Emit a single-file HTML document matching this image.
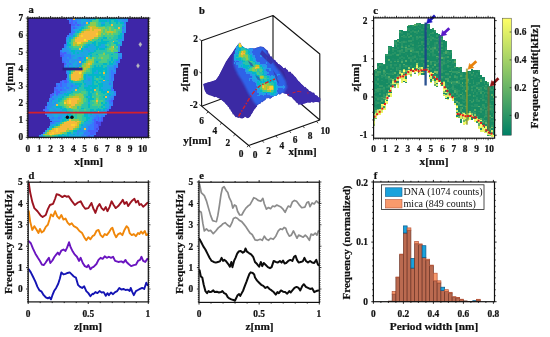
<!DOCTYPE html>
<html lang="en"><head><meta charset="utf-8"><title>Figure</title>
<style>html,body{margin:0;padding:0;background:#fff}body{width:550px;height:337px;overflow:hidden}svg{display:block}.b{font-weight:bold;stroke:#111;stroke-width:.22px}</style>
</head><body>
<svg width="550" height="337" viewBox="0 0 550 337" font-family="'Liberation Serif', 'DejaVu Serif', serif">
<defs><linearGradient id="summer" x1="0" y1="1" x2="0" y2="0"><stop offset="0" stop-color="#008066"/><stop offset="1" stop-color="#ffff66"/></linearGradient><filter id="bl0" x="-5%" y="-5%" width="110%" height="110%"><feGaussianBlur stdDeviation="0.45"/></filter><filter id="bl1" x="-10%" y="-10%" width="120%" height="120%"><feGaussianBlur stdDeviation="1.2"/></filter><filter id="bl2" x="-10%" y="-10%" width="120%" height="120%"><feGaussianBlur stdDeviation="0.5"/></filter><filter id="bl3" x="-5%" y="-5%" width="110%" height="110%"><feGaussianBlur stdDeviation="0.4"/></filter></defs>
<rect width="550" height="337" fill="#fff"/>
<rect x="27.9" y="18.1" width="120.4" height="119.2" fill="#3e26a8"/>
<g filter="url(#bl0)" shape-rendering="crispEdges">
<path fill="#347afd" d="M67.41 18.1h3.81v1.91h-3.81zM123.84 18.1h1.93v1.91h-1.93zM69.29 19.96h1.93v1.91h-1.93zM73.05 19.96h3.81v1.91h-3.81zM73.05 21.83h1.93v1.91h-1.93zM123.84 21.83h1.93v1.91h-1.93zM74.93 23.69h1.93v1.91h-1.93zM78.69 23.69h1.93v1.91h-1.93zM71.17 25.55h3.81v1.91h-3.81zM71.17 27.41h1.93v1.91h-1.93zM74.93 27.41h1.93v1.91h-1.93zM121.96 27.41h1.93v1.91h-1.93zM71.17 29.28h1.93v1.91h-1.93zM71.17 31.14h3.81v1.91h-3.81zM121.96 31.14h1.93v1.91h-1.93zM69.29 33h3.81v1.91h-3.81zM67.41 34.86h1.93v1.91h-1.93zM65.53 36.73h1.93v1.91h-1.93zM65.53 38.59h1.93v1.91h-1.93zM65.53 42.31h1.93v1.91h-1.93zM63.64 44.18h3.81v1.91h-3.81zM63.64 46.04h1.93v1.91h-1.93zM59.88 49.76h1.93v1.91h-1.93zM61.76 51.63h1.93v1.91h-1.93zM65.53 51.63h1.93v1.91h-1.93zM116.32 51.63h1.93v1.91h-1.93zM63.64 53.49h7.58v1.91h-7.58zM63.64 55.35h7.58v1.91h-7.58zM61.76 57.21h5.69v1.91h-5.69zM69.29 57.21h1.93v1.91h-1.93zM78.69 57.21h1.93v1.91h-1.93zM118.2 57.21h3.81v1.91h-3.81zM61.76 59.08h7.58v1.91h-7.58zM118.2 59.08h1.93v1.91h-1.93zM63.64 60.94h1.93v1.91h-1.93zM67.41 60.94h1.93v1.91h-1.93zM116.32 60.94h3.81v1.91h-3.81zM65.53 62.8h1.93v1.91h-1.93zM69.29 62.8h1.93v1.91h-1.93zM63.64 64.66h1.93v1.91h-1.93zM67.41 64.66h1.93v1.91h-1.93zM114.44 64.66h1.93v1.91h-1.93zM114.44 66.53h3.81v1.91h-3.81zM63.64 68.39h1.93v1.91h-1.93zM114.44 68.39h1.93v1.91h-1.93zM65.53 70.25h1.93v1.91h-1.93zM110.68 70.25h1.93v1.91h-1.93zM65.53 72.11h1.93v1.91h-1.93zM110.68 72.11h5.69v1.91h-5.69zM110.68 73.98h3.81v1.91h-3.81zM110.68 75.84h3.81v1.91h-3.81zM110.68 77.7h1.93v1.91h-1.93zM110.68 79.56h3.81v1.91h-3.81zM61.76 81.43h1.93v1.91h-1.93zM67.41 81.43h1.93v1.91h-1.93zM56.12 83.29h3.81v1.91h-3.81zM61.76 83.29h5.69v1.91h-5.69zM108.79 83.29h1.93v1.91h-1.93zM58 85.15h1.93v1.91h-1.93zM61.76 85.15h5.69v1.91h-5.69zM71.17 85.15h1.93v1.91h-1.93zM56.12 87.01h7.58v1.91h-7.58zM65.53 87.01h3.81v1.91h-3.81zM110.68 87.01h1.93v1.91h-1.93zM58 88.88h1.93v1.91h-1.93zM61.76 88.88h3.81v1.91h-3.81zM110.68 88.88h3.81v1.91h-3.81zM54.24 90.74h1.93v1.91h-1.93zM114.44 90.74h1.93v1.91h-1.93zM54.24 92.6h1.93v1.91h-1.93zM58 92.6h3.81v1.91h-3.81zM56.12 94.46h1.93v1.91h-1.93zM114.44 94.46h1.93v1.91h-1.93zM112.56 96.33h1.93v1.91h-1.93zM48.59 98.19h1.93v1.91h-1.93zM52.36 98.19h1.93v1.91h-1.93zM110.68 98.19h3.81v1.91h-3.81zM50.48 100.05h1.93v1.91h-1.93zM108.79 100.05h1.93v1.91h-1.93zM48.59 101.91h1.93v1.91h-1.93zM108.79 101.91h3.81v1.91h-3.81zM46.71 103.78h1.93v1.91h-1.93zM110.68 103.78h1.93v1.91h-1.93zM108.79 105.64h1.93v1.91h-1.93zM108.79 107.5h1.93v1.91h-1.93zM44.83 109.36h3.81v1.91h-3.81zM106.91 109.36h1.93v1.91h-1.93zM44.83 111.23h3.81v1.91h-3.81zM44.83 113.09h1.93v1.91h-1.93zM105.03 113.09h1.93v1.91h-1.93zM95.62 114.95h3.81v1.91h-3.81zM101.27 114.95h3.81v1.91h-3.81zM52.36 116.81h1.93v1.91h-1.93zM58 116.81h1.93v1.91h-1.93zM93.74 116.81h3.81v1.91h-3.81zM99.39 116.81h1.93v1.91h-1.93zM50.48 118.68h1.93v1.91h-1.93zM91.86 118.68h1.93v1.91h-1.93zM95.62 118.68h1.93v1.91h-1.93zM99.39 118.68h1.93v1.91h-1.93zM52.36 120.54h7.58v1.91h-7.58zM50.48 122.4h3.81v1.91h-3.81zM91.86 122.4h1.93v1.91h-1.93zM89.98 124.26h3.81v1.91h-3.81zM88.1 126.13h5.69v1.91h-5.69zM88.1 127.99h5.69v1.91h-5.69zM86.22 129.85h1.93v1.91h-1.93zM42.95 131.71h1.93v1.91h-1.93zM84.34 131.71h5.69v1.91h-5.69zM84.34 133.58h5.69v1.91h-5.69zM93.74 133.58h1.93v1.91h-1.93zM82.46 135.44h1.93v1.91h-1.93zM86.22 135.44h1.93v1.91h-1.93zM89.98 135.44h3.81v1.91h-3.81z"/>
<path fill="#465ffb" d="M71.17 18.1h1.93v1.91h-1.93zM71.17 19.96h1.93v1.91h-1.93zM69.29 21.83h3.81v1.91h-3.81zM74.93 21.83h1.93v1.91h-1.93zM71.17 23.69h3.81v1.91h-3.81zM76.81 23.69h1.93v1.91h-1.93zM73.05 27.41h1.93v1.91h-1.93zM59.88 51.63h1.93v1.91h-1.93zM63.64 51.63h1.93v1.91h-1.93zM59.88 53.49h3.81v1.91h-3.81zM61.76 55.35h1.93v1.91h-1.93zM61.76 60.94h1.93v1.91h-1.93zM63.64 62.8h1.93v1.91h-1.93zM65.53 77.7h1.93v1.91h-1.93zM61.76 79.56h5.69v1.91h-5.69zM59.88 81.43h1.93v1.91h-1.93zM63.64 81.43h3.81v1.91h-3.81zM59.88 83.29h1.93v1.91h-1.93zM56.12 85.15h1.93v1.91h-1.93zM59.88 85.15h1.93v1.91h-1.93zM54.24 87.01h1.93v1.91h-1.93zM54.24 88.88h3.81v1.91h-3.81zM59.88 88.88h1.93v1.91h-1.93zM56.12 90.74h3.81v1.91h-3.81zM52.36 92.6h1.93v1.91h-1.93zM56.12 92.6h1.93v1.91h-1.93zM50.48 94.46h3.81v1.91h-3.81zM50.48 96.33h1.93v1.91h-1.93zM110.68 100.05h1.93v1.91h-1.93zM44.83 105.64h1.93v1.91h-1.93zM44.83 107.5h1.93v1.91h-1.93zM42.95 109.36h1.93v1.91h-1.93zM97.51 116.81h1.93v1.91h-1.93zM101.27 116.81h1.93v1.91h-1.93zM93.74 118.68h1.93v1.91h-1.93zM97.51 118.68h1.93v1.91h-1.93zM101.27 118.68h1.93v1.91h-1.93zM93.74 120.54h1.93v1.91h-1.93zM97.51 120.54h3.81v1.91h-3.81zM93.74 122.4h1.93v1.91h-1.93zM93.74 124.26h3.81v1.91h-3.81zM93.74 126.13h3.81v1.91h-3.81zM93.74 127.99h1.93v1.91h-1.93zM97.51 127.99h1.93v1.91h-1.93zM88.1 129.85h9.46v1.91h-9.46zM89.98 131.71h5.69v1.91h-5.69zM89.98 133.58h3.81v1.91h-3.81zM88.1 135.44h1.93v1.91h-1.93z"/>
<path fill="#f6ba3b" d="M73.05 18.1h1.93v1.91h-1.93zM86.22 21.83h1.93v1.91h-1.93zM110.68 23.69h1.93v1.91h-1.93zM89.98 27.41h1.93v1.91h-1.93zM118.2 27.41h1.93v1.91h-1.93zM89.98 29.28h1.93v1.91h-1.93zM93.74 29.28h7.58v1.91h-7.58zM84.34 31.14h13.22v1.91h-13.22zM80.58 33h15.1v1.91h-15.1zM78.69 34.86h1.93v1.91h-1.93zM82.46 34.86h15.1v1.91h-15.1zM76.81 36.73h16.98v1.91h-16.98zM74.93 38.59h9.46v1.91h-9.46zM86.22 38.59h3.81v1.91h-3.81zM74.93 40.45h13.22v1.91h-13.22zM112.56 40.45h1.93v1.91h-1.93zM80.58 46.04h1.93v1.91h-1.93zM112.56 46.04h1.93v1.91h-1.93zM78.69 47.9h1.93v1.91h-1.93zM86.22 57.21h1.93v1.91h-1.93zM78.69 60.94h1.93v1.91h-1.93zM88.1 62.8h1.93v1.91h-1.93zM78.69 66.53h1.93v1.91h-1.93zM78.69 68.39h1.93v1.91h-1.93zM74.93 70.25h7.58v1.91h-7.58zM73.05 72.11h5.69v1.91h-5.69zM80.58 72.11h1.93v1.91h-1.93zM103.15 72.11h1.93v1.91h-1.93zM71.17 73.98h9.46v1.91h-9.46zM71.17 75.84h9.46v1.91h-9.46zM71.17 77.7h7.58v1.91h-7.58zM74.93 79.56h1.93v1.91h-1.93zM103.15 79.56h1.93v1.91h-1.93zM74.93 88.88h1.93v1.91h-1.93zM93.74 88.88h1.93v1.91h-1.93zM106.91 90.74h1.93v1.91h-1.93zM105.03 96.33h1.93v1.91h-1.93zM69.29 98.19h9.46v1.91h-9.46zM67.41 100.05h1.93v1.91h-1.93zM71.17 100.05h5.69v1.91h-5.69zM95.62 100.05h1.93v1.91h-1.93zM67.41 101.91h1.93v1.91h-1.93zM71.17 101.91h5.69v1.91h-5.69zM56.12 103.78h1.93v1.91h-1.93zM71.17 103.78h3.81v1.91h-3.81zM69.29 105.64h1.93v1.91h-1.93zM97.51 111.23h1.93v1.91h-1.93zM69.29 118.68h1.93v1.91h-1.93zM67.41 120.54h7.58v1.91h-7.58zM76.81 120.54h1.93v1.91h-1.93zM63.64 122.4h13.22v1.91h-13.22zM61.76 124.26h9.46v1.91h-9.46zM74.93 124.26h1.93v1.91h-1.93zM59.88 126.13h15.1v1.91h-15.1zM54.24 127.99h1.93v1.91h-1.93zM58 127.99h9.46v1.91h-9.46zM69.29 127.99h3.81v1.91h-3.81zM84.34 127.99h1.93v1.91h-1.93zM50.48 129.85h5.69v1.91h-5.69zM58 129.85h7.58v1.91h-7.58zM48.59 131.71h3.81v1.91h-3.81zM54.24 131.71h5.69v1.91h-5.69zM48.59 133.58h1.93v1.91h-1.93zM52.36 133.58h1.93v1.91h-1.93z"/>
<path fill="#2a93ee" d="M74.93 18.1h5.69v1.91h-5.69zM86.22 18.1h3.81v1.91h-3.81zM118.2 18.1h5.69v1.91h-5.69zM125.72 18.1h1.93v1.91h-1.93zM76.81 19.96h3.81v1.91h-3.81zM88.1 19.96h1.93v1.91h-1.93zM121.96 19.96h5.69v1.91h-5.69zM76.81 21.83h3.81v1.91h-3.81zM82.46 21.83h3.81v1.91h-3.81zM80.58 23.69h3.81v1.91h-3.81zM123.84 23.69h1.93v1.91h-1.93zM74.93 25.55h5.69v1.91h-5.69zM123.84 25.55h1.93v1.91h-1.93zM76.81 27.41h1.93v1.91h-1.93zM123.84 27.41h1.93v1.91h-1.93zM73.05 29.28h1.93v1.91h-1.93zM121.96 29.28h3.81v1.91h-3.81zM123.84 31.14h1.93v1.91h-1.93zM69.29 34.86h3.81v1.91h-3.81zM121.96 34.86h1.93v1.91h-1.93zM67.41 36.73h1.93v1.91h-1.93zM121.96 36.73h1.93v1.91h-1.93zM120.08 38.59h3.81v1.91h-3.81zM65.53 40.45h1.93v1.91h-1.93zM120.08 40.45h1.93v1.91h-1.93zM118.2 44.18h3.81v1.91h-3.81zM118.2 46.04h1.93v1.91h-1.93zM61.76 47.9h5.69v1.91h-5.69zM86.22 47.9h1.93v1.91h-1.93zM118.2 47.9h1.93v1.91h-1.93zM61.76 49.76h7.58v1.91h-7.58zM88.1 49.76h1.93v1.91h-1.93zM118.2 49.76h1.93v1.91h-1.93zM67.41 51.63h3.81v1.91h-3.81zM82.46 51.63h1.93v1.91h-1.93zM114.44 51.63h1.93v1.91h-1.93zM76.81 53.49h1.93v1.91h-1.93zM80.58 53.49h1.93v1.91h-1.93zM118.2 53.49h3.81v1.91h-3.81zM71.17 55.35h3.81v1.91h-3.81zM82.46 55.35h1.93v1.91h-1.93zM118.2 55.35h3.81v1.91h-3.81zM67.41 57.21h1.93v1.91h-1.93zM71.17 57.21h1.93v1.91h-1.93zM76.81 57.21h1.93v1.91h-1.93zM80.58 57.21h3.81v1.91h-3.81zM69.29 59.08h13.22v1.91h-13.22zM65.53 60.94h1.93v1.91h-1.93zM71.17 60.94h3.81v1.91h-3.81zM76.81 60.94h1.93v1.91h-1.93zM80.58 60.94h1.93v1.91h-1.93zM67.41 62.8h1.93v1.91h-1.93zM71.17 62.8h1.93v1.91h-1.93zM76.81 62.8h5.69v1.91h-5.69zM116.32 62.8h1.93v1.91h-1.93zM71.17 64.66h1.93v1.91h-1.93zM74.93 64.66h3.81v1.91h-3.81zM112.56 64.66h1.93v1.91h-1.93zM116.32 64.66h1.93v1.91h-1.93zM63.64 66.53h1.93v1.91h-1.93zM67.41 66.53h1.93v1.91h-1.93zM108.79 66.53h5.69v1.91h-5.69zM65.53 68.39h1.93v1.91h-1.93zM108.79 68.39h5.69v1.91h-5.69zM108.79 70.25h1.93v1.91h-1.93zM112.56 70.25h3.81v1.91h-3.81zM67.41 72.11h1.93v1.91h-1.93zM108.79 72.11h1.93v1.91h-1.93zM67.41 73.98h1.93v1.91h-1.93zM108.79 73.98h1.93v1.91h-1.93zM67.41 75.84h1.93v1.91h-1.93zM108.79 75.84h1.93v1.91h-1.93zM67.41 77.7h1.93v1.91h-1.93zM88.1 77.7h1.93v1.91h-1.93zM108.79 77.7h1.93v1.91h-1.93zM112.56 77.7h1.93v1.91h-1.93zM67.41 79.56h1.93v1.91h-1.93zM88.1 79.56h1.93v1.91h-1.93zM108.79 79.56h1.93v1.91h-1.93zM108.79 81.43h3.81v1.91h-3.81zM67.41 83.29h5.69v1.91h-5.69zM110.68 83.29h1.93v1.91h-1.93zM67.41 85.15h3.81v1.91h-3.81zM73.05 85.15h3.81v1.91h-3.81zM110.68 85.15h1.93v1.91h-1.93zM63.64 87.01h1.93v1.91h-1.93zM69.29 87.01h3.81v1.91h-3.81zM74.93 87.01h1.93v1.91h-1.93zM65.53 88.88h5.69v1.91h-5.69zM59.88 90.74h7.58v1.91h-7.58zM61.76 92.6h1.93v1.91h-1.93zM112.56 92.6h3.81v1.91h-3.81zM54.24 94.46h1.93v1.91h-1.93zM58 94.46h1.93v1.91h-1.93zM110.68 94.46h3.81v1.91h-3.81zM52.36 96.33h5.69v1.91h-5.69zM108.79 96.33h3.81v1.91h-3.81zM50.48 98.19h1.93v1.91h-1.93zM54.24 98.19h1.93v1.91h-1.93zM108.79 98.19h1.93v1.91h-1.93zM48.59 100.05h1.93v1.91h-1.93zM106.91 100.05h1.93v1.91h-1.93zM46.71 101.91h1.93v1.91h-1.93zM50.48 101.91h1.93v1.91h-1.93zM54.24 101.91h1.93v1.91h-1.93zM48.59 103.78h5.69v1.91h-5.69zM108.79 103.78h1.93v1.91h-1.93zM46.71 105.64h5.69v1.91h-5.69zM46.71 107.5h3.81v1.91h-3.81zM52.36 107.5h1.93v1.91h-1.93zM106.91 107.5h1.93v1.91h-1.93zM54.24 109.36h1.93v1.91h-1.93zM105.03 109.36h1.93v1.91h-1.93zM48.59 111.23h1.93v1.91h-1.93zM59.88 111.23h1.93v1.91h-1.93zM99.39 111.23h1.93v1.91h-1.93zM103.15 111.23h3.81v1.91h-3.81zM46.71 113.09h5.69v1.91h-5.69zM93.74 113.09h9.46v1.91h-9.46zM46.71 114.95h7.58v1.91h-7.58zM58 114.95h3.81v1.91h-3.81zM65.53 114.95h1.93v1.91h-1.93zM89.98 114.95h5.69v1.91h-5.69zM99.39 114.95h1.93v1.91h-1.93zM48.59 116.81h3.81v1.91h-3.81zM54.24 116.81h3.81v1.91h-3.81zM59.88 116.81h1.93v1.91h-1.93zM91.86 116.81h1.93v1.91h-1.93zM52.36 118.68h7.58v1.91h-7.58zM88.1 120.54h5.69v1.91h-5.69zM54.24 122.4h1.93v1.91h-1.93zM89.98 122.4h1.93v1.91h-1.93zM50.48 124.26h1.93v1.91h-1.93zM86.22 124.26h3.81v1.91h-3.81zM48.59 126.13h1.93v1.91h-1.93zM82.46 126.13h1.93v1.91h-1.93zM86.22 126.13h1.93v1.91h-1.93zM46.71 127.99h1.93v1.91h-1.93zM80.58 127.99h1.93v1.91h-1.93zM86.22 127.99h1.93v1.91h-1.93zM44.83 129.85h1.93v1.91h-1.93zM76.81 129.85h9.46v1.91h-9.46zM76.81 131.71h1.93v1.91h-1.93zM82.46 131.71h1.93v1.91h-1.93zM41.07 133.58h1.93v1.91h-1.93zM76.81 133.58h1.93v1.91h-1.93zM80.58 133.58h3.81v1.91h-3.81zM39.19 135.44h3.81v1.91h-3.81zM80.58 135.44h1.93v1.91h-1.93zM84.34 135.44h1.93v1.91h-1.93z"/>
<path fill="#1da8e0" d="M80.58 18.1h5.69v1.91h-5.69zM89.98 18.1h3.81v1.91h-3.81zM101.27 18.1h7.58v1.91h-7.58zM116.32 18.1h1.93v1.91h-1.93zM80.58 19.96h7.58v1.91h-7.58zM106.91 19.96h1.93v1.91h-1.93zM118.2 19.96h3.81v1.91h-3.81zM80.58 21.83h1.93v1.91h-1.93zM101.27 21.83h3.81v1.91h-3.81zM84.34 23.69h1.93v1.91h-1.93zM121.96 23.69h1.93v1.91h-1.93zM80.58 25.55h3.81v1.91h-3.81zM78.69 27.41h1.93v1.91h-1.93zM74.93 29.28h3.81v1.91h-3.81zM74.93 31.14h1.93v1.91h-1.93zM73.05 33h1.93v1.91h-1.93zM121.96 33h1.93v1.91h-1.93zM71.17 36.73h1.93v1.91h-1.93zM67.41 38.59h1.93v1.91h-1.93zM118.2 38.59h1.93v1.91h-1.93zM67.41 40.45h1.93v1.91h-1.93zM118.2 40.45h1.93v1.91h-1.93zM120.08 42.31h1.93v1.91h-1.93zM86.22 44.18h1.93v1.91h-1.93zM89.98 44.18h3.81v1.91h-3.81zM101.27 44.18h3.81v1.91h-3.81zM65.53 46.04h3.81v1.91h-3.81zM88.1 46.04h7.58v1.91h-7.58zM99.39 46.04h5.69v1.91h-5.69zM67.41 47.9h3.81v1.91h-3.81zM82.46 47.9h3.81v1.91h-3.81zM88.1 47.9h7.58v1.91h-7.58zM69.29 49.76h1.93v1.91h-1.93zM74.93 49.76h5.69v1.91h-5.69zM82.46 49.76h5.69v1.91h-5.69zM89.98 49.76h3.81v1.91h-3.81zM71.17 51.63h1.93v1.91h-1.93zM74.93 51.63h1.93v1.91h-1.93zM78.69 51.63h3.81v1.91h-3.81zM84.34 51.63h5.69v1.91h-5.69zM71.17 53.49h5.69v1.91h-5.69zM78.69 53.49h1.93v1.91h-1.93zM82.46 53.49h5.69v1.91h-5.69zM89.98 53.49h1.93v1.91h-1.93zM74.93 55.35h7.58v1.91h-7.58zM84.34 55.35h3.81v1.91h-3.81zM73.05 57.21h3.81v1.91h-3.81zM82.46 59.08h1.93v1.91h-1.93zM114.44 59.08h1.93v1.91h-1.93zM69.29 60.94h1.93v1.91h-1.93zM74.93 60.94h1.93v1.91h-1.93zM114.44 60.94h1.93v1.91h-1.93zM73.05 62.8h3.81v1.91h-3.81zM112.56 62.8h3.81v1.91h-3.81zM65.53 64.66h1.93v1.91h-1.93zM69.29 64.66h1.93v1.91h-1.93zM73.05 64.66h1.93v1.91h-1.93zM106.91 64.66h5.69v1.91h-5.69zM65.53 66.53h1.93v1.91h-1.93zM69.29 66.53h3.81v1.91h-3.81zM106.91 66.53h1.93v1.91h-1.93zM67.41 68.39h5.69v1.91h-5.69zM106.91 68.39h1.93v1.91h-1.93zM67.41 70.25h1.93v1.91h-1.93zM95.62 70.25h1.93v1.91h-1.93zM106.91 70.25h1.93v1.91h-1.93zM93.74 72.11h3.81v1.91h-3.81zM106.91 72.11h1.93v1.91h-1.93zM86.22 73.98h1.93v1.91h-1.93zM105.03 73.98h3.81v1.91h-3.81zM86.22 75.84h5.69v1.91h-5.69zM105.03 75.84h3.81v1.91h-3.81zM86.22 77.7h1.93v1.91h-1.93zM89.98 77.7h1.93v1.91h-1.93zM105.03 77.7h3.81v1.91h-3.81zM84.34 79.56h3.81v1.91h-3.81zM89.98 79.56h1.93v1.91h-1.93zM105.03 79.56h1.93v1.91h-1.93zM69.29 81.43h1.93v1.91h-1.93zM84.34 81.43h7.58v1.91h-7.58zM101.27 81.43h7.58v1.91h-7.58zM73.05 83.29h1.93v1.91h-1.93zM86.22 83.29h5.69v1.91h-5.69zM103.15 83.29h5.69v1.91h-5.69zM76.81 85.15h1.93v1.91h-1.93zM84.34 85.15h3.81v1.91h-3.81zM103.15 85.15h7.58v1.91h-7.58zM73.05 87.01h1.93v1.91h-1.93zM89.98 87.01h1.93v1.91h-1.93zM101.27 87.01h9.46v1.91h-9.46zM71.17 88.88h3.81v1.91h-3.81zM103.15 88.88h3.81v1.91h-3.81zM67.41 90.74h3.81v1.91h-3.81zM108.79 90.74h5.69v1.91h-5.69zM65.53 92.6h1.93v1.91h-1.93zM108.79 92.6h3.81v1.91h-3.81zM59.88 94.46h5.69v1.91h-5.69zM106.91 94.46h1.93v1.91h-1.93zM58 96.33h3.81v1.91h-3.81zM88.1 96.33h1.93v1.91h-1.93zM106.91 96.33h1.93v1.91h-1.93zM56.12 98.19h1.93v1.91h-1.93zM106.91 98.19h1.93v1.91h-1.93zM52.36 100.05h5.69v1.91h-5.69zM105.03 100.05h1.93v1.91h-1.93zM52.36 101.91h1.93v1.91h-1.93zM56.12 101.91h1.93v1.91h-1.93zM88.1 101.91h1.93v1.91h-1.93zM106.91 101.91h1.93v1.91h-1.93zM54.24 103.78h1.93v1.91h-1.93zM105.03 103.78h3.81v1.91h-3.81zM52.36 105.64h3.81v1.91h-3.81zM105.03 105.64h3.81v1.91h-3.81zM50.48 107.5h1.93v1.91h-1.93zM54.24 107.5h5.69v1.91h-5.69zM61.76 107.5h1.93v1.91h-1.93zM48.59 109.36h5.69v1.91h-5.69zM56.12 109.36h5.69v1.91h-5.69zM101.27 109.36h1.93v1.91h-1.93zM50.48 111.23h9.46v1.91h-9.46zM61.76 111.23h3.81v1.91h-3.81zM67.41 111.23h1.93v1.91h-1.93zM91.86 111.23h1.93v1.91h-1.93zM95.62 111.23h1.93v1.91h-1.93zM101.27 111.23h1.93v1.91h-1.93zM52.36 113.09h15.1v1.91h-15.1zM88.1 113.09h1.93v1.91h-1.93zM91.86 113.09h1.93v1.91h-1.93zM103.15 113.09h1.93v1.91h-1.93zM54.24 114.95h3.81v1.91h-3.81zM61.76 114.95h3.81v1.91h-3.81zM67.41 114.95h1.93v1.91h-1.93zM88.1 114.95h1.93v1.91h-1.93zM61.76 116.81h1.93v1.91h-1.93zM65.53 116.81h1.93v1.91h-1.93zM89.98 116.81h1.93v1.91h-1.93zM59.88 118.68h1.93v1.91h-1.93zM88.1 118.68h3.81v1.91h-3.81zM59.88 120.54h1.93v1.91h-1.93zM86.22 120.54h1.93v1.91h-1.93zM56.12 122.4h3.81v1.91h-3.81zM84.34 122.4h5.69v1.91h-5.69zM52.36 124.26h3.81v1.91h-3.81zM82.46 124.26h3.81v1.91h-3.81zM50.48 126.13h1.93v1.91h-1.93zM80.58 126.13h1.93v1.91h-1.93zM84.34 126.13h1.93v1.91h-1.93zM82.46 127.99h1.93v1.91h-1.93zM73.05 131.71h3.81v1.91h-3.81zM78.69 131.71h3.81v1.91h-3.81zM69.29 133.58h3.81v1.91h-3.81zM74.93 133.58h1.93v1.91h-1.93zM78.69 133.58h1.93v1.91h-1.93zM61.76 135.44h1.93v1.91h-1.93zM65.53 135.44h1.93v1.91h-1.93zM69.29 135.44h11.34v1.91h-11.34z"/>
<path fill="#01b8c8" d="M93.74 18.1h1.93v1.91h-1.93zM99.39 18.1h1.93v1.91h-1.93zM108.79 18.1h7.58v1.91h-7.58zM89.98 19.96h1.93v1.91h-1.93zM99.39 19.96h7.58v1.91h-7.58zM108.79 19.96h1.93v1.91h-1.93zM114.44 19.96h3.81v1.91h-3.81zM88.1 21.83h1.93v1.91h-1.93zM108.79 21.83h1.93v1.91h-1.93zM116.32 21.83h1.93v1.91h-1.93zM120.08 21.83h3.81v1.91h-3.81zM101.27 23.69h3.81v1.91h-3.81zM121.96 25.55h1.93v1.91h-1.93zM80.58 27.41h3.81v1.91h-3.81zM78.69 29.28h3.81v1.91h-3.81zM76.81 31.14h1.93v1.91h-1.93zM120.08 33h1.93v1.91h-1.93zM73.05 34.86h1.93v1.91h-1.93zM118.2 34.86h3.81v1.91h-3.81zM69.29 36.73h1.93v1.91h-1.93zM103.15 36.73h3.81v1.91h-3.81zM118.2 36.73h3.81v1.91h-3.81zM69.29 38.59h1.93v1.91h-1.93zM97.51 38.59h1.93v1.91h-1.93zM101.27 38.59h1.93v1.91h-1.93zM116.32 38.59h1.93v1.91h-1.93zM69.29 40.45h1.93v1.91h-1.93zM93.74 40.45h1.93v1.91h-1.93zM101.27 40.45h7.58v1.91h-7.58zM67.41 42.31h1.93v1.91h-1.93zM91.86 42.31h3.81v1.91h-3.81zM97.51 42.31h9.46v1.91h-9.46zM114.44 42.31h3.81v1.91h-3.81zM67.41 44.18h3.81v1.91h-3.81zM88.1 44.18h1.93v1.91h-1.93zM93.74 44.18h1.93v1.91h-1.93zM97.51 44.18h3.81v1.91h-3.81zM116.32 44.18h1.93v1.91h-1.93zM84.34 46.04h3.81v1.91h-3.81zM95.62 46.04h3.81v1.91h-3.81zM105.03 46.04h1.93v1.91h-1.93zM80.58 47.9h1.93v1.91h-1.93zM95.62 47.9h1.93v1.91h-1.93zM99.39 47.9h5.69v1.91h-5.69zM71.17 49.76h3.81v1.91h-3.81zM80.58 49.76h1.93v1.91h-1.93zM93.74 49.76h1.93v1.91h-1.93zM73.05 51.63h1.93v1.91h-1.93zM76.81 51.63h1.93v1.91h-1.93zM89.98 51.63h3.81v1.91h-3.81zM88.1 53.49h1.93v1.91h-1.93zM95.62 53.49h1.93v1.91h-1.93zM110.68 53.49h1.93v1.91h-1.93zM89.98 55.35h1.93v1.91h-1.93zM84.34 57.21h1.93v1.91h-1.93zM110.68 57.21h1.93v1.91h-1.93zM84.34 59.08h1.93v1.91h-1.93zM110.68 59.08h1.93v1.91h-1.93zM116.32 59.08h1.93v1.91h-1.93zM82.46 60.94h1.93v1.91h-1.93zM95.62 60.94h1.93v1.91h-1.93zM108.79 60.94h1.93v1.91h-1.93zM112.56 60.94h1.93v1.91h-1.93zM103.15 62.8h3.81v1.91h-3.81zM108.79 62.8h3.81v1.91h-3.81zM78.69 64.66h1.93v1.91h-1.93zM93.74 64.66h1.93v1.91h-1.93zM97.51 64.66h1.93v1.91h-1.93zM101.27 64.66h1.93v1.91h-1.93zM73.05 66.53h1.93v1.91h-1.93zM76.81 66.53h1.93v1.91h-1.93zM93.74 66.53h9.46v1.91h-9.46zM105.03 66.53h1.93v1.91h-1.93zM91.86 68.39h15.1v1.91h-15.1zM69.29 70.25h1.93v1.91h-1.93zM91.86 70.25h3.81v1.91h-3.81zM97.51 70.25h5.69v1.91h-5.69zM105.03 70.25h1.93v1.91h-1.93zM69.29 72.11h1.93v1.91h-1.93zM91.86 72.11h1.93v1.91h-1.93zM97.51 72.11h1.93v1.91h-1.93zM101.27 72.11h1.93v1.91h-1.93zM105.03 72.11h1.93v1.91h-1.93zM84.34 73.98h1.93v1.91h-1.93zM88.1 73.98h15.1v1.91h-15.1zM84.34 75.84h1.93v1.91h-1.93zM91.86 75.84h1.93v1.91h-1.93zM95.62 75.84h3.81v1.91h-3.81zM101.27 75.84h3.81v1.91h-3.81zM84.34 77.7h1.93v1.91h-1.93zM91.86 77.7h1.93v1.91h-1.93zM103.15 77.7h1.93v1.91h-1.93zM69.29 79.56h1.93v1.91h-1.93zM82.46 79.56h1.93v1.91h-1.93zM91.86 79.56h3.81v1.91h-3.81zM99.39 79.56h3.81v1.91h-3.81zM106.91 79.56h1.93v1.91h-1.93zM71.17 81.43h1.93v1.91h-1.93zM82.46 81.43h1.93v1.91h-1.93zM91.86 81.43h1.93v1.91h-1.93zM95.62 81.43h1.93v1.91h-1.93zM74.93 83.29h7.58v1.91h-7.58zM84.34 83.29h1.93v1.91h-1.93zM91.86 83.29h1.93v1.91h-1.93zM97.51 83.29h5.69v1.91h-5.69zM78.69 85.15h1.93v1.91h-1.93zM88.1 85.15h9.46v1.91h-9.46zM99.39 85.15h3.81v1.91h-3.81zM76.81 87.01h1.93v1.91h-1.93zM84.34 87.01h5.69v1.91h-5.69zM91.86 87.01h3.81v1.91h-3.81zM99.39 87.01h1.93v1.91h-1.93zM86.22 88.88h7.58v1.91h-7.58zM99.39 88.88h3.81v1.91h-3.81zM106.91 88.88h3.81v1.91h-3.81zM71.17 90.74h1.93v1.91h-1.93zM88.1 90.74h1.93v1.91h-1.93zM91.86 90.74h1.93v1.91h-1.93zM101.27 90.74h5.69v1.91h-5.69zM63.64 92.6h1.93v1.91h-1.93zM67.41 92.6h3.81v1.91h-3.81zM88.1 92.6h3.81v1.91h-3.81zM103.15 92.6h1.93v1.91h-1.93zM106.91 92.6h1.93v1.91h-1.93zM65.53 94.46h3.81v1.91h-3.81zM88.1 94.46h3.81v1.91h-3.81zM105.03 94.46h1.93v1.91h-1.93zM108.79 94.46h1.93v1.91h-1.93zM61.76 96.33h1.93v1.91h-1.93zM86.22 96.33h1.93v1.91h-1.93zM89.98 96.33h1.93v1.91h-1.93zM103.15 96.33h1.93v1.91h-1.93zM58 98.19h3.81v1.91h-3.81zM88.1 98.19h5.69v1.91h-5.69zM105.03 98.19h1.93v1.91h-1.93zM58 100.05h1.93v1.91h-1.93zM88.1 100.05h1.93v1.91h-1.93zM101.27 101.91h1.93v1.91h-1.93zM105.03 101.91h1.93v1.91h-1.93zM88.1 103.78h1.93v1.91h-1.93zM103.15 103.78h1.93v1.91h-1.93zM56.12 105.64h5.69v1.91h-5.69zM88.1 105.64h1.93v1.91h-1.93zM101.27 105.64h1.93v1.91h-1.93zM59.88 107.5h1.93v1.91h-1.93zM63.64 107.5h1.93v1.91h-1.93zM80.58 107.5h3.81v1.91h-3.81zM97.51 107.5h1.93v1.91h-1.93zM103.15 107.5h3.81v1.91h-3.81zM61.76 109.36h5.69v1.91h-5.69zM89.98 109.36h3.81v1.91h-3.81zM95.62 109.36h5.69v1.91h-5.69zM103.15 109.36h1.93v1.91h-1.93zM65.53 111.23h1.93v1.91h-1.93zM89.98 111.23h1.93v1.91h-1.93zM93.74 111.23h1.93v1.91h-1.93zM67.41 113.09h3.81v1.91h-3.81zM84.34 113.09h3.81v1.91h-3.81zM89.98 113.09h1.93v1.91h-1.93zM69.29 114.95h3.81v1.91h-3.81zM84.34 114.95h3.81v1.91h-3.81zM63.64 116.81h1.93v1.91h-1.93zM67.41 116.81h3.81v1.91h-3.81zM86.22 116.81h3.81v1.91h-3.81zM61.76 118.68h3.81v1.91h-3.81zM86.22 118.68h1.93v1.91h-1.93zM61.76 120.54h1.93v1.91h-1.93zM84.34 120.54h1.93v1.91h-1.93zM56.12 124.26h1.93v1.91h-1.93zM80.58 124.26h1.93v1.91h-1.93zM52.36 126.13h1.93v1.91h-1.93zM48.59 127.99h1.93v1.91h-1.93zM78.69 127.99h1.93v1.91h-1.93zM73.05 129.85h3.81v1.91h-3.81zM67.41 131.71h3.81v1.91h-3.81zM61.76 133.58h1.93v1.91h-1.93zM67.41 133.58h1.93v1.91h-1.93zM73.05 133.58h1.93v1.91h-1.93zM58 135.44h3.81v1.91h-3.81zM63.64 135.44h1.93v1.91h-1.93zM67.41 135.44h1.93v1.91h-1.93z"/>
<path fill="#4dcc82" d="M95.62 18.1h1.93v1.91h-1.93zM91.86 19.96h5.69v1.91h-5.69zM95.62 21.83h1.93v1.91h-1.93zM88.1 23.69h1.93v1.91h-1.93zM95.62 23.69h1.93v1.91h-1.93zM86.22 25.55h1.93v1.91h-1.93zM95.62 25.55h3.81v1.91h-3.81zM103.15 25.55h1.93v1.91h-1.93zM106.91 25.55h5.69v1.91h-5.69zM86.22 27.41h1.93v1.91h-1.93zM105.03 27.41h3.81v1.91h-3.81zM110.68 27.41h3.81v1.91h-3.81zM82.46 29.28h1.93v1.91h-1.93zM103.15 29.28h1.93v1.91h-1.93zM106.91 29.28h1.93v1.91h-1.93zM110.68 29.28h3.81v1.91h-3.81zM116.32 29.28h3.81v1.91h-3.81zM103.15 31.14h1.93v1.91h-1.93zM116.32 31.14h1.93v1.91h-1.93zM76.81 33h1.93v1.91h-1.93zM101.27 33h1.93v1.91h-1.93zM105.03 33h1.93v1.91h-1.93zM108.79 33h1.93v1.91h-1.93zM112.56 33h5.69v1.91h-5.69zM101.27 34.86h1.93v1.91h-1.93zM105.03 34.86h9.46v1.91h-9.46zM73.05 36.73h1.93v1.91h-1.93zM97.51 36.73h1.93v1.91h-1.93zM106.91 36.73h1.93v1.91h-1.93zM110.68 36.73h1.93v1.91h-1.93zM71.17 38.59h1.93v1.91h-1.93zM91.86 38.59h5.69v1.91h-5.69zM108.79 38.59h1.93v1.91h-1.93zM71.17 40.45h1.93v1.91h-1.93zM88.1 40.45h1.93v1.91h-1.93zM91.86 40.45h1.93v1.91h-1.93zM71.17 42.31h1.93v1.91h-1.93zM86.22 42.31h1.93v1.91h-1.93zM110.68 42.31h1.93v1.91h-1.93zM71.17 44.18h1.93v1.91h-1.93zM82.46 44.18h1.93v1.91h-1.93zM106.91 44.18h1.93v1.91h-1.93zM110.68 44.18h5.69v1.91h-5.69zM73.05 46.04h7.58v1.91h-7.58zM108.79 46.04h1.93v1.91h-1.93zM116.32 46.04h1.93v1.91h-1.93zM106.91 47.9h1.93v1.91h-1.93zM114.44 47.9h1.93v1.91h-1.93zM106.91 49.76h3.81v1.91h-3.81zM112.56 49.76h5.69v1.91h-5.69zM103.15 51.63h1.93v1.91h-1.93zM112.56 51.63h1.93v1.91h-1.93zM97.51 53.49h5.69v1.91h-5.69zM106.91 53.49h1.93v1.91h-1.93zM99.39 55.35h9.46v1.91h-9.46zM88.1 57.21h1.93v1.91h-1.93zM93.74 57.21h1.93v1.91h-1.93zM97.51 57.21h3.81v1.91h-3.81zM103.15 57.21h5.69v1.91h-5.69zM86.22 59.08h1.93v1.91h-1.93zM101.27 59.08h5.69v1.91h-5.69zM99.39 60.94h7.58v1.91h-7.58zM82.46 62.8h1.93v1.91h-1.93zM91.86 62.8h1.93v1.91h-1.93zM89.98 64.66h1.93v1.91h-1.93zM80.58 66.53h1.93v1.91h-1.93zM89.98 66.53h1.93v1.91h-1.93zM74.93 68.39h1.93v1.91h-1.93zM88.1 68.39h1.93v1.91h-1.93zM71.17 70.25h1.93v1.91h-1.93zM86.22 70.25h3.81v1.91h-3.81zM84.34 72.11h1.93v1.91h-1.93zM69.29 73.98h1.93v1.91h-1.93zM82.46 73.98h1.93v1.91h-1.93zM69.29 75.84h1.93v1.91h-1.93zM82.46 77.7h1.93v1.91h-1.93zM95.62 77.7h1.93v1.91h-1.93zM71.17 79.56h1.93v1.91h-1.93zM80.58 90.74h5.69v1.91h-5.69zM95.62 90.74h1.93v1.91h-1.93zM73.05 92.6h5.69v1.91h-5.69zM80.58 92.6h5.69v1.91h-5.69zM69.29 94.46h5.69v1.91h-5.69zM82.46 94.46h1.93v1.91h-1.93zM95.62 94.46h5.69v1.91h-5.69zM67.41 96.33h1.93v1.91h-1.93zM91.86 96.33h1.93v1.91h-1.93zM95.62 96.33h3.81v1.91h-3.81zM63.64 98.19h1.93v1.91h-1.93zM82.46 98.19h3.81v1.91h-3.81zM97.51 98.19h1.93v1.91h-1.93zM61.76 100.05h1.93v1.91h-1.93zM82.46 100.05h3.81v1.91h-3.81zM91.86 100.05h3.81v1.91h-3.81zM97.51 100.05h5.69v1.91h-5.69zM59.88 101.91h3.81v1.91h-3.81zM82.46 101.91h1.93v1.91h-1.93zM93.74 101.91h1.93v1.91h-1.93zM99.39 101.91h1.93v1.91h-1.93zM59.88 103.78h3.81v1.91h-3.81zM80.58 103.78h1.93v1.91h-1.93zM91.86 103.78h9.46v1.91h-9.46zM63.64 105.64h1.93v1.91h-1.93zM78.69 105.64h1.93v1.91h-1.93zM97.51 105.64h1.93v1.91h-1.93zM67.41 107.5h1.93v1.91h-1.93zM78.69 107.5h1.93v1.91h-1.93zM73.05 109.36h5.69v1.91h-5.69zM84.34 109.36h1.93v1.91h-1.93zM73.05 111.23h1.93v1.91h-1.93zM76.81 111.23h1.93v1.91h-1.93zM73.05 113.09h1.93v1.91h-1.93zM76.81 113.09h7.58v1.91h-7.58zM76.81 114.95h5.69v1.91h-5.69zM73.05 116.81h1.93v1.91h-1.93zM76.81 116.81h5.69v1.91h-5.69zM78.69 118.68h3.81v1.91h-3.81zM63.64 120.54h1.93v1.91h-1.93zM80.58 120.54h3.81v1.91h-3.81zM54.24 126.13h1.93v1.91h-1.93zM74.93 127.99h1.93v1.91h-1.93zM46.71 129.85h1.93v1.91h-1.93zM69.29 129.85h3.81v1.91h-3.81zM44.83 131.71h1.93v1.91h-1.93zM63.64 131.71h3.81v1.91h-3.81zM58 133.58h3.81v1.91h-3.81zM44.83 135.44h5.69v1.91h-5.69zM52.36 135.44h1.93v1.91h-1.93z"/>
<path fill="#2ac3a9" d="M97.51 18.1h1.93v1.91h-1.93zM97.51 19.96h1.93v1.91h-1.93zM110.68 19.96h3.81v1.91h-3.81zM97.51 21.83h3.81v1.91h-3.81zM105.03 21.83h3.81v1.91h-3.81zM110.68 21.83h5.69v1.91h-5.69zM118.2 21.83h1.93v1.91h-1.93zM86.22 23.69h1.93v1.91h-1.93zM97.51 23.69h3.81v1.91h-3.81zM105.03 23.69h5.69v1.91h-5.69zM112.56 23.69h9.46v1.91h-9.46zM84.34 25.55h1.93v1.91h-1.93zM99.39 25.55h3.81v1.91h-3.81zM105.03 25.55h1.93v1.91h-1.93zM112.56 25.55h9.46v1.91h-9.46zM84.34 27.41h1.93v1.91h-1.93zM114.44 27.41h3.81v1.91h-3.81zM120.08 27.41h1.93v1.91h-1.93zM120.08 29.28h1.93v1.91h-1.93zM78.69 31.14h1.93v1.91h-1.93zM118.2 31.14h3.81v1.91h-3.81zM74.93 33h1.93v1.91h-1.93zM118.2 33h1.93v1.91h-1.93zM74.93 34.86h1.93v1.91h-1.93zM103.15 34.86h1.93v1.91h-1.93zM114.44 34.86h3.81v1.91h-3.81zM99.39 36.73h3.81v1.91h-3.81zM108.79 36.73h1.93v1.91h-1.93zM112.56 36.73h5.69v1.91h-5.69zM99.39 38.59h1.93v1.91h-1.93zM103.15 38.59h5.69v1.91h-5.69zM110.68 38.59h5.69v1.91h-5.69zM89.98 40.45h1.93v1.91h-1.93zM95.62 40.45h5.69v1.91h-5.69zM108.79 40.45h3.81v1.91h-3.81zM114.44 40.45h3.81v1.91h-3.81zM69.29 42.31h1.93v1.91h-1.93zM88.1 42.31h3.81v1.91h-3.81zM95.62 42.31h1.93v1.91h-1.93zM106.91 42.31h3.81v1.91h-3.81zM112.56 42.31h1.93v1.91h-1.93zM118.2 42.31h1.93v1.91h-1.93zM84.34 44.18h1.93v1.91h-1.93zM95.62 44.18h1.93v1.91h-1.93zM105.03 44.18h1.93v1.91h-1.93zM108.79 44.18h1.93v1.91h-1.93zM69.29 46.04h3.81v1.91h-3.81zM82.46 46.04h1.93v1.91h-1.93zM106.91 46.04h1.93v1.91h-1.93zM114.44 46.04h1.93v1.91h-1.93zM71.17 47.9h7.58v1.91h-7.58zM97.51 47.9h1.93v1.91h-1.93zM105.03 47.9h1.93v1.91h-1.93zM116.32 47.9h1.93v1.91h-1.93zM95.62 49.76h11.34v1.91h-11.34zM93.74 51.63h9.46v1.91h-9.46zM105.03 51.63h7.58v1.91h-7.58zM91.86 53.49h3.81v1.91h-3.81zM105.03 53.49h1.93v1.91h-1.93zM108.79 53.49h1.93v1.91h-1.93zM112.56 53.49h5.69v1.91h-5.69zM88.1 55.35h1.93v1.91h-1.93zM91.86 55.35h7.58v1.91h-7.58zM108.79 55.35h9.46v1.91h-9.46zM89.98 57.21h1.93v1.91h-1.93zM95.62 57.21h1.93v1.91h-1.93zM108.79 57.21h1.93v1.91h-1.93zM112.56 57.21h5.69v1.91h-5.69zM93.74 59.08h7.58v1.91h-7.58zM106.91 59.08h3.81v1.91h-3.81zM112.56 59.08h1.93v1.91h-1.93zM84.34 60.94h1.93v1.91h-1.93zM93.74 60.94h1.93v1.91h-1.93zM97.51 60.94h1.93v1.91h-1.93zM106.91 60.94h1.93v1.91h-1.93zM110.68 60.94h1.93v1.91h-1.93zM93.74 62.8h9.46v1.91h-9.46zM106.91 62.8h1.93v1.91h-1.93zM80.58 64.66h1.93v1.91h-1.93zM91.86 64.66h1.93v1.91h-1.93zM95.62 64.66h1.93v1.91h-1.93zM99.39 64.66h1.93v1.91h-1.93zM103.15 64.66h3.81v1.91h-3.81zM74.93 66.53h1.93v1.91h-1.93zM91.86 66.53h1.93v1.91h-1.93zM103.15 66.53h1.93v1.91h-1.93zM73.05 68.39h1.93v1.91h-1.93zM89.98 68.39h1.93v1.91h-1.93zM89.98 70.25h1.93v1.91h-1.93zM103.15 70.25h1.93v1.91h-1.93zM86.22 72.11h5.69v1.91h-5.69zM99.39 72.11h1.93v1.91h-1.93zM103.15 73.98h1.93v1.91h-1.93zM82.46 75.84h1.93v1.91h-1.93zM93.74 75.84h1.93v1.91h-1.93zM99.39 75.84h1.93v1.91h-1.93zM69.29 77.7h1.93v1.91h-1.93zM93.74 77.7h1.93v1.91h-1.93zM97.51 77.7h5.69v1.91h-5.69zM80.58 79.56h1.93v1.91h-1.93zM95.62 79.56h3.81v1.91h-3.81zM73.05 81.43h9.46v1.91h-9.46zM93.74 81.43h1.93v1.91h-1.93zM97.51 81.43h3.81v1.91h-3.81zM82.46 83.29h1.93v1.91h-1.93zM93.74 83.29h3.81v1.91h-3.81zM80.58 85.15h3.81v1.91h-3.81zM97.51 85.15h1.93v1.91h-1.93zM78.69 87.01h5.69v1.91h-5.69zM95.62 87.01h3.81v1.91h-3.81zM76.81 88.88h9.46v1.91h-9.46zM95.62 88.88h3.81v1.91h-3.81zM73.05 90.74h7.58v1.91h-7.58zM86.22 90.74h1.93v1.91h-1.93zM89.98 90.74h1.93v1.91h-1.93zM93.74 90.74h1.93v1.91h-1.93zM97.51 90.74h3.81v1.91h-3.81zM71.17 92.6h1.93v1.91h-1.93zM86.22 92.6h1.93v1.91h-1.93zM91.86 92.6h3.81v1.91h-3.81zM97.51 92.6h5.69v1.91h-5.69zM105.03 92.6h1.93v1.91h-1.93zM84.34 94.46h3.81v1.91h-3.81zM91.86 94.46h3.81v1.91h-3.81zM101.27 94.46h3.81v1.91h-3.81zM63.64 96.33h3.81v1.91h-3.81zM84.34 96.33h1.93v1.91h-1.93zM93.74 96.33h1.93v1.91h-1.93zM99.39 96.33h3.81v1.91h-3.81zM61.76 98.19h1.93v1.91h-1.93zM86.22 98.19h1.93v1.91h-1.93zM93.74 98.19h1.93v1.91h-1.93zM99.39 98.19h5.69v1.91h-5.69zM59.88 100.05h1.93v1.91h-1.93zM86.22 100.05h1.93v1.91h-1.93zM89.98 100.05h1.93v1.91h-1.93zM103.15 100.05h1.93v1.91h-1.93zM58 101.91h1.93v1.91h-1.93zM84.34 101.91h3.81v1.91h-3.81zM89.98 101.91h3.81v1.91h-3.81zM97.51 101.91h1.93v1.91h-1.93zM103.15 101.91h1.93v1.91h-1.93zM58 103.78h1.93v1.91h-1.93zM82.46 103.78h5.69v1.91h-5.69zM89.98 103.78h1.93v1.91h-1.93zM101.27 103.78h1.93v1.91h-1.93zM61.76 105.64h1.93v1.91h-1.93zM76.81 105.64h1.93v1.91h-1.93zM80.58 105.64h7.58v1.91h-7.58zM89.98 105.64h7.58v1.91h-7.58zM99.39 105.64h1.93v1.91h-1.93zM103.15 105.64h1.93v1.91h-1.93zM65.53 107.5h1.93v1.91h-1.93zM69.29 107.5h1.93v1.91h-1.93zM76.81 107.5h1.93v1.91h-1.93zM84.34 107.5h13.22v1.91h-13.22zM99.39 107.5h3.81v1.91h-3.81zM67.41 109.36h5.69v1.91h-5.69zM78.69 109.36h5.69v1.91h-5.69zM86.22 109.36h3.81v1.91h-3.81zM93.74 109.36h1.93v1.91h-1.93zM69.29 111.23h3.81v1.91h-3.81zM74.93 111.23h1.93v1.91h-1.93zM78.69 111.23h11.34v1.91h-11.34zM71.17 113.09h1.93v1.91h-1.93zM74.93 113.09h1.93v1.91h-1.93zM73.05 114.95h3.81v1.91h-3.81zM82.46 114.95h1.93v1.91h-1.93zM71.17 116.81h1.93v1.91h-1.93zM74.93 116.81h1.93v1.91h-1.93zM82.46 116.81h3.81v1.91h-3.81zM65.53 118.68h3.81v1.91h-3.81zM82.46 118.68h3.81v1.91h-3.81zM59.88 122.4h1.93v1.91h-1.93zM80.58 122.4h3.81v1.91h-3.81zM58 124.26h1.93v1.91h-1.93zM78.69 124.26h1.93v1.91h-1.93zM78.69 126.13h1.93v1.91h-1.93zM50.48 127.99h1.93v1.91h-1.93zM76.81 127.99h1.93v1.91h-1.93zM71.17 131.71h1.93v1.91h-1.93zM63.64 133.58h3.81v1.91h-3.81zM42.95 135.44h1.93v1.91h-1.93zM54.24 135.44h3.81v1.91h-3.81z"/>
<path fill="#8ccb50" d="M89.98 21.83h5.69v1.91h-5.69zM89.98 23.69h5.69v1.91h-5.69zM88.1 27.41h1.93v1.91h-1.93zM97.51 27.41h7.58v1.91h-7.58zM108.79 27.41h1.93v1.91h-1.93zM84.34 29.28h1.93v1.91h-1.93zM101.27 29.28h1.93v1.91h-1.93zM105.03 29.28h1.93v1.91h-1.93zM108.79 29.28h1.93v1.91h-1.93zM114.44 29.28h1.93v1.91h-1.93zM80.58 31.14h1.93v1.91h-1.93zM101.27 31.14h1.93v1.91h-1.93zM105.03 31.14h1.93v1.91h-1.93zM112.56 31.14h3.81v1.91h-3.81zM103.15 33h1.93v1.91h-1.93zM106.91 33h1.93v1.91h-1.93zM110.68 33h1.93v1.91h-1.93zM76.81 34.86h1.93v1.91h-1.93zM97.51 34.86h3.81v1.91h-3.81zM93.74 36.73h3.81v1.91h-3.81zM73.05 38.59h1.93v1.91h-1.93zM73.05 40.45h1.93v1.91h-1.93zM82.46 42.31h3.81v1.91h-3.81zM74.93 44.18h1.93v1.91h-1.93zM78.69 44.18h3.81v1.91h-3.81zM110.68 46.04h1.93v1.91h-1.93zM108.79 47.9h5.69v1.91h-5.69zM110.68 49.76h1.93v1.91h-1.93zM103.15 53.49h1.93v1.91h-1.93zM91.86 57.21h1.93v1.91h-1.93zM101.27 57.21h1.93v1.91h-1.93zM88.1 59.08h5.69v1.91h-5.69zM86.22 60.94h1.93v1.91h-1.93zM91.86 60.94h1.93v1.91h-1.93zM84.34 62.8h1.93v1.91h-1.93zM82.46 64.66h3.81v1.91h-3.81zM82.46 66.53h1.93v1.91h-1.93zM76.81 68.39h1.93v1.91h-1.93zM80.58 68.39h3.81v1.91h-3.81zM86.22 68.39h1.93v1.91h-1.93zM73.05 70.25h1.93v1.91h-1.93zM84.34 70.25h1.93v1.91h-1.93zM71.17 72.11h1.93v1.91h-1.93zM82.46 72.11h1.93v1.91h-1.93zM80.58 77.7h1.93v1.91h-1.93zM78.69 79.56h1.93v1.91h-1.93zM78.69 92.6h1.93v1.91h-1.93zM95.62 92.6h1.93v1.91h-1.93zM74.93 94.46h7.58v1.91h-7.58zM69.29 96.33h3.81v1.91h-3.81zM78.69 96.33h5.69v1.91h-5.69zM65.53 98.19h1.93v1.91h-1.93zM80.58 98.19h1.93v1.91h-1.93zM95.62 98.19h1.93v1.91h-1.93zM80.58 100.05h1.93v1.91h-1.93zM78.69 101.91h3.81v1.91h-3.81zM95.62 101.91h1.93v1.91h-1.93zM63.64 103.78h3.81v1.91h-3.81zM74.93 103.78h5.69v1.91h-5.69zM65.53 105.64h3.81v1.91h-3.81zM73.05 105.64h3.81v1.91h-3.81zM71.17 107.5h5.69v1.91h-5.69zM71.17 118.68h7.58v1.91h-7.58zM65.53 120.54h1.93v1.91h-1.93zM61.76 122.4h1.93v1.91h-1.93zM78.69 122.4h1.93v1.91h-1.93zM56.12 126.13h1.93v1.91h-1.93zM76.81 126.13h1.93v1.91h-1.93zM73.05 127.99h1.93v1.91h-1.93zM65.53 129.85h3.81v1.91h-3.81zM61.76 131.71h1.93v1.91h-1.93zM42.95 133.58h1.93v1.91h-1.93zM56.12 133.58h1.93v1.91h-1.93zM50.48 135.44h1.93v1.91h-1.93z"/>
<path fill="#c8c129" d="M88.1 25.55h7.58v1.91h-7.58zM91.86 27.41h5.69v1.91h-5.69zM86.22 29.28h3.81v1.91h-3.81zM91.86 29.28h1.93v1.91h-1.93zM82.46 31.14h1.93v1.91h-1.93zM97.51 31.14h3.81v1.91h-3.81zM106.91 31.14h5.69v1.91h-5.69zM78.69 33h1.93v1.91h-1.93zM97.51 33h3.81v1.91h-3.81zM74.93 36.73h1.93v1.91h-1.93zM89.98 38.59h1.93v1.91h-1.93zM73.05 42.31h3.81v1.91h-3.81zM80.58 42.31h1.93v1.91h-1.93zM73.05 44.18h1.93v1.91h-1.93zM76.81 44.18h1.93v1.91h-1.93zM88.1 60.94h3.81v1.91h-3.81zM86.22 62.8h1.93v1.91h-1.93zM89.98 62.8h1.93v1.91h-1.93zM86.22 64.66h3.81v1.91h-3.81zM84.34 66.53h5.69v1.91h-5.69zM84.34 68.39h1.93v1.91h-1.93zM82.46 70.25h1.93v1.91h-1.93zM80.58 73.98h1.93v1.91h-1.93zM80.58 75.84h1.93v1.91h-1.93zM78.69 77.7h1.93v1.91h-1.93zM73.05 79.56h1.93v1.91h-1.93zM76.81 79.56h1.93v1.91h-1.93zM73.05 96.33h5.69v1.91h-5.69zM67.41 98.19h1.93v1.91h-1.93zM78.69 98.19h1.93v1.91h-1.93zM63.64 100.05h3.81v1.91h-3.81zM76.81 100.05h3.81v1.91h-3.81zM65.53 101.91h1.93v1.91h-1.93zM76.81 101.91h1.93v1.91h-1.93zM67.41 103.78h3.81v1.91h-3.81zM71.17 105.64h1.93v1.91h-1.93zM74.93 120.54h1.93v1.91h-1.93zM78.69 120.54h1.93v1.91h-1.93zM76.81 122.4h1.93v1.91h-1.93zM59.88 124.26h1.93v1.91h-1.93zM76.81 124.26h1.93v1.91h-1.93zM58 126.13h1.93v1.91h-1.93zM74.93 126.13h1.93v1.91h-1.93zM52.36 127.99h1.93v1.91h-1.93zM67.41 127.99h1.93v1.91h-1.93zM48.59 129.85h1.93v1.91h-1.93zM46.71 131.71h1.93v1.91h-1.93zM59.88 131.71h1.93v1.91h-1.93zM44.83 133.58h3.81v1.91h-3.81zM54.24 133.58h1.93v1.91h-1.93z"/>
<path fill="#fcd12f" d="M95.62 33h1.93v1.91h-1.93zM80.58 34.86h1.93v1.91h-1.93zM76.81 42.31h3.81v1.91h-3.81zM69.29 100.05h1.93v1.91h-1.93zM63.64 101.91h1.93v1.91h-1.93zM69.29 101.91h1.93v1.91h-1.93zM71.17 124.26h3.81v1.91h-3.81zM56.12 127.99h1.93v1.91h-1.93zM56.12 129.85h1.93v1.91h-1.93zM52.36 131.71h1.93v1.91h-1.93zM50.48 133.58h1.93v1.91h-1.93z"/>
<path fill="#f5ed21" d="M84.34 38.59h1.93v1.91h-1.93zM78.69 72.11h1.93v1.91h-1.93z"/>
<path fill="#4746ea" d="M59.88 55.35h1.93v1.91h-1.93zM95.62 120.54h1.93v1.91h-1.93zM101.27 120.54h1.93v1.91h-1.93zM95.62 122.4h5.69v1.91h-5.69zM97.51 124.26h3.81v1.91h-3.81zM97.51 126.13h1.93v1.91h-1.93zM95.62 127.99h1.93v1.91h-1.93z"/>
</g>
<rect x="62.5" y="67.6" width="20" height="2.8" fill="#2a1f86"/>
<line x1="27.9" y1="112.6" x2="148.3" y2="112.6" stroke="#d3202c" stroke-width="1.7"/>
<circle cx="67.4" cy="117.3" r="1.7" fill="#0a0a14"/><circle cx="72" cy="117.3" r="1.7" fill="#0a0a14"/>
<path d="M140.3 41.9l1.7 2.5l-1.7 2.5l-1.7 -2.5z" fill="#b9b9c6" stroke="#8d8da0" stroke-width="0.3"/>
<path d="M138 63.3l1.7 2.5l-1.7 2.5l-1.7 -2.5z" fill="#b9b9c6" stroke="#8d8da0" stroke-width="0.3"/>
<rect x="27.9" y="18.1" width="120.4" height="119.2" fill="none" stroke="#111" stroke-width="1.2"/>
<path d="M27.9 137.3v2.1 M27.9 18.1v-2.1 M39.25 137.3v2.1 M39.25 18.1v-2.1 M50.6 137.3v2.1 M50.6 18.1v-2.1 M61.95 137.3v2.1 M61.95 18.1v-2.1 M73.3 137.3v2.1 M73.3 18.1v-2.1 M84.65 137.3v2.1 M84.65 18.1v-2.1 M96 137.3v2.1 M96 18.1v-2.1 M107.35 137.3v2.1 M107.35 18.1v-2.1 M118.7 137.3v2.1 M118.7 18.1v-2.1 M130.05 137.3v2.1 M130.05 18.1v-2.1 M141.4 137.3v2.1 M141.4 18.1v-2.1 M30.17 137.3v1.2 M30.17 18.1v-1.2 M32.44 137.3v1.2 M32.44 18.1v-1.2 M34.71 137.3v1.2 M34.71 18.1v-1.2 M36.98 137.3v1.2 M36.98 18.1v-1.2 M41.52 137.3v1.2 M41.52 18.1v-1.2 M43.79 137.3v1.2 M43.79 18.1v-1.2 M46.06 137.3v1.2 M46.06 18.1v-1.2 M48.33 137.3v1.2 M48.33 18.1v-1.2 M52.87 137.3v1.2 M52.87 18.1v-1.2 M55.14 137.3v1.2 M55.14 18.1v-1.2 M57.41 137.3v1.2 M57.41 18.1v-1.2 M59.68 137.3v1.2 M59.68 18.1v-1.2 M64.22 137.3v1.2 M64.22 18.1v-1.2 M66.49 137.3v1.2 M66.49 18.1v-1.2 M68.76 137.3v1.2 M68.76 18.1v-1.2 M71.03 137.3v1.2 M71.03 18.1v-1.2 M75.57 137.3v1.2 M75.57 18.1v-1.2 M77.84 137.3v1.2 M77.84 18.1v-1.2 M80.11 137.3v1.2 M80.11 18.1v-1.2 M82.38 137.3v1.2 M82.38 18.1v-1.2 M86.92 137.3v1.2 M86.92 18.1v-1.2 M89.19 137.3v1.2 M89.19 18.1v-1.2 M91.46 137.3v1.2 M91.46 18.1v-1.2 M93.73 137.3v1.2 M93.73 18.1v-1.2 M98.27 137.3v1.2 M98.27 18.1v-1.2 M100.54 137.3v1.2 M100.54 18.1v-1.2 M102.81 137.3v1.2 M102.81 18.1v-1.2 M105.08 137.3v1.2 M105.08 18.1v-1.2 M109.62 137.3v1.2 M109.62 18.1v-1.2 M111.89 137.3v1.2 M111.89 18.1v-1.2 M114.16 137.3v1.2 M114.16 18.1v-1.2 M116.43 137.3v1.2 M116.43 18.1v-1.2 M120.97 137.3v1.2 M120.97 18.1v-1.2 M123.24 137.3v1.2 M123.24 18.1v-1.2 M125.51 137.3v1.2 M125.51 18.1v-1.2 M127.78 137.3v1.2 M127.78 18.1v-1.2 M132.32 137.3v1.2 M132.32 18.1v-1.2 M134.59 137.3v1.2 M134.59 18.1v-1.2 M136.86 137.3v1.2 M136.86 18.1v-1.2 M139.13 137.3v1.2 M139.13 18.1v-1.2 M143.67 137.3v1.2 M143.67 18.1v-1.2 M145.94 137.3v1.2 M145.94 18.1v-1.2 M148.21 137.3v1.2 M148.21 18.1v-1.2 M27.9 137.3h-2.1 M148.3 137.3h2.1 M27.9 120.27h-2.1 M148.3 120.27h2.1 M27.9 103.24h-2.1 M148.3 103.24h2.1 M27.9 86.21h-2.1 M148.3 86.21h2.1 M27.9 69.19h-2.1 M148.3 69.19h2.1 M27.9 52.16h-2.1 M148.3 52.16h2.1 M27.9 35.13h-2.1 M148.3 35.13h2.1 M27.9 18.1h-2.1 M148.3 18.1h2.1 M27.9 135.6h-1.2 M148.3 135.6h1.2 M27.9 133.89h-1.2 M148.3 133.89h1.2 M27.9 132.19h-1.2 M148.3 132.19h1.2 M27.9 130.49h-1.2 M148.3 130.49h1.2 M27.9 128.79h-1.2 M148.3 128.79h1.2 M27.9 127.08h-1.2 M148.3 127.08h1.2 M27.9 125.38h-1.2 M148.3 125.38h1.2 M27.9 123.68h-1.2 M148.3 123.68h1.2 M27.9 121.97h-1.2 M148.3 121.97h1.2 M27.9 118.57h-1.2 M148.3 118.57h1.2 M27.9 116.87h-1.2 M148.3 116.87h1.2 M27.9 115.16h-1.2 M148.3 115.16h1.2 M27.9 113.46h-1.2 M148.3 113.46h1.2 M27.9 111.76h-1.2 M148.3 111.76h1.2 M27.9 110.05h-1.2 M148.3 110.05h1.2 M27.9 108.35h-1.2 M148.3 108.35h1.2 M27.9 106.65h-1.2 M148.3 106.65h1.2 M27.9 104.95h-1.2 M148.3 104.95h1.2 M27.9 101.54h-1.2 M148.3 101.54h1.2 M27.9 99.84h-1.2 M148.3 99.84h1.2 M27.9 98.13h-1.2 M148.3 98.13h1.2 M27.9 96.43h-1.2 M148.3 96.43h1.2 M27.9 94.73h-1.2 M148.3 94.73h1.2 M27.9 93.03h-1.2 M148.3 93.03h1.2 M27.9 91.32h-1.2 M148.3 91.32h1.2 M27.9 89.62h-1.2 M148.3 89.62h1.2 M27.9 87.92h-1.2 M148.3 87.92h1.2 M27.9 84.51h-1.2 M148.3 84.51h1.2 M27.9 82.81h-1.2 M148.3 82.81h1.2 M27.9 81.11h-1.2 M148.3 81.11h1.2 M27.9 79.4h-1.2 M148.3 79.4h1.2 M27.9 77.7h-1.2 M148.3 77.7h1.2 M27.9 76h-1.2 M148.3 76h1.2 M27.9 74.29h-1.2 M148.3 74.29h1.2 M27.9 72.59h-1.2 M148.3 72.59h1.2 M27.9 70.89h-1.2 M148.3 70.89h1.2 M27.9 67.48h-1.2 M148.3 67.48h1.2 M27.9 65.78h-1.2 M148.3 65.78h1.2 M27.9 64.08h-1.2 M148.3 64.08h1.2 M27.9 62.37h-1.2 M148.3 62.37h1.2 M27.9 60.67h-1.2 M148.3 60.67h1.2 M27.9 58.97h-1.2 M148.3 58.97h1.2 M27.9 57.27h-1.2 M148.3 57.27h1.2 M27.9 55.56h-1.2 M148.3 55.56h1.2 M27.9 53.86h-1.2 M148.3 53.86h1.2 M27.9 50.45h-1.2 M148.3 50.45h1.2 M27.9 48.75h-1.2 M148.3 48.75h1.2 M27.9 47.05h-1.2 M148.3 47.05h1.2 M27.9 45.35h-1.2 M148.3 45.35h1.2 M27.9 43.64h-1.2 M148.3 43.64h1.2 M27.9 41.94h-1.2 M148.3 41.94h1.2 M27.9 40.24h-1.2 M148.3 40.24h1.2 M27.9 38.53h-1.2 M148.3 38.53h1.2 M27.9 36.83h-1.2 M148.3 36.83h1.2 M27.9 33.43h-1.2 M148.3 33.43h1.2 M27.9 31.72h-1.2 M148.3 31.72h1.2 M27.9 30.02h-1.2 M148.3 30.02h1.2 M27.9 28.32h-1.2 M148.3 28.32h1.2 M27.9 26.61h-1.2 M148.3 26.61h1.2 M27.9 24.91h-1.2 M148.3 24.91h1.2 M27.9 23.21h-1.2 M148.3 23.21h1.2 M27.9 21.51h-1.2 M148.3 21.51h1.2 M27.9 19.8h-1.2 M148.3 19.8h1.2" stroke="#111" stroke-width="0.9" fill="none"/>
<text x="27.9" y="152.2" font-size="9.4" text-anchor="middle" class="b" fill="#111">0</text>
<text x="39.25" y="152.2" font-size="9.4" text-anchor="middle" class="b" fill="#111">1</text>
<text x="50.6" y="152.2" font-size="9.4" text-anchor="middle" class="b" fill="#111">2</text>
<text x="61.95" y="152.2" font-size="9.4" text-anchor="middle" class="b" fill="#111">3</text>
<text x="73.3" y="152.2" font-size="9.4" text-anchor="middle" class="b" fill="#111">4</text>
<text x="84.65" y="152.2" font-size="9.4" text-anchor="middle" class="b" fill="#111">5</text>
<text x="96" y="152.2" font-size="9.4" text-anchor="middle" class="b" fill="#111">6</text>
<text x="107.35" y="152.2" font-size="9.4" text-anchor="middle" class="b" fill="#111">7</text>
<text x="118.7" y="152.2" font-size="9.4" text-anchor="middle" class="b" fill="#111">8</text>
<text x="130.05" y="152.2" font-size="9.4" text-anchor="middle" class="b" fill="#111">9</text>
<text x="142.6" y="152.2" font-size="9.4" text-anchor="middle" class="b" fill="#111">10</text>
<text x="23.3" y="140.4" font-size="9.4" text-anchor="end" class="b" fill="#111">0</text>
<text x="23.3" y="123.37" font-size="9.4" text-anchor="end" class="b" fill="#111">1</text>
<text x="23.3" y="106.34" font-size="9.4" text-anchor="end" class="b" fill="#111">2</text>
<text x="23.3" y="89.31" font-size="9.4" text-anchor="end" class="b" fill="#111">3</text>
<text x="23.3" y="72.29" font-size="9.4" text-anchor="end" class="b" fill="#111">4</text>
<text x="23.3" y="55.26" font-size="9.4" text-anchor="end" class="b" fill="#111">5</text>
<text x="23.3" y="38.23" font-size="9.4" text-anchor="end" class="b" fill="#111">6</text>
<text x="23.3" y="21.2" font-size="9.4" text-anchor="end" class="b" fill="#111">7</text>
<text x="88.7" y="164.8" font-size="11.3" text-anchor="middle" class="b" fill="#111">x[nm]</text>
<text x="13.2" y="77" font-size="11.3" text-anchor="middle" class="b" transform="rotate(-90 13.2 77)" fill="#111">y[nm]</text>
<text x="31" y="12.8" font-size="10.5" text-anchor="middle" class="b" fill="#111">a</text>
<path d="M201.6 106.2V40.8L273 15.5L319.8 54V120L248.7 145.5L201.6 106.2M273 15.5V80M319.8 120L273 80L201.6 106.2" fill="none" stroke="#111" stroke-width="1.1" stroke-linejoin="round"/>
<polygon points="203.3,84.1 207.5,82.4 211.6,81.6 215.8,79.9 218.9,75.8 221,71.6 223.5,66.5 226,61.5 229.2,57 232.3,52.7 234.3,49.5 236.4,46.4 238.5,43.7 240,42.6 241.6,45.4 244.7,47.9 247.9,49.1 251,47.9 254.1,48.5 257.2,47.5 260.3,46.4 263.4,47 266.5,50 267.02,49.81 268.08,51.44 268.6,53.7 269.12,53.21 270.18,55.92 270.7,56.8 271.32,55.95 272.57,58.38 273.2,59.5 273.88,59.75 275.22,60.06 275.9,61.6 276.42,62.12 277.48,62.8 278,64.1 278.77,64.11 280.33,64.9 281.1,65.7 281.62,65.99 282.68,67.25 283.2,68.2 283.98,68.3 285.52,67.45 286.3,69.3 286.82,69.28 287.88,70.31 288.4,72 289.17,71.77 290.73,71.85 291.5,73.4 292.2,73.61 293.6,75.12 294.3,76 294.81,76.5 295.84,77.24 296.86,78.93 297.89,80.32 298.4,81.2 299.17,81.56 300.73,83.31 301.5,84.3 302.3,84.71 303.9,86.15 304.7,87.4 305.38,86.64 306.75,88.61 308.12,89.19 308.8,90.5 309.57,90.93 311.12,91.52 311.9,92.6 312.67,92.55 314.23,92.67 315,94.7 315.8,95.15 317.4,95.73 318.2,97.4 319.2,97.34 320.2,98.2 320.2,100.9 319.18,102.41 317.12,101.99 316.1,101.9 315.05,101.92 312.95,102.63 311.9,101.5 310.88,102.41 308.82,102.39 307.8,102.3 306.75,102.83 304.65,103.39 303.6,103.6 302.58,104.93 300.52,104.35 299.5,104.4 298.8,105.3 297.4,102.89 296,102.5 295.3,100.9 294.62,100.45 293.25,99.17 291.88,97.5 291.2,96.7 290.5,96.64 289.1,96.53 287.7,95.51 287,94 285.98,93.78 283.92,93.43 282.9,92.6 281.85,93.05 279.75,94.85 278.7,93.6 277.93,94.43 276.38,95.65 274.82,95.8 273.27,96.55 272.5,96.7 271.71,97.64 270.14,98.71 268.56,97.91 266.99,98.13 266.2,98.2 265.42,100.02 263.85,100.68 262.28,102.35 261.5,101.7 260.8,103.33 259.4,104.04 258,104.56 257.3,104.9 256.78,106.81 255.75,107.6 254.72,109.4 254.2,109 253.68,110.18 252.65,112.2 251.62,114.19 251.1,114.2 250.57,116.05 249.53,117.24 249,117.3 247.97,118.24 245.93,117.27 244.9,116.3 244.03,117.86 242.3,118.42 240.57,118.31 239.7,117.6 238.9,117.92 237.3,117.5 236.5,116.9 235.72,117.35 234.18,115.23 233.4,114.2 232.88,114.57 231.85,111.93 230.82,110.92 230.3,109 229.78,109.38 228.75,107.05 227.72,106.41 227.2,104.9 226.42,104.66 224.88,102.82 224.1,101.7 223.4,101.44 222,100.26 220.6,99.32 219.9,98.6 218.88,98.23 216.83,97.28 215.8,96.5 214.93,97.37 213.2,96.59 211.47,95.76 210.6,95.5 209.55,95.17 207.45,94.36 206.4,93.4 205.88,92.6 204.83,90.64 204.3,89.3" fill="#3a279c"/>
<clipPath id="cb"><polygon points="203.3,84.1 207.5,82.4 211.6,81.6 215.8,79.9 218.9,75.8 221,71.6 223.5,66.5 226,61.5 229.2,57 232.3,52.7 234.3,49.5 236.4,46.4 238.5,43.7 240,42.6 241.6,45.4 244.7,47.9 247.9,49.1 251,47.9 254.1,48.5 257.2,47.5 260.3,46.4 263.4,47 266.5,50 267.02,49.81 268.08,51.44 268.6,53.7 269.12,53.21 270.18,55.92 270.7,56.8 271.32,55.95 272.57,58.38 273.2,59.5 273.88,59.75 275.22,60.06 275.9,61.6 276.42,62.12 277.48,62.8 278,64.1 278.77,64.11 280.33,64.9 281.1,65.7 281.62,65.99 282.68,67.25 283.2,68.2 283.98,68.3 285.52,67.45 286.3,69.3 286.82,69.28 287.88,70.31 288.4,72 289.17,71.77 290.73,71.85 291.5,73.4 292.2,73.61 293.6,75.12 294.3,76 294.81,76.5 295.84,77.24 296.86,78.93 297.89,80.32 298.4,81.2 299.17,81.56 300.73,83.31 301.5,84.3 302.3,84.71 303.9,86.15 304.7,87.4 305.38,86.64 306.75,88.61 308.12,89.19 308.8,90.5 309.57,90.93 311.12,91.52 311.9,92.6 312.67,92.55 314.23,92.67 315,94.7 315.8,95.15 317.4,95.73 318.2,97.4 319.2,97.34 320.2,98.2 320.2,100.9 319.18,102.41 317.12,101.99 316.1,101.9 315.05,101.92 312.95,102.63 311.9,101.5 310.88,102.41 308.82,102.39 307.8,102.3 306.75,102.83 304.65,103.39 303.6,103.6 302.58,104.93 300.52,104.35 299.5,104.4 298.8,105.3 297.4,102.89 296,102.5 295.3,100.9 294.62,100.45 293.25,99.17 291.88,97.5 291.2,96.7 290.5,96.64 289.1,96.53 287.7,95.51 287,94 285.98,93.78 283.92,93.43 282.9,92.6 281.85,93.05 279.75,94.85 278.7,93.6 277.93,94.43 276.38,95.65 274.82,95.8 273.27,96.55 272.5,96.7 271.71,97.64 270.14,98.71 268.56,97.91 266.99,98.13 266.2,98.2 265.42,100.02 263.85,100.68 262.28,102.35 261.5,101.7 260.8,103.33 259.4,104.04 258,104.56 257.3,104.9 256.78,106.81 255.75,107.6 254.72,109.4 254.2,109 253.68,110.18 252.65,112.2 251.62,114.19 251.1,114.2 250.57,116.05 249.53,117.24 249,117.3 247.97,118.24 245.93,117.27 244.9,116.3 244.03,117.86 242.3,118.42 240.57,118.31 239.7,117.6 238.9,117.92 237.3,117.5 236.5,116.9 235.72,117.35 234.18,115.23 233.4,114.2 232.88,114.57 231.85,111.93 230.82,110.92 230.3,109 229.78,109.38 228.75,107.05 227.72,106.41 227.2,104.9 226.42,104.66 224.88,102.82 224.1,101.7 223.4,101.44 222,100.26 220.6,99.32 219.9,98.6 218.88,98.23 216.83,97.28 215.8,96.5 214.93,97.37 213.2,96.59 211.47,95.76 210.6,95.5 209.55,95.17 207.45,94.36 206.4,93.4 205.88,92.6 204.83,90.64 204.3,89.3"/></clipPath><g clip-path="url(#cb)">
<polygon points="203,84 216,80 221,71.6 229,57 240,43 244,60 250,75 256,92 258,105 249,118 236,117 227,105 215,96.5 206,93.4" fill="#3b2aa4"/>
<polygon points="268,54 281,65.7 294,76 308,90.5 321,98 321,101 300,104.5 291,96.7 283,92.6 288,84 284,72" fill="#3d2cae"/>
<g filter="url(#bl1)">
<polygon points="233.5,64 234,55 235.6,49.5 237,46.4 238.5,43.7 240,42 241.6,45.4 244.7,47.5 247.9,48.6 251,47.4 254.1,48 257.2,47 260.3,46 263.4,46.6 266.5,50 268.3,57.3 272,60.5 275.6,66.6 280.8,72.8 286,81.2 287,87.4 283.5,93.5 278.7,95 272.5,98 266.2,99.5 261.5,103 257.3,106 254.2,102.8 251.1,97.6 248,92.4 244.9,86.2 241.5,79.9 238,74.7 235.5,69.5" fill="#2d64e8"/>
</g>
<g filter="url(#bl2)" shape-rendering="crispEdges">
<path fill="#fcd12f" d="M239.2 42.8h1.45v1.45h-1.45zM239.2 44.2h1.45v1.45h-1.45zM240.6 44.2h1.45v1.45h-1.45zM239.2 45.6h1.45v1.45h-1.45zM240.6 52.6h1.45v1.45h-1.45zM256 66.6h1.45v1.45h-1.45zM263 86.2h1.45v1.45h-1.45zM270 86.2h1.45v1.45h-1.45zM271.4 86.2h1.45v1.45h-1.45zM268.6 87.6h1.45v1.45h-1.45zM270 87.6h1.45v1.45h-1.45zM271.4 87.6h1.45v1.45h-1.45zM270 89h1.45v1.45h-1.45z"/>
<path fill="#4dcc82" d="M237.8 44.2h1.45v1.45h-1.45zM239.2 47h1.45v1.45h-1.45zM240.6 49.8h1.45v1.45h-1.45zM242 49.8h1.45v1.45h-1.45zM244.8 49.8h1.45v1.45h-1.45zM239.2 51.2h1.45v1.45h-1.45zM244.8 52.6h1.45v1.45h-1.45zM246.2 54h1.45v1.45h-1.45zM240.6 56.8h1.45v1.45h-1.45zM243.4 56.8h1.45v1.45h-1.45zM243.4 58.2h1.45v1.45h-1.45zM244.8 58.2h1.45v1.45h-1.45zM247.6 58.2h1.45v1.45h-1.45zM244.8 59.6h1.45v1.45h-1.45zM246.2 59.6h1.45v1.45h-1.45zM247.6 59.6h1.45v1.45h-1.45zM247.6 61h1.45v1.45h-1.45zM249 61h1.45v1.45h-1.45zM250.4 61h1.45v1.45h-1.45zM256 63.8h1.45v1.45h-1.45zM253.2 65.2h1.45v1.45h-1.45zM258.8 65.2h1.45v1.45h-1.45zM251.8 66.6h1.45v1.45h-1.45zM250.4 68h1.45v1.45h-1.45zM258.8 68h1.45v1.45h-1.45zM249 69.4h1.45v1.45h-1.45zM250.4 69.4h1.45v1.45h-1.45zM254.6 69.4h1.45v1.45h-1.45zM258.8 69.4h1.45v1.45h-1.45zM260.2 69.4h1.45v1.45h-1.45zM253.2 70.8h1.45v1.45h-1.45zM254.6 70.8h1.45v1.45h-1.45zM256 70.8h1.45v1.45h-1.45zM260.2 70.8h1.45v1.45h-1.45zM257.4 72.2h1.45v1.45h-1.45zM257.4 73.6h1.45v1.45h-1.45zM258.8 73.6h1.45v1.45h-1.45zM260.2 75h1.45v1.45h-1.45zM261.6 75h1.45v1.45h-1.45zM263 77.8h1.45v1.45h-1.45zM264.4 77.8h1.45v1.45h-1.45zM265.8 82h1.45v1.45h-1.45zM261.6 83.4h1.45v1.45h-1.45zM263 83.4h1.45v1.45h-1.45zM268.6 83.4h1.45v1.45h-1.45zM270 83.4h1.45v1.45h-1.45zM260.2 84.8h1.45v1.45h-1.45zM260.2 86.2h1.45v1.45h-1.45zM260.2 87.6h1.45v1.45h-1.45zM263 90.4h1.45v1.45h-1.45zM264.4 90.4h1.45v1.45h-1.45zM265.8 90.4h1.45v1.45h-1.45zM271.4 90.4h1.45v1.45h-1.45z"/>
<path fill="#1da8e0" d="M236.4 45.6h1.45v1.45h-1.45zM236.4 48.4h1.45v1.45h-1.45zM237.8 48.4h1.45v1.45h-1.45zM247.6 48.4h1.45v1.45h-1.45zM249 48.4h1.45v1.45h-1.45zM235 49.8h1.45v1.45h-1.45zM236.4 49.8h1.45v1.45h-1.45zM237.8 49.8h1.45v1.45h-1.45zM249 49.8h1.45v1.45h-1.45zM235 51.2h1.45v1.45h-1.45zM236.4 51.2h1.45v1.45h-1.45zM235 52.6h1.45v1.45h-1.45zM249 52.6h1.45v1.45h-1.45zM233.6 54h1.45v1.45h-1.45zM235 54h1.45v1.45h-1.45zM236.4 54h1.45v1.45h-1.45zM250.4 54h1.45v1.45h-1.45zM233.6 55.4h1.45v1.45h-1.45zM235 55.4h1.45v1.45h-1.45zM233.6 56.8h1.45v1.45h-1.45zM235 56.8h1.45v1.45h-1.45zM251.8 56.8h1.45v1.45h-1.45zM253.2 56.8h1.45v1.45h-1.45zM233.6 58.2h1.45v1.45h-1.45zM235 58.2h1.45v1.45h-1.45zM253.2 58.2h1.45v1.45h-1.45zM237.8 59.6h1.45v1.45h-1.45zM240.6 59.6h1.45v1.45h-1.45zM253.2 59.6h1.45v1.45h-1.45zM254.6 59.6h1.45v1.45h-1.45zM254.6 61h1.45v1.45h-1.45zM240.6 62.4h1.45v1.45h-1.45zM242 62.4h1.45v1.45h-1.45zM256 62.4h1.45v1.45h-1.45zM257.4 62.4h1.45v1.45h-1.45zM258.8 62.4h1.45v1.45h-1.45zM239.2 63.8h1.45v1.45h-1.45zM240.6 63.8h1.45v1.45h-1.45zM242 63.8h1.45v1.45h-1.45zM239.2 65.2h1.45v1.45h-1.45zM242 65.2h1.45v1.45h-1.45zM249 65.2h1.45v1.45h-1.45zM265.8 65.2h1.45v1.45h-1.45zM263 66.6h1.45v1.45h-1.45zM264.4 66.6h1.45v1.45h-1.45zM244.8 68h1.45v1.45h-1.45zM263 68h1.45v1.45h-1.45zM264.4 68h1.45v1.45h-1.45zM246.2 69.4h1.45v1.45h-1.45zM246.2 70.8h1.45v1.45h-1.45zM247.6 70.8h1.45v1.45h-1.45zM264.4 70.8h1.45v1.45h-1.45zM250.4 72.2h1.45v1.45h-1.45zM264.4 72.2h1.45v1.45h-1.45zM265.8 72.2h1.45v1.45h-1.45zM251.8 73.6h1.45v1.45h-1.45zM253.2 73.6h1.45v1.45h-1.45zM264.4 73.6h1.45v1.45h-1.45zM251.8 75h1.45v1.45h-1.45zM253.2 75h1.45v1.45h-1.45zM254.6 75h1.45v1.45h-1.45zM253.2 76.4h1.45v1.45h-1.45zM254.6 76.4h1.45v1.45h-1.45zM268.6 76.4h1.45v1.45h-1.45zM271.4 76.4h1.45v1.45h-1.45zM272.8 76.4h1.45v1.45h-1.45zM251.8 77.8h1.45v1.45h-1.45zM253.2 77.8h1.45v1.45h-1.45zM254.6 77.8h1.45v1.45h-1.45zM256 77.8h1.45v1.45h-1.45zM257.4 77.8h1.45v1.45h-1.45zM268.6 77.8h1.45v1.45h-1.45zM270 77.8h1.45v1.45h-1.45zM271.4 77.8h1.45v1.45h-1.45zM272.8 77.8h1.45v1.45h-1.45zM274.2 77.8h1.45v1.45h-1.45zM254.6 79.2h1.45v1.45h-1.45zM256 79.2h1.45v1.45h-1.45zM257.4 79.2h1.45v1.45h-1.45zM268.6 79.2h1.45v1.45h-1.45zM270 79.2h1.45v1.45h-1.45zM272.8 79.2h1.45v1.45h-1.45zM274.2 79.2h1.45v1.45h-1.45zM254.6 80.6h1.45v1.45h-1.45zM258.8 80.6h1.45v1.45h-1.45zM261.6 80.6h1.45v1.45h-1.45zM274.2 80.6h1.45v1.45h-1.45zM275.6 80.6h1.45v1.45h-1.45zM256 82h1.45v1.45h-1.45zM258.8 82h1.45v1.45h-1.45zM261.6 82h1.45v1.45h-1.45zM275.6 82h1.45v1.45h-1.45zM275.6 83.4h1.45v1.45h-1.45zM257.4 84.8h1.45v1.45h-1.45zM275.6 84.8h1.45v1.45h-1.45zM257.4 86.2h1.45v1.45h-1.45zM275.6 86.2h1.45v1.45h-1.45zM277 86.2h1.45v1.45h-1.45zM257.4 87.6h1.45v1.45h-1.45zM275.6 87.6h1.45v1.45h-1.45zM257.4 89h1.45v1.45h-1.45zM258.8 89h1.45v1.45h-1.45zM275.6 89h1.45v1.45h-1.45zM277 89h1.45v1.45h-1.45zM275.6 90.4h1.45v1.45h-1.45zM258.8 91.8h1.45v1.45h-1.45zM260.2 91.8h1.45v1.45h-1.45zM261.6 91.8h1.45v1.45h-1.45zM265.8 91.8h1.45v1.45h-1.45zM275.6 91.8h1.45v1.45h-1.45zM258.8 93.2h1.45v1.45h-1.45zM261.6 93.2h1.45v1.45h-1.45zM263 93.2h1.45v1.45h-1.45zM270 93.2h1.45v1.45h-1.45zM274.2 93.2h1.45v1.45h-1.45zM272.8 94.6h1.45v1.45h-1.45zM274.2 94.6h1.45v1.45h-1.45z"/>
<path fill="#2ac3a9" d="M237.8 45.6h1.45v1.45h-1.45zM240.6 47h1.45v1.45h-1.45zM240.6 48.4h1.45v1.45h-1.45zM242 48.4h1.45v1.45h-1.45zM243.4 48.4h1.45v1.45h-1.45zM244.8 48.4h1.45v1.45h-1.45zM246.2 49.8h1.45v1.45h-1.45zM246.2 51.2h1.45v1.45h-1.45zM246.2 52.6h1.45v1.45h-1.45zM237.8 54h1.45v1.45h-1.45zM247.6 54h1.45v1.45h-1.45zM237.8 55.4h1.45v1.45h-1.45zM247.6 55.4h1.45v1.45h-1.45zM249 55.4h1.45v1.45h-1.45zM236.4 56.8h1.45v1.45h-1.45zM237.8 56.8h1.45v1.45h-1.45zM239.2 56.8h1.45v1.45h-1.45zM247.6 56.8h1.45v1.45h-1.45zM249 56.8h1.45v1.45h-1.45zM240.6 58.2h1.45v1.45h-1.45zM242 58.2h1.45v1.45h-1.45zM249 58.2h1.45v1.45h-1.45zM243.4 59.6h1.45v1.45h-1.45zM249 59.6h1.45v1.45h-1.45zM244.8 61h1.45v1.45h-1.45zM246.2 61h1.45v1.45h-1.45zM251.8 61h1.45v1.45h-1.45zM243.4 62.4h1.45v1.45h-1.45zM244.8 62.4h1.45v1.45h-1.45zM246.2 62.4h1.45v1.45h-1.45zM247.6 62.4h1.45v1.45h-1.45zM249 62.4h1.45v1.45h-1.45zM250.4 62.4h1.45v1.45h-1.45zM251.8 62.4h1.45v1.45h-1.45zM253.2 62.4h1.45v1.45h-1.45zM244.8 63.8h1.45v1.45h-1.45zM246.2 63.8h1.45v1.45h-1.45zM247.6 63.8h1.45v1.45h-1.45zM249 63.8h1.45v1.45h-1.45zM250.4 63.8h1.45v1.45h-1.45zM251.8 63.8h1.45v1.45h-1.45zM253.2 63.8h1.45v1.45h-1.45zM254.6 63.8h1.45v1.45h-1.45zM257.4 63.8h1.45v1.45h-1.45zM251.8 65.2h1.45v1.45h-1.45zM247.6 66.6h1.45v1.45h-1.45zM250.4 66.6h1.45v1.45h-1.45zM260.2 66.6h1.45v1.45h-1.45zM249 68h1.45v1.45h-1.45zM260.2 68h1.45v1.45h-1.45zM247.6 69.4h1.45v1.45h-1.45zM257.4 69.4h1.45v1.45h-1.45zM261.6 69.4h1.45v1.45h-1.45zM251.8 70.8h1.45v1.45h-1.45zM257.4 70.8h1.45v1.45h-1.45zM258.8 70.8h1.45v1.45h-1.45zM256 72.2h1.45v1.45h-1.45zM258.8 72.2h1.45v1.45h-1.45zM260.2 72.2h1.45v1.45h-1.45zM261.6 72.2h1.45v1.45h-1.45zM260.2 73.6h1.45v1.45h-1.45zM258.8 75h1.45v1.45h-1.45zM263 75h1.45v1.45h-1.45zM258.8 76.4h1.45v1.45h-1.45zM264.4 76.4h1.45v1.45h-1.45zM265.8 76.4h1.45v1.45h-1.45zM258.8 77.8h1.45v1.45h-1.45zM265.8 77.8h1.45v1.45h-1.45zM267.2 77.8h1.45v1.45h-1.45zM260.2 79.2h1.45v1.45h-1.45zM261.6 79.2h1.45v1.45h-1.45zM264.4 79.2h1.45v1.45h-1.45zM265.8 79.2h1.45v1.45h-1.45zM265.8 80.6h1.45v1.45h-1.45zM264.4 82h1.45v1.45h-1.45zM267.2 82h1.45v1.45h-1.45zM271.4 82h1.45v1.45h-1.45zM260.2 83.4h1.45v1.45h-1.45zM271.4 83.4h1.45v1.45h-1.45zM272.8 83.4h1.45v1.45h-1.45zM272.8 84.8h1.45v1.45h-1.45zM258.8 86.2h1.45v1.45h-1.45zM260.2 89h1.45v1.45h-1.45zM261.6 90.4h1.45v1.45h-1.45zM272.8 90.4h1.45v1.45h-1.45zM270 91.8h1.45v1.45h-1.45zM271.4 91.8h1.45v1.45h-1.45z"/>
<path fill="#c8c129" d="M240.6 45.6h1.45v1.45h-1.45zM240.6 51.2h1.45v1.45h-1.45zM243.4 51.2h1.45v1.45h-1.45zM243.4 54h1.45v1.45h-1.45zM240.6 55.4h1.45v1.45h-1.45zM242 55.4h1.45v1.45h-1.45zM256 65.2h1.45v1.45h-1.45zM257.4 65.2h1.45v1.45h-1.45zM256 68h1.45v1.45h-1.45zM260.2 76.4h1.45v1.45h-1.45zM261.6 76.4h1.45v1.45h-1.45zM264.4 84.8h1.45v1.45h-1.45zM265.8 84.8h1.45v1.45h-1.45zM264.4 86.2h1.45v1.45h-1.45zM267.2 86.2h1.45v1.45h-1.45zM263 87.6h1.45v1.45h-1.45zM264.4 87.6h1.45v1.45h-1.45zM267.2 87.6h1.45v1.45h-1.45zM264.4 89h1.45v1.45h-1.45zM270 90.4h1.45v1.45h-1.45z"/>
<path fill="#01b8c8" d="M242 45.6h1.45v1.45h-1.45zM237.8 47h1.45v1.45h-1.45zM242 47h1.45v1.45h-1.45zM243.4 47h1.45v1.45h-1.45zM239.2 48.4h1.45v1.45h-1.45zM246.2 48.4h1.45v1.45h-1.45zM239.2 49.8h1.45v1.45h-1.45zM247.6 49.8h1.45v1.45h-1.45zM237.8 51.2h1.45v1.45h-1.45zM247.6 51.2h1.45v1.45h-1.45zM249 51.2h1.45v1.45h-1.45zM237.8 52.6h1.45v1.45h-1.45zM247.6 52.6h1.45v1.45h-1.45zM249 54h1.45v1.45h-1.45zM236.4 55.4h1.45v1.45h-1.45zM250.4 55.4h1.45v1.45h-1.45zM250.4 56.8h1.45v1.45h-1.45zM236.4 58.2h1.45v1.45h-1.45zM237.8 58.2h1.45v1.45h-1.45zM239.2 58.2h1.45v1.45h-1.45zM250.4 58.2h1.45v1.45h-1.45zM251.8 58.2h1.45v1.45h-1.45zM239.2 59.6h1.45v1.45h-1.45zM242 59.6h1.45v1.45h-1.45zM250.4 59.6h1.45v1.45h-1.45zM251.8 59.6h1.45v1.45h-1.45zM242 61h1.45v1.45h-1.45zM243.4 61h1.45v1.45h-1.45zM253.2 61h1.45v1.45h-1.45zM254.6 62.4h1.45v1.45h-1.45zM243.4 63.8h1.45v1.45h-1.45zM258.8 63.8h1.45v1.45h-1.45zM240.6 65.2h1.45v1.45h-1.45zM243.4 65.2h1.45v1.45h-1.45zM244.8 65.2h1.45v1.45h-1.45zM246.2 65.2h1.45v1.45h-1.45zM247.6 65.2h1.45v1.45h-1.45zM250.4 65.2h1.45v1.45h-1.45zM260.2 65.2h1.45v1.45h-1.45zM243.4 66.6h1.45v1.45h-1.45zM244.8 66.6h1.45v1.45h-1.45zM246.2 66.6h1.45v1.45h-1.45zM249 66.6h1.45v1.45h-1.45zM261.6 66.6h1.45v1.45h-1.45zM246.2 68h1.45v1.45h-1.45zM247.6 68h1.45v1.45h-1.45zM261.6 68h1.45v1.45h-1.45zM263 69.4h1.45v1.45h-1.45zM249 70.8h1.45v1.45h-1.45zM250.4 70.8h1.45v1.45h-1.45zM261.6 70.8h1.45v1.45h-1.45zM263 70.8h1.45v1.45h-1.45zM251.8 72.2h1.45v1.45h-1.45zM253.2 72.2h1.45v1.45h-1.45zM254.6 72.2h1.45v1.45h-1.45zM263 72.2h1.45v1.45h-1.45zM254.6 73.6h1.45v1.45h-1.45zM256 73.6h1.45v1.45h-1.45zM261.6 73.6h1.45v1.45h-1.45zM263 73.6h1.45v1.45h-1.45zM256 75h1.45v1.45h-1.45zM257.4 75h1.45v1.45h-1.45zM264.4 75h1.45v1.45h-1.45zM265.8 75h1.45v1.45h-1.45zM256 76.4h1.45v1.45h-1.45zM257.4 76.4h1.45v1.45h-1.45zM267.2 76.4h1.45v1.45h-1.45zM258.8 79.2h1.45v1.45h-1.45zM263 79.2h1.45v1.45h-1.45zM267.2 79.2h1.45v1.45h-1.45zM271.4 79.2h1.45v1.45h-1.45zM257.4 80.6h1.45v1.45h-1.45zM260.2 80.6h1.45v1.45h-1.45zM263 80.6h1.45v1.45h-1.45zM264.4 80.6h1.45v1.45h-1.45zM267.2 80.6h1.45v1.45h-1.45zM268.6 80.6h1.45v1.45h-1.45zM270 80.6h1.45v1.45h-1.45zM271.4 80.6h1.45v1.45h-1.45zM272.8 80.6h1.45v1.45h-1.45zM257.4 82h1.45v1.45h-1.45zM260.2 82h1.45v1.45h-1.45zM263 82h1.45v1.45h-1.45zM268.6 82h1.45v1.45h-1.45zM270 82h1.45v1.45h-1.45zM272.8 82h1.45v1.45h-1.45zM274.2 82h1.45v1.45h-1.45zM257.4 83.4h1.45v1.45h-1.45zM258.8 83.4h1.45v1.45h-1.45zM274.2 83.4h1.45v1.45h-1.45zM258.8 84.8h1.45v1.45h-1.45zM274.2 84.8h1.45v1.45h-1.45zM274.2 86.2h1.45v1.45h-1.45zM258.8 87.6h1.45v1.45h-1.45zM274.2 87.6h1.45v1.45h-1.45zM274.2 89h1.45v1.45h-1.45zM260.2 90.4h1.45v1.45h-1.45zM274.2 90.4h1.45v1.45h-1.45zM263 91.8h1.45v1.45h-1.45zM264.4 91.8h1.45v1.45h-1.45zM267.2 91.8h1.45v1.45h-1.45zM268.6 91.8h1.45v1.45h-1.45zM272.8 91.8h1.45v1.45h-1.45zM274.2 91.8h1.45v1.45h-1.45zM271.4 93.2h1.45v1.45h-1.45zM272.8 93.2h1.45v1.45h-1.45z"/>
<path fill="#2a93ee" d="M236.4 47h1.45v1.45h-1.45zM250.4 47h1.45v1.45h-1.45zM250.4 48.4h1.45v1.45h-1.45zM251.8 48.4h1.45v1.45h-1.45zM250.4 49.8h1.45v1.45h-1.45zM251.8 49.8h1.45v1.45h-1.45zM250.4 51.2h1.45v1.45h-1.45zM236.4 52.6h1.45v1.45h-1.45zM250.4 52.6h1.45v1.45h-1.45zM251.8 52.6h1.45v1.45h-1.45zM251.8 54h1.45v1.45h-1.45zM251.8 55.4h1.45v1.45h-1.45zM253.2 55.4h1.45v1.45h-1.45zM260.2 55.4h1.45v1.45h-1.45zM265.8 56.8h1.45v1.45h-1.45zM254.6 58.2h1.45v1.45h-1.45zM265.8 58.2h1.45v1.45h-1.45zM233.6 59.6h1.45v1.45h-1.45zM235 59.6h1.45v1.45h-1.45zM236.4 59.6h1.45v1.45h-1.45zM235 61h1.45v1.45h-1.45zM239.2 61h1.45v1.45h-1.45zM240.6 61h1.45v1.45h-1.45zM256 61h1.45v1.45h-1.45zM233.6 62.4h1.45v1.45h-1.45zM236.4 62.4h1.45v1.45h-1.45zM237.8 62.4h1.45v1.45h-1.45zM239.2 62.4h1.45v1.45h-1.45zM265.8 62.4h1.45v1.45h-1.45zM236.4 63.8h1.45v1.45h-1.45zM237.8 63.8h1.45v1.45h-1.45zM260.2 63.8h1.45v1.45h-1.45zM261.6 63.8h1.45v1.45h-1.45zM263 63.8h1.45v1.45h-1.45zM264.4 63.8h1.45v1.45h-1.45zM237.8 65.2h1.45v1.45h-1.45zM261.6 65.2h1.45v1.45h-1.45zM263 65.2h1.45v1.45h-1.45zM264.4 65.2h1.45v1.45h-1.45zM237.8 66.6h1.45v1.45h-1.45zM239.2 66.6h1.45v1.45h-1.45zM240.6 66.6h1.45v1.45h-1.45zM242 66.6h1.45v1.45h-1.45zM265.8 66.6h1.45v1.45h-1.45zM243.4 68h1.45v1.45h-1.45zM265.8 68h1.45v1.45h-1.45zM267.2 68h1.45v1.45h-1.45zM268.6 68h1.45v1.45h-1.45zM270 68h1.45v1.45h-1.45zM244.8 69.4h1.45v1.45h-1.45zM264.4 69.4h1.45v1.45h-1.45zM268.6 69.4h1.45v1.45h-1.45zM270 69.4h1.45v1.45h-1.45zM244.8 70.8h1.45v1.45h-1.45zM265.8 70.8h1.45v1.45h-1.45zM246.2 72.2h1.45v1.45h-1.45zM247.6 72.2h1.45v1.45h-1.45zM249 72.2h1.45v1.45h-1.45zM267.2 72.2h1.45v1.45h-1.45zM250.4 73.6h1.45v1.45h-1.45zM265.8 73.6h1.45v1.45h-1.45zM277 73.6h1.45v1.45h-1.45zM278.4 73.6h1.45v1.45h-1.45zM250.4 75h1.45v1.45h-1.45zM267.2 75h1.45v1.45h-1.45zM268.6 75h1.45v1.45h-1.45zM271.4 75h1.45v1.45h-1.45zM274.2 75h1.45v1.45h-1.45zM277 75h1.45v1.45h-1.45zM251.8 76.4h1.45v1.45h-1.45zM270 76.4h1.45v1.45h-1.45zM274.2 76.4h1.45v1.45h-1.45zM275.6 76.4h1.45v1.45h-1.45zM249 77.8h1.45v1.45h-1.45zM250.4 77.8h1.45v1.45h-1.45zM277 77.8h1.45v1.45h-1.45zM249 79.2h1.45v1.45h-1.45zM251.8 79.2h1.45v1.45h-1.45zM253.2 79.2h1.45v1.45h-1.45zM275.6 79.2h1.45v1.45h-1.45zM277 79.2h1.45v1.45h-1.45zM253.2 80.6h1.45v1.45h-1.45zM256 80.6h1.45v1.45h-1.45zM254.6 82h1.45v1.45h-1.45zM256 83.4h1.45v1.45h-1.45zM256 84.8h1.45v1.45h-1.45zM277 84.8h1.45v1.45h-1.45zM282.6 84.8h1.45v1.45h-1.45zM278.4 86.2h1.45v1.45h-1.45zM279.8 86.2h1.45v1.45h-1.45zM281.2 86.2h1.45v1.45h-1.45zM282.6 86.2h1.45v1.45h-1.45zM284 86.2h1.45v1.45h-1.45zM256 87.6h1.45v1.45h-1.45zM277 87.6h1.45v1.45h-1.45zM282.6 87.6h1.45v1.45h-1.45zM257.4 90.4h1.45v1.45h-1.45zM258.8 90.4h1.45v1.45h-1.45zM257.4 91.8h1.45v1.45h-1.45zM277 91.8h1.45v1.45h-1.45zM260.2 93.2h1.45v1.45h-1.45zM264.4 93.2h1.45v1.45h-1.45zM267.2 93.2h1.45v1.45h-1.45zM268.6 93.2h1.45v1.45h-1.45zM275.6 93.2h1.45v1.45h-1.45zM277 93.2h1.45v1.45h-1.45zM257.4 94.6h1.45v1.45h-1.45zM258.8 94.6h1.45v1.45h-1.45zM263 94.6h1.45v1.45h-1.45zM270 94.6h1.45v1.45h-1.45zM271.4 94.6h1.45v1.45h-1.45zM275.6 94.6h1.45v1.45h-1.45zM272.8 96h1.45v1.45h-1.45z"/>
<path fill="#8ccb50" d="M243.4 49.8h1.45v1.45h-1.45zM244.8 51.2h1.45v1.45h-1.45zM239.2 52.6h1.45v1.45h-1.45zM239.2 54h1.45v1.45h-1.45zM244.8 54h1.45v1.45h-1.45zM239.2 55.4h1.45v1.45h-1.45zM243.4 55.4h1.45v1.45h-1.45zM244.8 55.4h1.45v1.45h-1.45zM246.2 55.4h1.45v1.45h-1.45zM242 56.8h1.45v1.45h-1.45zM244.8 56.8h1.45v1.45h-1.45zM246.2 56.8h1.45v1.45h-1.45zM246.2 58.2h1.45v1.45h-1.45zM254.6 65.2h1.45v1.45h-1.45zM253.2 66.6h1.45v1.45h-1.45zM258.8 66.6h1.45v1.45h-1.45zM251.8 68h1.45v1.45h-1.45zM253.2 68h1.45v1.45h-1.45zM257.4 68h1.45v1.45h-1.45zM251.8 69.4h1.45v1.45h-1.45zM253.2 69.4h1.45v1.45h-1.45zM256 69.4h1.45v1.45h-1.45zM263 76.4h1.45v1.45h-1.45zM260.2 77.8h1.45v1.45h-1.45zM261.6 77.8h1.45v1.45h-1.45zM264.4 83.4h1.45v1.45h-1.45zM265.8 83.4h1.45v1.45h-1.45zM267.2 83.4h1.45v1.45h-1.45zM267.2 84.8h1.45v1.45h-1.45zM268.6 84.8h1.45v1.45h-1.45zM270 84.8h1.45v1.45h-1.45zM271.4 84.8h1.45v1.45h-1.45zM265.8 86.2h1.45v1.45h-1.45zM272.8 86.2h1.45v1.45h-1.45zM261.6 87.6h1.45v1.45h-1.45zM265.8 87.6h1.45v1.45h-1.45zM272.8 87.6h1.45v1.45h-1.45zM261.6 89h1.45v1.45h-1.45zM263 89h1.45v1.45h-1.45zM265.8 89h1.45v1.45h-1.45zM272.8 89h1.45v1.45h-1.45zM267.2 90.4h1.45v1.45h-1.45zM268.6 90.4h1.45v1.45h-1.45z"/>
<path fill="#f6ba3b" d="M242 51.2h1.45v1.45h-1.45zM242 52.6h1.45v1.45h-1.45zM243.4 52.6h1.45v1.45h-1.45zM240.6 54h1.45v1.45h-1.45zM242 54h1.45v1.45h-1.45zM254.6 66.6h1.45v1.45h-1.45zM257.4 66.6h1.45v1.45h-1.45zM254.6 68h1.45v1.45h-1.45zM261.6 84.8h1.45v1.45h-1.45zM263 84.8h1.45v1.45h-1.45zM261.6 86.2h1.45v1.45h-1.45zM268.6 86.2h1.45v1.45h-1.45zM267.2 89h1.45v1.45h-1.45zM268.6 89h1.45v1.45h-1.45zM271.4 89h1.45v1.45h-1.45z"/>
</g>
<path d="M262 50L268 56L273 62L271 64.5L265 59L260 54Z" fill="#3a279c" opacity="0.75"/>
<path d="M247.5 60L252 63.5L254 67L250.5 65.5Z" fill="#33309f" opacity="0.6"/>
<path d="M255 75L259 77L261 81L257.5 79.5Z" fill="#33309f" opacity="0.5"/>
<path d="M273 70L277 76L279 84L276 80Z" fill="#3a279c" opacity="0.6"/>
</g>
<polyline points="238.6,116.3 241.7,111.1 244.9,105.9 248,100.7 251.1,95.5 255.2,90.3 259.4,86.2 263.5,84 269.3,81.2 275,79" fill="none" stroke="#d3202c" stroke-width="1.4" stroke-dasharray="4 1.6 1.4 1.6"/>
<polyline points="287.5,94.9 293.2,92.8 298.6,91.2 303,92.5 310.5,93.2" fill="none" stroke="#d3202c" stroke-width="1.1" stroke-dasharray="1.4 4 3 1.6 4.5 6 1.4 3" opacity="0.85"/>
<text x="198" y="42" font-size="9.4" text-anchor="end" class="b" fill="#111">2</text>
<text x="198.3" y="75.8" font-size="9.4" text-anchor="end" class="b" fill="#111">0</text>
<text x="197.6" y="107.8" font-size="9.4" text-anchor="end" class="b" fill="#111">-2</text>
<text x="188.3" y="77.4" font-size="11.3" text-anchor="middle" class="b" transform="rotate(-90 188.3 77.4)" fill="#111">z[nm]</text>
<text x="201.5" y="123.5" font-size="9.4" text-anchor="middle" class="b" fill="#111">6</text>
<text x="214.8" y="134.2" font-size="9.4" text-anchor="middle" class="b" fill="#111">4</text>
<text x="227.8" y="146" font-size="9.4" text-anchor="middle" class="b" fill="#111">2</text>
<text x="241.2" y="157.1" font-size="9.4" text-anchor="middle" class="b" fill="#111">0</text>
<text x="255.1" y="158" font-size="9.4" text-anchor="middle" class="b" fill="#111">0</text>
<text x="268.7" y="153.5" font-size="9.4" text-anchor="middle" class="b" fill="#111">2</text>
<text x="281.9" y="148.6" font-size="9.4" text-anchor="middle" class="b" fill="#111">4</text>
<text x="295.1" y="143.4" font-size="9.4" text-anchor="middle" class="b" fill="#111">6</text>
<text x="310" y="139.2" font-size="9.4" text-anchor="middle" class="b" fill="#111">8</text>
<text x="325.2" y="133.5" font-size="9.4" text-anchor="middle" class="b" fill="#111">10</text>
<text x="197.2" y="144" font-size="11" text-anchor="middle" class="b" fill="#111">y[nm]</text>
<text x="302.5" y="154.5" font-size="11" text-anchor="middle" class="b" fill="#111">x[nm]</text>
<text x="202" y="14" font-size="10.5" text-anchor="middle" class="b" fill="#111">b</text>
<path d="M201.6 40.8l-2.2 -1.6 M201.6 73.5l-2.2 -1.6 M201.6 106.2l-2.2 -1.6 M248.7 145.5l-1.8 1.6 M235.24 134.27l-1.8 1.6 M221.79 123.04l-1.8 1.6 M208.33 111.81l-1.8 1.6 M248.7 145.5l1.6 2 M262.24 140.64l1.6 2 M275.79 135.79l1.6 2 M289.33 130.93l1.6 2 M302.87 126.07l1.6 2 M316.41 121.21l1.6 2" stroke="#111" stroke-width="0.8" fill="none"/>
<g filter="url(#bl3)" shape-rendering="crispEdges">
<path fill="#128b64" d="M373.6 69.89h1.88v56.3h-1.88zM375.43 69.09h1.88v50.35h-1.88zM377.27 62.72h1.88v51.86h-1.88zM379.1 62.72h1.88v52h-1.88zM380.93 62.72h1.88v50.14h-1.88zM382.77 63.52h1.88v46.62h-1.88zM384.6 53.82h1.88v56.14h-1.88zM386.43 53.82h1.88v49.95h-1.88zM388.27 45.71h1.88v50.88h-1.88zM390.1 45.71h1.88v51.75h-1.88zM391.93 46.51h1.88v40.83h-1.88zM393.77 40.15h1.88v47.66h-1.88zM395.6 40.15h1.88v45.28h-1.88zM397.43 38.55h1.88v49.77h-1.88zM399.27 29.65h1.88v49.76h-1.88zM401.1 30.45h1.88v52.05h-1.88zM402.93 31.25h1.88v50.28h-1.88zM404.77 31.25h1.88v51.32h-1.88zM406.6 26.16h1.88v48.47h-1.88zM408.43 24.56h1.88v50.39h-1.88zM410.27 24.56h1.88v52.14h-1.88zM412.1 25.36h1.88v47.08h-1.88zM413.93 24.12h1.88v50.09h-1.88zM415.77 22.52h1.88v49.83h-1.88zM417.6 23.32h1.88v52.17h-1.88zM419.43 22.52h1.88v51.99h-1.88zM421.27 24.12h1.88v50.9h-1.88zM423.1 24.12h1.88v50.41h-1.88zM424.93 23.32h1.88v47.72h-1.88zM426.77 24.08h1.88v48.6h-1.88zM428.6 24.08h1.88v54.44h-1.88zM430.43 29.17h1.88v53.49h-1.88zM432.27 28.37h1.88v53.05h-1.88zM434.1 29.97h1.88v55.58h-1.88zM435.93 33.46h1.88v53.21h-1.88zM437.77 34.26h1.88v47.54h-1.88zM439.6 35.06h1.88v50.55h-1.88zM441.43 35.06h1.88v50.49h-1.88zM443.27 39.82h1.88v55.79h-1.88zM445.1 40.62h1.88v58.07h-1.88zM446.93 49.53h1.88v50.25h-1.88zM448.77 50.33h1.88v47.54h-1.88zM450.6 49.53h1.88v48.67h-1.88zM452.43 59.24h1.88v41.92h-1.88zM454.27 59.24h1.88v45.29h-1.88zM456.1 67.34h1.88v50.98h-1.88zM457.93 66.54h1.88v51.08h-1.88zM459.77 66.54h1.88v56.35h-1.88zM461.6 71.67h1.88v47.49h-1.88zM463.43 72.47h1.88v52.95h-1.88zM465.27 71.67h1.88v52.02h-1.88zM467.1 70.87h1.88v50.1h-1.88zM468.93 70.69h1.88v49.57h-1.88zM470.77 69.09h1.88v50.46h-1.88zM472.6 69.89h1.88v48.96h-1.88zM474.43 69.89h1.88v51.84h-1.88zM476.27 69.89h1.88v53.4h-1.88zM478.1 69.89h1.88v58.97h-1.88zM479.93 75.45h1.88v56.97h-1.88zM481.77 77.05h1.88v55.39h-1.88zM483.6 77.05h1.88v56.18h-1.88zM485.43 81.34h1.88v51.68h-1.88zM487.27 82.14h1.88v53.75h-1.88zM489.1 85.92h1.88v50.35h-1.88zM490.93 85.92h1.88v51.28h-1.88zM492.77 85.92h1.88v51.28h-1.88z"/>
<path fill="#1a8c66" d="M373.6 69.89h1.88v1.75h-1.88zM373.6 102.19h1.88v1.75h-1.88zM375.43 106.49h1.88v1.75h-1.88zM377.27 91.62h1.88v1.75h-1.88zM377.27 95.02h1.88v1.75h-1.88zM377.27 100.12h1.88v1.75h-1.88zM380.93 66.12h1.88v1.75h-1.88zM382.77 80.52h1.88v1.75h-1.88zM382.77 85.62h1.88v1.75h-1.88zM382.77 92.42h1.88v1.75h-1.88zM384.6 58.92h1.88v1.75h-1.88zM384.6 69.12h1.88v1.75h-1.88zM384.6 91.22h1.88v1.75h-1.88zM386.43 64.02h1.88v1.75h-1.88zM388.27 52.51h1.88v1.75h-1.88zM388.27 64.41h1.88v1.75h-1.88zM390.1 71.21h1.88v1.75h-1.88zM391.93 58.41h1.88v1.75h-1.88zM391.93 63.51h1.88v1.75h-1.88zM391.93 70.31h1.88v1.75h-1.88zM393.77 58.85h1.88v1.75h-1.88zM393.77 65.65h1.88v1.75h-1.88zM393.77 75.85h1.88v1.75h-1.88zM397.43 38.55h1.88v1.75h-1.88zM397.43 62.35h1.88v1.75h-1.88zM399.27 33.05h1.88v1.75h-1.88zM402.93 39.75h1.88v1.75h-1.88zM404.77 53.35h1.88v1.75h-1.88zM406.6 31.26h1.88v1.75h-1.88zM408.43 65.36h1.88v1.75h-1.88zM410.27 27.96h1.88v1.75h-1.88zM412.1 42.36h1.88v1.75h-1.88zM412.1 61.06h1.88v1.75h-1.88zM413.93 34.32h1.88v1.75h-1.88zM413.93 47.92h1.88v1.75h-1.88zM415.77 25.92h1.88v1.75h-1.88zM415.77 44.62h1.88v1.75h-1.88zM415.77 46.32h1.88v1.75h-1.88zM417.6 35.22h1.88v1.75h-1.88zM419.43 25.92h1.88v1.75h-1.88zM419.43 31.02h1.88v1.75h-1.88zM419.43 39.52h1.88v1.75h-1.88zM419.43 65.02h1.88v1.75h-1.88zM421.27 59.82h1.88v1.75h-1.88zM423.1 29.22h1.88v1.75h-1.88zM423.1 32.62h1.88v1.75h-1.88zM423.1 68.32h1.88v1.75h-1.88zM424.93 42.02h1.88v1.75h-1.88zM424.93 52.22h1.88v1.75h-1.88zM426.77 34.28h1.88v1.75h-1.88zM426.77 54.68h1.88v1.75h-1.88zM428.6 42.78h1.88v1.75h-1.88zM428.6 59.78h1.88v1.75h-1.88zM432.27 38.57h1.88v1.75h-1.88zM432.27 45.37h1.88v1.75h-1.88zM432.27 55.57h1.88v1.75h-1.88zM432.27 74.27h1.88v1.75h-1.88zM435.93 40.26h1.88v1.75h-1.88zM435.93 43.66h1.88v1.75h-1.88zM435.93 45.36h1.88v1.75h-1.88zM435.93 47.06h1.88v1.75h-1.88zM437.77 34.26h1.88v1.75h-1.88zM439.6 41.86h1.88v1.75h-1.88zM439.6 45.26h1.88v1.75h-1.88zM441.43 43.56h1.88v1.75h-1.88zM443.27 55.12h1.88v1.75h-1.88zM443.27 77.22h1.88v1.75h-1.88zM445.1 57.62h1.88v1.75h-1.88zM445.1 61.02h1.88v1.75h-1.88zM446.93 75.03h1.88v1.75h-1.88zM446.93 76.73h1.88v1.75h-1.88zM448.77 89.43h1.88v1.75h-1.88zM450.6 59.73h1.88v1.75h-1.88zM450.6 63.13h1.88v1.75h-1.88zM450.6 64.83h1.88v1.75h-1.88zM450.6 88.63h1.88v1.75h-1.88zM454.27 64.34h1.88v1.75h-1.88zM454.27 67.74h1.88v1.75h-1.88zM454.27 94.94h1.88v1.75h-1.88zM456.1 79.24h1.88v1.75h-1.88zM456.1 84.34h1.88v1.75h-1.88zM456.1 114.94h1.88v1.75h-1.88zM457.93 73.34h1.88v1.75h-1.88zM457.93 92.04h1.88v1.75h-1.88zM459.77 69.94h1.88v1.75h-1.88zM461.6 98.87h1.88v1.75h-1.88zM461.6 102.27h1.88v1.75h-1.88zM463.43 92.87h1.88v1.75h-1.88zM463.43 108.17h1.88v1.75h-1.88zM465.27 97.17h1.88v1.75h-1.88zM465.27 103.97h1.88v1.75h-1.88zM465.27 109.07h1.88v1.75h-1.88zM467.1 89.57h1.88v1.75h-1.88zM467.1 101.47h1.88v1.75h-1.88zM468.93 104.69h1.88v1.75h-1.88zM470.77 87.79h1.88v1.75h-1.88zM470.77 91.19h1.88v1.75h-1.88zM470.77 97.99h1.88v1.75h-1.88zM470.77 108.19h1.88v1.75h-1.88zM470.77 109.89h1.88v1.75h-1.88zM474.43 76.69h1.88v1.75h-1.88zM474.43 98.79h1.88v1.75h-1.88zM474.43 110.69h1.88v1.75h-1.88zM476.27 74.99h1.88v1.75h-1.88zM476.27 85.19h1.88v1.75h-1.88zM478.1 83.49h1.88v1.75h-1.88zM478.1 93.69h1.88v1.75h-1.88zM478.1 114.09h1.88v1.75h-1.88zM479.93 106.05h1.88v1.75h-1.88zM481.77 80.45h1.88v1.75h-1.88zM481.77 97.45h1.88v1.75h-1.88zM481.77 112.75h1.88v1.75h-1.88zM483.6 77.05h1.88v1.75h-1.88zM483.6 83.85h1.88v1.75h-1.88zM483.6 85.55h1.88v1.75h-1.88zM483.6 114.45h1.88v1.75h-1.88zM485.43 123.84h1.88v1.75h-1.88zM487.27 87.24h1.88v1.75h-1.88zM487.27 88.94h1.88v1.75h-1.88zM487.27 90.64h1.88v1.75h-1.88zM487.27 97.44h1.88v1.75h-1.88zM487.27 102.54h1.88v1.75h-1.88zM487.27 116.14h1.88v1.75h-1.88zM489.1 96.12h1.88v1.75h-1.88zM489.1 119.92h1.88v1.75h-1.88zM490.93 96.12h1.88v1.75h-1.88zM490.93 123.32h1.88v1.75h-1.88zM492.77 130.12h1.88v1.75h-1.88z"/>
<path fill="#339966" d="M373.6 76.69h1.88v1.75h-1.88zM373.6 91.99h1.88v1.75h-1.88zM373.6 95.39h1.88v1.75h-1.88zM373.6 98.79h1.88v1.75h-1.88zM373.6 107.29h1.88v1.75h-1.88zM375.43 72.49h1.88v1.75h-1.88zM375.43 89.49h1.88v1.75h-1.88zM377.27 66.12h1.88v1.75h-1.88zM377.27 72.92h1.88v1.75h-1.88zM377.27 74.62h1.88v1.75h-1.88zM377.27 78.02h1.88v1.75h-1.88zM377.27 83.12h1.88v1.75h-1.88zM377.27 88.22h1.88v1.75h-1.88zM377.27 89.92h1.88v1.75h-1.88zM377.27 98.42h1.88v1.75h-1.88zM377.27 101.82h1.88v1.75h-1.88zM379.1 64.42h1.88v1.75h-1.88zM379.1 84.82h1.88v1.75h-1.88zM379.1 88.22h1.88v1.75h-1.88zM379.1 93.32h1.88v1.75h-1.88zM380.93 74.62h1.88v1.75h-1.88zM380.93 84.82h1.88v1.75h-1.88zM382.77 63.52h1.88v1.75h-1.88zM382.77 72.02h1.88v1.75h-1.88zM382.77 87.32h1.88v1.75h-1.88zM382.77 94.12h1.88v1.75h-1.88zM382.77 95.82h1.88v1.75h-1.88zM384.6 62.32h1.88v1.75h-1.88zM384.6 70.82h1.88v1.75h-1.88zM386.43 53.82h1.88v1.75h-1.88zM386.43 65.72h1.88v1.75h-1.88zM386.43 67.42h1.88v1.75h-1.88zM386.43 72.52h1.88v1.75h-1.88zM386.43 82.72h1.88v1.75h-1.88zM388.27 47.41h1.88v1.75h-1.88zM388.27 49.11h1.88v1.75h-1.88zM388.27 78.01h1.88v1.75h-1.88zM390.1 61.01h1.88v1.75h-1.88zM390.1 64.41h1.88v1.75h-1.88zM390.1 69.51h1.88v1.75h-1.88zM391.93 48.21h1.88v1.75h-1.88zM391.93 73.71h1.88v1.75h-1.88zM393.77 41.85h1.88v1.75h-1.88zM393.77 77.55h1.88v1.75h-1.88zM395.6 41.85h1.88v1.75h-1.88zM395.6 45.25h1.88v1.75h-1.88zM395.6 53.75h1.88v1.75h-1.88zM395.6 67.35h1.88v1.75h-1.88zM395.6 69.05h1.88v1.75h-1.88zM395.6 75.85h1.88v1.75h-1.88zM397.43 74.25h1.88v1.75h-1.88zM399.27 41.55h1.88v1.75h-1.88zM399.27 50.05h1.88v1.75h-1.88zM399.27 63.65h1.88v1.75h-1.88zM399.27 65.35h1.88v1.75h-1.88zM401.1 35.55h1.88v1.75h-1.88zM401.1 49.15h1.88v1.75h-1.88zM402.93 34.65h1.88v1.75h-1.88zM402.93 41.45h1.88v1.75h-1.88zM402.93 51.65h1.88v1.75h-1.88zM404.77 48.25h1.88v1.75h-1.88zM404.77 49.95h1.88v1.75h-1.88zM404.77 65.25h1.88v1.75h-1.88zM406.6 27.86h1.88v1.75h-1.88zM406.6 32.96h1.88v1.75h-1.88zM406.6 34.66h1.88v1.75h-1.88zM406.6 48.26h1.88v1.75h-1.88zM406.6 55.06h1.88v1.75h-1.88zM408.43 29.66h1.88v1.75h-1.88zM408.43 36.46h1.88v1.75h-1.88zM408.43 39.86h1.88v1.75h-1.88zM408.43 44.96h1.88v1.75h-1.88zM408.43 48.36h1.88v1.75h-1.88zM408.43 56.86h1.88v1.75h-1.88zM408.43 68.76h1.88v1.75h-1.88zM410.27 39.86h1.88v1.75h-1.88zM410.27 48.36h1.88v1.75h-1.88zM410.27 58.56h1.88v1.75h-1.88zM410.27 60.26h1.88v1.75h-1.88zM412.1 44.06h1.88v1.75h-1.88zM412.1 49.16h1.88v1.75h-1.88zM412.1 69.56h1.88v1.75h-1.88zM413.93 30.92h1.88v1.75h-1.88zM413.93 56.42h1.88v1.75h-1.88zM413.93 59.82h1.88v1.75h-1.88zM413.93 66.62h1.88v1.75h-1.88zM415.77 22.52h1.88v1.75h-1.88zM415.77 24.22h1.88v1.75h-1.88zM415.77 36.12h1.88v1.75h-1.88zM415.77 51.42h1.88v1.75h-1.88zM417.6 23.32h1.88v1.75h-1.88zM417.6 50.52h1.88v1.75h-1.88zM417.6 52.22h1.88v1.75h-1.88zM419.43 36.12h1.88v1.75h-1.88zM419.43 44.62h1.88v1.75h-1.88zM421.27 41.12h1.88v1.75h-1.88zM421.27 51.32h1.88v1.75h-1.88zM421.27 58.12h1.88v1.75h-1.88zM423.1 44.52h1.88v1.75h-1.88zM423.1 47.92h1.88v1.75h-1.88zM423.1 58.12h1.88v1.75h-1.88zM423.1 63.22h1.88v1.75h-1.88zM424.93 38.62h1.88v1.75h-1.88zM426.77 37.68h1.88v1.75h-1.88zM426.77 42.78h1.88v1.75h-1.88zM426.77 47.88h1.88v1.75h-1.88zM428.6 34.28h1.88v1.75h-1.88zM428.6 46.18h1.88v1.75h-1.88zM428.6 49.58h1.88v1.75h-1.88zM428.6 54.68h1.88v1.75h-1.88zM430.43 32.57h1.88v1.75h-1.88zM430.43 39.37h1.88v1.75h-1.88zM430.43 47.87h1.88v1.75h-1.88zM430.43 63.17h1.88v1.75h-1.88zM430.43 68.27h1.88v1.75h-1.88zM430.43 80.17h1.88v1.75h-1.88zM432.27 28.37h1.88v1.75h-1.88zM432.27 31.77h1.88v1.75h-1.88zM432.27 36.87h1.88v1.75h-1.88zM432.27 47.07h1.88v1.75h-1.88zM432.27 48.77h1.88v1.75h-1.88zM432.27 50.47h1.88v1.75h-1.88zM432.27 60.67h1.88v1.75h-1.88zM432.27 65.77h1.88v1.75h-1.88zM432.27 75.97h1.88v1.75h-1.88zM432.27 77.67h1.88v1.75h-1.88zM434.1 29.97h1.88v1.75h-1.88zM434.1 60.57h1.88v1.75h-1.88zM435.93 35.16h1.88v1.75h-1.88zM435.93 38.56h1.88v1.75h-1.88zM435.93 41.96h1.88v1.75h-1.88zM435.93 67.46h1.88v1.75h-1.88zM435.93 86.16h1.88v0.56h-1.88zM437.77 37.66h1.88v1.75h-1.88zM437.77 46.16h1.88v1.75h-1.88zM437.77 59.76h1.88v1.75h-1.88zM437.77 61.46h1.88v1.75h-1.88zM437.77 66.56h1.88v1.75h-1.88zM439.6 36.76h1.88v1.75h-1.88zM439.6 60.56h1.88v1.75h-1.88zM439.6 63.96h1.88v1.75h-1.88zM439.6 65.66h1.88v1.75h-1.88zM439.6 67.36h1.88v1.75h-1.88zM441.43 38.46h1.88v1.75h-1.88zM441.43 41.86h1.88v1.75h-1.88zM441.43 45.26h1.88v1.75h-1.88zM441.43 48.66h1.88v1.75h-1.88zM441.43 60.56h1.88v1.75h-1.88zM441.43 63.96h1.88v1.75h-1.88zM441.43 69.06h1.88v1.75h-1.88zM441.43 70.76h1.88v1.75h-1.88zM441.43 84.36h1.88v1.24h-1.88zM443.27 51.72h1.88v1.75h-1.88zM443.27 56.82h1.88v1.75h-1.88zM443.27 61.92h1.88v1.75h-1.88zM445.1 72.92h1.88v1.75h-1.88zM445.1 93.32h1.88v1.75h-1.88zM446.93 51.23h1.88v1.75h-1.88zM446.93 59.73h1.88v1.75h-1.88zM446.93 64.83h1.88v1.75h-1.88zM446.93 73.33h1.88v1.75h-1.88zM448.77 60.53h1.88v1.75h-1.88zM450.6 49.53h1.88v1.75h-1.88zM450.6 51.23h1.88v1.75h-1.88zM450.6 58.03h1.88v1.75h-1.88zM450.6 69.93h1.88v1.75h-1.88zM450.6 73.33h1.88v1.75h-1.88zM450.6 93.73h1.88v1.75h-1.88zM450.6 95.43h1.88v1.75h-1.88zM452.43 71.14h1.88v1.75h-1.88zM452.43 81.34h1.88v1.75h-1.88zM452.43 86.44h1.88v1.75h-1.88zM452.43 88.14h1.88v1.75h-1.88zM452.43 93.24h1.88v1.75h-1.88zM454.27 59.24h1.88v1.75h-1.88zM454.27 71.14h1.88v1.75h-1.88zM454.27 74.54h1.88v1.75h-1.88zM454.27 81.34h1.88v1.75h-1.88zM454.27 100.04h1.88v1.75h-1.88zM456.1 70.74h1.88v1.75h-1.88zM456.1 72.44h1.88v1.75h-1.88zM456.1 75.84h1.88v1.75h-1.88zM456.1 91.14h1.88v1.75h-1.88zM456.1 92.84h1.88v1.75h-1.88zM456.1 108.14h1.88v1.75h-1.88zM456.1 111.54h1.88v1.75h-1.88zM457.93 81.84h1.88v1.75h-1.88zM457.93 95.44h1.88v1.75h-1.88zM457.93 103.94h1.88v1.75h-1.88zM459.77 68.24h1.88v1.75h-1.88zM459.77 83.54h1.88v1.75h-1.88zM459.77 107.34h1.88v1.75h-1.88zM459.77 110.74h1.88v1.75h-1.88zM461.6 78.47h1.88v1.75h-1.88zM461.6 88.67h1.88v1.75h-1.88zM461.6 92.07h1.88v1.75h-1.88zM461.6 95.47h1.88v1.75h-1.88zM461.6 97.17h1.88v1.75h-1.88zM461.6 103.97h1.88v1.75h-1.88zM463.43 77.57h1.88v1.75h-1.88zM465.27 71.67h1.88v1.75h-1.88zM465.27 75.07h1.88v1.75h-1.88zM465.27 76.77h1.88v1.75h-1.88zM465.27 81.87h1.88v1.75h-1.88zM467.1 81.07h1.88v1.75h-1.88zM467.1 86.17h1.88v1.75h-1.88zM467.1 87.87h1.88v1.75h-1.88zM467.1 94.67h1.88v1.75h-1.88zM468.93 72.39h1.88v1.75h-1.88zM468.93 82.59h1.88v1.75h-1.88zM468.93 94.49h1.88v1.75h-1.88zM468.93 99.59h1.88v1.75h-1.88zM470.77 74.19h1.88v1.75h-1.88zM470.77 77.59h1.88v1.75h-1.88zM470.77 86.09h1.88v1.75h-1.88zM470.77 89.49h1.88v1.75h-1.88zM470.77 101.39h1.88v1.75h-1.88zM472.6 81.79h1.88v1.75h-1.88zM472.6 91.99h1.88v1.75h-1.88zM472.6 98.79h1.88v1.75h-1.88zM472.6 110.69h1.88v1.75h-1.88zM474.43 112.39h1.88v1.75h-1.88zM476.27 83.49h1.88v1.75h-1.88zM476.27 98.79h1.88v1.75h-1.88zM476.27 120.89h1.88v1.75h-1.88zM478.1 69.89h1.88v1.75h-1.88zM478.1 81.79h1.88v1.75h-1.88zM478.1 100.49h1.88v1.75h-1.88zM479.93 87.35h1.88v1.75h-1.88zM479.93 90.75h1.88v1.75h-1.88zM479.93 97.55h1.88v1.75h-1.88zM479.93 111.15h1.88v1.75h-1.88zM479.93 121.35h1.88v1.75h-1.88zM481.77 90.65h1.88v1.75h-1.88zM481.77 99.15h1.88v1.75h-1.88zM481.77 104.25h1.88v1.75h-1.88zM483.6 82.15h1.88v1.75h-1.88zM483.6 92.35h1.88v1.75h-1.88zM483.6 105.95h1.88v1.75h-1.88zM483.6 107.65h1.88v1.75h-1.88zM483.6 116.15h1.88v1.75h-1.88zM485.43 88.14h1.88v1.75h-1.88zM485.43 101.74h1.88v1.75h-1.88zM485.43 110.24h1.88v1.75h-1.88zM485.43 111.94h1.88v1.75h-1.88zM485.43 115.34h1.88v1.75h-1.88zM485.43 120.44h1.88v1.75h-1.88zM485.43 130.64h1.88v1.75h-1.88zM487.27 92.34h1.88v1.75h-1.88zM487.27 105.94h1.88v1.75h-1.88zM487.27 109.34h1.88v1.75h-1.88zM487.27 122.94h1.88v1.75h-1.88zM487.27 124.64h1.88v1.75h-1.88zM487.27 129.74h1.88v1.75h-1.88zM489.1 87.62h1.88v1.75h-1.88zM490.93 89.32h1.88v1.75h-1.88zM490.93 99.52h1.88v1.75h-1.88zM490.93 104.62h1.88v1.75h-1.88zM490.93 108.02h1.88v1.75h-1.88zM490.93 125.02h1.88v1.75h-1.88zM492.77 85.92h1.88v1.75h-1.88zM492.77 87.62h1.88v1.75h-1.88zM492.77 119.92h1.88v1.75h-1.88zM492.77 133.52h1.88v1.75h-1.88z"/>
<path fill="#269366" d="M373.6 78.39h1.88v1.75h-1.88zM373.6 80.09h1.88v1.75h-1.88zM373.6 88.59h1.88v1.75h-1.88zM373.6 97.09h1.88v1.75h-1.88zM373.6 108.99h1.88v1.75h-1.88zM375.43 70.79h1.88v1.75h-1.88zM375.43 80.99h1.88v1.75h-1.88zM375.43 82.69h1.88v1.75h-1.88zM375.43 91.19h1.88v1.75h-1.88zM375.43 96.29h1.88v1.75h-1.88zM375.43 101.39h1.88v1.75h-1.88zM375.43 103.09h1.88v1.75h-1.88zM375.43 108.19h1.88v1.75h-1.88zM377.27 62.72h1.88v1.75h-1.88zM377.27 79.72h1.88v1.75h-1.88zM377.27 96.72h1.88v1.75h-1.88zM379.1 67.82h1.88v1.75h-1.88zM379.1 72.92h1.88v1.75h-1.88zM379.1 89.92h1.88v1.75h-1.88zM379.1 96.72h1.88v1.75h-1.88zM379.1 98.42h1.88v1.75h-1.88zM379.1 101.82h1.88v1.75h-1.88zM380.93 64.42h1.88v1.75h-1.88zM380.93 76.32h1.88v1.75h-1.88zM380.93 79.72h1.88v1.75h-1.88zM380.93 88.22h1.88v1.75h-1.88zM380.93 98.42h1.88v1.75h-1.88zM382.77 68.62h1.88v1.75h-1.88zM382.77 73.72h1.88v1.75h-1.88zM382.77 75.42h1.88v1.75h-1.88zM382.77 89.02h1.88v1.75h-1.88zM382.77 90.72h1.88v1.75h-1.88zM382.77 99.22h1.88v1.75h-1.88zM384.6 53.82h1.88v1.75h-1.88zM384.6 75.92h1.88v1.75h-1.88zM384.6 77.62h1.88v1.75h-1.88zM384.6 89.52h1.88v1.75h-1.88zM386.43 75.92h1.88v1.75h-1.88zM386.43 77.62h1.88v1.75h-1.88zM386.43 86.12h1.88v1.75h-1.88zM388.27 54.21h1.88v1.75h-1.88zM388.27 72.91h1.88v1.75h-1.88zM388.27 79.71h1.88v1.75h-1.88zM388.27 81.41h1.88v1.75h-1.88zM388.27 86.51h1.88v1.75h-1.88zM388.27 91.61h1.88v1.75h-1.88zM388.27 95.01h1.88v1.63h-1.88zM390.1 45.71h1.88v1.75h-1.88zM390.1 54.21h1.88v1.75h-1.88zM390.1 66.11h1.88v1.75h-1.88zM390.1 72.91h1.88v1.75h-1.88zM391.93 49.91h1.88v1.75h-1.88zM391.93 53.31h1.88v1.75h-1.88zM391.93 66.91h1.88v1.75h-1.88zM391.93 72.01h1.88v1.75h-1.88zM393.77 40.15h1.88v1.75h-1.88zM393.77 43.55h1.88v1.75h-1.88zM393.77 48.65h1.88v1.75h-1.88zM393.77 52.05h1.88v1.75h-1.88zM393.77 63.95h1.88v1.75h-1.88zM393.77 84.35h1.88v1.75h-1.88zM395.6 48.65h1.88v1.75h-1.88zM395.6 63.95h1.88v1.75h-1.88zM397.43 43.65h1.88v1.75h-1.88zM397.43 47.05h1.88v1.75h-1.88zM397.43 50.45h1.88v1.75h-1.88zM397.43 58.95h1.88v1.75h-1.88zM397.43 67.45h1.88v1.75h-1.88zM397.43 69.15h1.88v1.75h-1.88zM397.43 81.05h1.88v1.75h-1.88zM399.27 51.75h1.88v1.75h-1.88zM399.27 53.45h1.88v1.75h-1.88zM399.27 56.85h1.88v1.75h-1.88zM399.27 67.05h1.88v1.75h-1.88zM401.1 32.15h1.88v1.75h-1.88zM401.1 40.65h1.88v1.75h-1.88zM401.1 42.35h1.88v1.75h-1.88zM401.1 44.05h1.88v1.75h-1.88zM401.1 50.85h1.88v1.75h-1.88zM401.1 55.95h1.88v1.75h-1.88zM401.1 59.35h1.88v1.75h-1.88zM401.1 69.55h1.88v1.75h-1.88zM402.93 36.35h1.88v1.75h-1.88zM402.93 46.55h1.88v1.75h-1.88zM402.93 56.75h1.88v1.75h-1.88zM402.93 65.25h1.88v1.75h-1.88zM404.77 36.35h1.88v1.75h-1.88zM404.77 41.45h1.88v1.75h-1.88zM404.77 44.85h1.88v1.75h-1.88zM404.77 72.05h1.88v1.75h-1.88zM404.77 75.45h1.88v1.75h-1.88zM404.77 82.25h1.88v0.37h-1.88zM406.6 49.96h1.88v1.75h-1.88zM406.6 65.26h1.88v1.75h-1.88zM408.43 27.96h1.88v1.75h-1.88zM408.43 33.06h1.88v1.75h-1.88zM410.27 31.36h1.88v1.75h-1.88zM410.27 43.26h1.88v1.75h-1.88zM410.27 46.66h1.88v1.75h-1.88zM410.27 53.46h1.88v1.75h-1.88zM410.27 56.86h1.88v1.75h-1.88zM410.27 65.36h1.88v1.75h-1.88zM412.1 25.36h1.88v1.75h-1.88zM412.1 30.46h1.88v1.75h-1.88zM412.1 37.26h1.88v1.75h-1.88zM412.1 38.96h1.88v1.75h-1.88zM412.1 47.46h1.88v1.75h-1.88zM412.1 50.86h1.88v1.75h-1.88zM412.1 55.96h1.88v1.75h-1.88zM412.1 57.66h1.88v1.75h-1.88zM413.93 27.52h1.88v1.75h-1.88zM413.93 51.32h1.88v1.75h-1.88zM413.93 54.72h1.88v1.75h-1.88zM415.77 31.02h1.88v1.75h-1.88zM415.77 32.72h1.88v1.75h-1.88zM415.77 37.82h1.88v1.75h-1.88zM415.77 58.22h1.88v1.75h-1.88zM417.6 26.72h1.88v1.75h-1.88zM417.6 36.92h1.88v1.75h-1.88zM417.6 42.02h1.88v1.75h-1.88zM417.6 45.42h1.88v1.75h-1.88zM417.6 53.92h1.88v1.75h-1.88zM417.6 62.42h1.88v1.75h-1.88zM417.6 65.82h1.88v1.75h-1.88zM417.6 70.92h1.88v1.75h-1.88zM419.43 24.22h1.88v1.75h-1.88zM419.43 27.62h1.88v1.75h-1.88zM419.43 48.02h1.88v1.75h-1.88zM419.43 54.82h1.88v1.75h-1.88zM419.43 58.22h1.88v1.75h-1.88zM421.27 29.22h1.88v1.75h-1.88zM421.27 32.62h1.88v1.75h-1.88zM421.27 36.02h1.88v1.75h-1.88zM421.27 37.72h1.88v1.75h-1.88zM421.27 42.82h1.88v1.75h-1.88zM421.27 61.52h1.88v1.75h-1.88zM421.27 70.02h1.88v1.75h-1.88zM421.27 73.42h1.88v1.65h-1.88zM423.1 24.12h1.88v1.75h-1.88zM423.1 25.82h1.88v1.75h-1.88zM423.1 36.02h1.88v1.75h-1.88zM423.1 41.12h1.88v1.75h-1.88zM423.1 49.62h1.88v1.75h-1.88zM423.1 51.32h1.88v1.75h-1.88zM423.1 53.02h1.88v1.75h-1.88zM423.1 64.92h1.88v1.75h-1.88zM423.1 70.02h1.88v1.75h-1.88zM424.93 25.02h1.88v1.75h-1.88zM424.93 31.82h1.88v1.75h-1.88zM424.93 33.52h1.88v1.75h-1.88zM424.93 35.22h1.88v1.75h-1.88zM424.93 55.62h1.88v1.75h-1.88zM424.93 60.72h1.88v1.75h-1.88zM426.77 25.78h1.88v1.75h-1.88zM426.77 39.38h1.88v1.75h-1.88zM426.77 41.08h1.88v1.75h-1.88zM426.77 52.98h1.88v1.75h-1.88zM428.6 24.08h1.88v1.75h-1.88zM428.6 37.68h1.88v1.75h-1.88zM428.6 41.08h1.88v1.75h-1.88zM428.6 52.98h1.88v1.75h-1.88zM430.43 35.97h1.88v1.75h-1.88zM430.43 37.67h1.88v1.75h-1.88zM430.43 51.27h1.88v1.75h-1.88zM432.27 52.17h1.88v1.75h-1.88zM432.27 53.87h1.88v1.75h-1.88zM434.1 38.47h1.88v1.75h-1.88zM434.1 41.87h1.88v1.75h-1.88zM434.1 43.57h1.88v1.75h-1.88zM434.1 45.27h1.88v1.75h-1.88zM434.1 48.67h1.88v1.75h-1.88zM434.1 53.77h1.88v1.75h-1.88zM434.1 62.27h1.88v1.75h-1.88zM434.1 69.07h1.88v1.75h-1.88zM434.1 74.17h1.88v1.75h-1.88zM434.1 77.57h1.88v1.75h-1.88zM435.93 48.76h1.88v1.75h-1.88zM435.93 57.26h1.88v1.75h-1.88zM435.93 62.36h1.88v1.75h-1.88zM435.93 75.96h1.88v1.75h-1.88zM435.93 82.76h1.88v1.75h-1.88zM437.77 39.36h1.88v1.75h-1.88zM437.77 44.46h1.88v1.75h-1.88zM437.77 68.26h1.88v1.75h-1.88zM437.77 69.96h1.88v1.75h-1.88zM437.77 78.46h1.88v1.75h-1.88zM439.6 35.06h1.88v1.75h-1.88zM439.6 53.76h1.88v1.75h-1.88zM439.6 72.46h1.88v1.75h-1.88zM439.6 82.66h1.88v1.75h-1.88zM441.43 53.76h1.88v1.75h-1.88zM441.43 55.46h1.88v1.75h-1.88zM441.43 62.26h1.88v1.75h-1.88zM441.43 65.66h1.88v1.75h-1.88zM441.43 67.36h1.88v1.75h-1.88zM441.43 77.56h1.88v1.75h-1.88zM443.27 53.42h1.88v1.75h-1.88zM443.27 58.52h1.88v1.75h-1.88zM443.27 60.22h1.88v1.75h-1.88zM443.27 63.62h1.88v1.75h-1.88zM443.27 70.42h1.88v1.75h-1.88zM443.27 75.52h1.88v1.75h-1.88zM445.1 40.62h1.88v1.75h-1.88zM445.1 47.42h1.88v1.75h-1.88zM445.1 49.12h1.88v1.75h-1.88zM445.1 55.92h1.88v1.75h-1.88zM445.1 62.72h1.88v1.75h-1.88zM445.1 69.52h1.88v1.75h-1.88zM445.1 83.12h1.88v1.75h-1.88zM445.1 84.82h1.88v1.75h-1.88zM445.1 86.52h1.88v1.75h-1.88zM445.1 89.92h1.88v1.75h-1.88zM445.1 98.42h1.88v0.32h-1.88zM446.93 52.93h1.88v1.75h-1.88zM446.93 61.43h1.88v1.75h-1.88zM446.93 66.53h1.88v1.75h-1.88zM446.93 85.23h1.88v1.75h-1.88zM446.93 90.33h1.88v1.75h-1.88zM448.77 52.03h1.88v1.75h-1.88zM448.77 53.73h1.88v1.75h-1.88zM448.77 65.63h1.88v1.75h-1.88zM448.77 80.93h1.88v1.75h-1.88zM448.77 87.73h1.88v1.75h-1.88zM450.6 68.23h1.88v1.75h-1.88zM450.6 80.13h1.88v1.75h-1.88zM450.6 86.93h1.88v1.75h-1.88zM452.43 60.94h1.88v1.75h-1.88zM452.43 62.64h1.88v1.75h-1.88zM452.43 67.74h1.88v1.75h-1.88zM452.43 83.04h1.88v1.75h-1.88zM452.43 84.74h1.88v1.75h-1.88zM454.27 83.04h1.88v1.75h-1.88zM454.27 88.14h1.88v1.75h-1.88zM456.1 77.54h1.88v1.75h-1.88zM456.1 82.64h1.88v1.75h-1.88zM456.1 89.44h1.88v1.75h-1.88zM456.1 96.24h1.88v1.75h-1.88zM457.93 69.94h1.88v1.75h-1.88zM457.93 80.14h1.88v1.75h-1.88zM457.93 90.34h1.88v1.75h-1.88zM457.93 93.74h1.88v1.75h-1.88zM459.77 73.34h1.88v1.75h-1.88zM459.77 78.44h1.88v1.75h-1.88zM459.77 85.24h1.88v1.75h-1.88zM459.77 97.14h1.88v1.75h-1.88zM459.77 119.24h1.88v1.75h-1.88zM461.6 71.67h1.88v1.75h-1.88zM461.6 73.37h1.88v1.75h-1.88zM461.6 75.07h1.88v1.75h-1.88zM461.6 100.57h1.88v1.75h-1.88zM463.43 86.07h1.88v1.75h-1.88zM463.43 87.77h1.88v1.75h-1.88zM463.43 94.57h1.88v1.75h-1.88zM463.43 96.27h1.88v1.75h-1.88zM463.43 97.97h1.88v1.75h-1.88zM463.43 101.37h1.88v1.75h-1.88zM463.43 104.77h1.88v1.75h-1.88zM465.27 85.27h1.88v1.75h-1.88zM465.27 98.87h1.88v1.75h-1.88zM465.27 100.57h1.88v1.75h-1.88zM465.27 107.37h1.88v1.75h-1.88zM467.1 77.67h1.88v1.75h-1.88zM468.93 114.89h1.88v1.75h-1.88zM470.77 104.79h1.88v1.75h-1.88zM470.77 111.59h1.88v1.75h-1.88zM472.6 73.29h1.88v1.75h-1.88zM472.6 80.09h1.88v1.75h-1.88zM472.6 85.19h1.88v1.75h-1.88zM472.6 105.59h1.88v1.75h-1.88zM472.6 112.39h1.88v1.75h-1.88zM474.43 74.99h1.88v1.75h-1.88zM474.43 85.19h1.88v1.75h-1.88zM474.43 88.59h1.88v1.75h-1.88zM474.43 90.29h1.88v1.75h-1.88zM474.43 95.39h1.88v1.75h-1.88zM474.43 103.89h1.88v1.75h-1.88zM474.43 105.59h1.88v1.75h-1.88zM476.27 73.29h1.88v1.75h-1.88zM476.27 81.79h1.88v1.75h-1.88zM476.27 91.99h1.88v1.75h-1.88zM476.27 93.69h1.88v1.75h-1.88zM476.27 97.09h1.88v1.75h-1.88zM476.27 100.49h1.88v1.75h-1.88zM476.27 103.89h1.88v1.75h-1.88zM476.27 105.59h1.88v1.75h-1.88zM476.27 122.59h1.88v0.75h-1.88zM478.1 76.69h1.88v1.75h-1.88zM478.1 86.89h1.88v1.75h-1.88zM478.1 90.29h1.88v1.75h-1.88zM478.1 110.69h1.88v1.75h-1.88zM479.93 89.05h1.88v1.75h-1.88zM479.93 109.45h1.88v1.75h-1.88zM479.93 128.15h1.88v1.75h-1.88zM481.77 85.55h1.88v1.75h-1.88zM481.77 94.05h1.88v1.75h-1.88zM481.77 95.75h1.88v1.75h-1.88zM481.77 105.95h1.88v1.75h-1.88zM481.77 109.35h1.88v1.75h-1.88zM481.77 117.85h1.88v1.75h-1.88zM481.77 119.55h1.88v1.75h-1.88zM483.6 80.45h1.88v1.75h-1.88zM483.6 99.15h1.88v1.75h-1.88zM483.6 104.25h1.88v1.75h-1.88zM483.6 121.25h1.88v1.75h-1.88zM485.43 86.44h1.88v1.75h-1.88zM485.43 91.54h1.88v1.75h-1.88zM485.43 94.94h1.88v1.75h-1.88zM485.43 100.04h1.88v1.75h-1.88zM485.43 106.84h1.88v1.75h-1.88zM485.43 113.64h1.88v1.75h-1.88zM487.27 95.74h1.88v1.75h-1.88zM487.27 107.64h1.88v1.75h-1.88zM487.27 134.84h1.88v1.1h-1.88zM489.1 85.92h1.88v1.75h-1.88zM489.1 89.32h1.88v1.75h-1.88zM489.1 102.92h1.88v1.75h-1.88zM489.1 106.32h1.88v1.75h-1.88zM489.1 109.72h1.88v1.75h-1.88zM489.1 118.22h1.88v1.75h-1.88zM490.93 106.32h1.88v1.75h-1.88zM490.93 109.72h1.88v1.75h-1.88zM490.93 111.42h1.88v1.75h-1.88zM490.93 119.92h1.88v1.75h-1.88zM492.77 99.52h1.88v1.75h-1.88zM492.77 109.72h1.88v1.75h-1.88zM492.77 113.12h1.88v1.75h-1.88zM492.77 114.82h1.88v1.75h-1.88z"/>
<path fill="#80bf66" d="M373.6 114.09h1.88v1.75h-1.88zM375.43 118.39h1.88v1.1h-1.88zM377.27 108.62h1.88v1.75h-1.88zM410.27 73.86h1.88v1.75h-1.88zM415.77 71.82h1.88v0.58h-1.88zM423.1 71.72h1.88v1.75h-1.88zM426.77 64.88h1.88v1.75h-1.88zM434.1 70.77h1.88v1.75h-1.88zM446.93 92.03h1.88v1.75h-1.88zM461.6 112.47h1.88v1.75h-1.88zM470.77 113.29h1.88v1.75h-1.88zM489.1 135.22h1.88v1.1h-1.88zM490.93 126.72h1.88v1.75h-1.88z"/>
<path fill="#59ac66" d="M373.6 117.49h1.88v1.75h-1.88zM382.77 97.52h1.88v1.75h-1.88zM388.27 59.31h1.88v1.75h-1.88zM388.27 76.31h1.88v1.75h-1.88zM393.77 72.45h1.88v1.75h-1.88zM397.43 75.95h1.88v1.75h-1.88zM402.93 63.55h1.88v1.75h-1.88zM404.77 46.55h1.88v1.75h-1.88zM404.77 60.15h1.88v1.75h-1.88zM410.27 50.06h1.88v1.75h-1.88zM413.93 24.12h1.88v1.75h-1.88zM424.93 30.12h1.88v1.75h-1.88zM426.77 59.78h1.88v1.75h-1.88zM434.1 63.97h1.88v1.75h-1.88zM435.93 55.56h1.88v1.75h-1.88zM435.93 72.56h1.88v1.75h-1.88zM437.77 51.26h1.88v1.75h-1.88zM441.43 57.16h1.88v1.75h-1.88zM446.93 88.63h1.88v1.75h-1.88zM450.6 81.83h1.88v1.75h-1.88zM454.27 60.94h1.88v1.75h-1.88zM456.1 80.94h1.88v1.75h-1.88zM456.1 101.34h1.88v1.75h-1.88zM457.93 66.54h1.88v1.75h-1.88zM459.77 93.74h1.88v1.75h-1.88zM461.6 81.87h1.88v1.75h-1.88zM465.27 90.37h1.88v1.75h-1.88zM472.6 71.59h1.88v1.75h-1.88zM474.43 108.99h1.88v1.75h-1.88zM478.1 105.59h1.88v1.75h-1.88zM479.93 80.55h1.88v1.75h-1.88zM479.93 117.95h1.88v1.75h-1.88zM490.93 94.42h1.88v1.75h-1.88zM490.93 116.52h1.88v1.75h-1.88zM492.77 96.12h1.88v1.75h-1.88z"/>
<path fill="#8cc666" d="M373.6 119.19h1.88v1.75h-1.88zM375.43 111.59h1.88v1.75h-1.88zM391.93 78.81h1.88v1.75h-1.88zM395.6 77.55h1.88v1.75h-1.88zM419.43 68.42h1.88v1.75h-1.88zM457.93 112.44h1.88v1.75h-1.88zM461.6 117.57h1.88v1.64h-1.88zM467.1 113.37h1.88v1.75h-1.88zM467.1 118.47h1.88v1.75h-1.88zM474.43 114.09h1.88v1.75h-1.88z"/>
<path fill="#e6f266" d="M373.6 120.89h1.88v1.75h-1.88zM375.43 113.29h1.88v1.75h-1.88zM379.1 112.02h1.88v1.75h-1.88zM384.6 101.42h1.88v1.75h-1.88zM384.6 106.52h1.88v1.75h-1.88zM386.43 103.12h1.88v0.7h-1.88zM390.1 95.01h1.88v1.75h-1.88zM391.93 82.21h1.88v1.75h-1.88zM393.77 82.65h1.88v1.75h-1.88zM395.6 84.35h1.88v1.13h-1.88zM397.43 77.65h1.88v1.75h-1.88zM401.1 76.35h1.88v1.75h-1.88zM401.1 79.75h1.88v1.75h-1.88zM401.1 81.45h1.88v1.1h-1.88zM404.77 78.85h1.88v1.75h-1.88zM410.27 75.56h1.88v1.19h-1.88zM415.77 65.02h1.88v1.75h-1.88zM417.6 74.32h1.88v1.22h-1.88zM419.43 70.12h1.88v1.75h-1.88zM421.27 66.62h1.88v1.75h-1.88zM421.27 71.72h1.88v1.75h-1.88zM424.93 67.52h1.88v1.75h-1.88zM426.77 69.98h1.88v1.75h-1.88zM430.43 75.07h1.88v1.75h-1.88zM432.27 72.57h1.88v1.75h-1.88zM432.27 79.37h1.88v1.75h-1.88zM435.93 77.66h1.88v1.75h-1.88zM443.27 82.32h1.88v1.75h-1.88zM443.27 84.02h1.88v1.75h-1.88zM443.27 87.42h1.88v1.75h-1.88zM445.1 95.02h1.88v1.75h-1.88zM446.93 98.83h1.88v1h-1.88zM448.77 94.53h1.88v1.75h-1.88zM452.43 100.04h1.88v1.17h-1.88zM454.27 103.44h1.88v1.14h-1.88zM463.43 113.27h1.88v1.75h-1.88zM463.43 123.47h1.88v1.75h-1.88zM465.27 115.87h1.88v1.75h-1.88zM472.6 115.79h1.88v1.75h-1.88zM478.1 119.19h1.88v1.75h-1.88zM479.93 126.45h1.88v1.75h-1.88zM479.93 129.85h1.88v1.75h-1.88zM481.77 126.35h1.88v1.75h-1.88zM481.77 128.05h1.88v1.75h-1.88z"/>
<path fill="#d9ec66" d="M373.6 122.59h1.88v1.75h-1.88zM375.43 114.99h1.88v1.75h-1.88zM377.27 110.32h1.88v1.75h-1.88zM377.27 112.02h1.88v1.75h-1.88zM379.1 108.62h1.88v1.75h-1.88zM380.93 105.22h1.88v1.75h-1.88zM380.93 108.62h1.88v1.75h-1.88zM380.93 110.32h1.88v1.75h-1.88zM382.77 107.72h1.88v1.75h-1.88zM384.6 103.12h1.88v1.75h-1.88zM384.6 104.82h1.88v1.75h-1.88zM386.43 96.32h1.88v1.75h-1.88zM388.27 93.31h1.88v1.75h-1.88zM390.1 86.51h1.88v1.75h-1.88zM390.1 88.21h1.88v1.75h-1.88zM391.93 80.51h1.88v1.75h-1.88zM391.93 85.61h1.88v1.75h-1.88zM397.43 79.35h1.88v1.75h-1.88zM399.27 77.25h1.88v1.75h-1.88zM401.1 78.05h1.88v1.75h-1.88zM402.93 77.15h1.88v1.75h-1.88zM406.6 73.76h1.88v0.92h-1.88zM408.43 72.16h1.88v1.75h-1.88zM417.6 72.62h1.88v1.75h-1.88zM419.43 71.82h1.88v1.75h-1.88zM421.27 68.32h1.88v1.75h-1.88zM426.77 71.68h1.88v1.05h-1.88zM428.6 73.38h1.88v1.75h-1.88zM430.43 71.67h1.88v1.75h-1.88zM430.43 76.77h1.88v1.75h-1.88zM432.27 81.07h1.88v0.4h-1.88zM434.1 82.67h1.88v1.75h-1.88zM435.93 79.36h1.88v1.75h-1.88zM435.93 84.46h1.88v1.75h-1.88zM445.1 88.22h1.88v1.75h-1.88zM446.93 95.43h1.88v1.75h-1.88zM456.1 109.84h1.88v1.75h-1.88zM459.77 115.84h1.88v1.75h-1.88zM459.77 117.54h1.88v1.75h-1.88zM459.77 122.64h1.88v0.3h-1.88zM463.43 114.97h1.88v1.75h-1.88zM463.43 118.37h1.88v1.75h-1.88zM465.27 114.17h1.88v1.75h-1.88zM467.1 115.07h1.88v1.75h-1.88zM468.93 119.99h1.88v0.32h-1.88zM470.77 114.99h1.88v1.75h-1.88zM476.27 117.49h1.88v1.75h-1.88zM478.1 120.89h1.88v1.75h-1.88zM478.1 125.99h1.88v1.75h-1.88zM479.93 131.55h1.88v0.92h-1.88zM483.6 129.75h1.88v1.75h-1.88zM483.6 131.45h1.88v1.75h-1.88zM485.43 125.54h1.88v1.75h-1.88zM485.43 132.34h1.88v0.73h-1.88zM487.27 133.14h1.88v1.75h-1.88zM489.1 133.52h1.88v1.75h-1.88zM490.93 130.12h1.88v1.75h-1.88zM490.93 135.22h1.88v1.75h-1.88z"/>
<path fill="#99cc66" d="M373.6 124.29h1.88v1.75h-1.88zM388.27 89.91h1.88v1.75h-1.88zM390.1 89.91h1.88v1.75h-1.88zM395.6 82.65h1.88v1.75h-1.88zM415.77 63.32h1.88v1.75h-1.88zM419.43 66.72h1.88v1.75h-1.88zM443.27 90.82h1.88v1.75h-1.88zM456.1 104.74h1.88v1.75h-1.88zM483.6 124.65h1.88v1.75h-1.88zM485.43 128.94h1.88v1.75h-1.88z"/>
<path fill="#409f66" d="M375.43 69.09h1.88v1.75h-1.88zM375.43 74.19h1.88v1.75h-1.88zM377.27 71.22h1.88v1.75h-1.88zM379.1 71.22h1.88v1.75h-1.88zM380.93 96.72h1.88v1.75h-1.88zM380.93 100.12h1.88v1.75h-1.88zM382.77 106.02h1.88v1.75h-1.88zM384.6 74.22h1.88v1.75h-1.88zM384.6 96.32h1.88v1.75h-1.88zM388.27 84.81h1.88v1.75h-1.88zM390.1 78.01h1.88v1.75h-1.88zM393.77 60.55h1.88v1.75h-1.88zM395.6 43.55h1.88v1.75h-1.88zM397.43 53.85h1.88v1.75h-1.88zM399.27 31.35h1.88v1.75h-1.88zM401.1 45.75h1.88v1.75h-1.88zM401.1 71.25h1.88v1.75h-1.88zM410.27 34.76h1.88v1.75h-1.88zM413.93 73.42h1.88v0.84h-1.88zM417.6 30.12h1.88v1.75h-1.88zM430.43 61.47h1.88v1.75h-1.88zM437.77 56.36h1.88v1.75h-1.88zM439.6 38.46h1.88v1.75h-1.88zM439.6 62.26h1.88v1.75h-1.88zM439.6 79.26h1.88v1.75h-1.88zM441.43 35.06h1.88v1.75h-1.88zM441.43 75.86h1.88v1.75h-1.88zM445.1 78.02h1.88v1.75h-1.88zM446.93 56.33h1.88v1.75h-1.88zM446.93 78.43h1.88v1.75h-1.88zM448.77 75.83h1.88v1.75h-1.88zM454.27 66.04h1.88v1.75h-1.88zM454.27 76.24h1.88v1.75h-1.88zM457.93 102.24h1.88v1.75h-1.88zM459.77 109.04h1.88v1.75h-1.88zM461.6 85.27h1.88v1.75h-1.88zM472.6 95.39h1.88v1.75h-1.88zM472.6 100.49h1.88v1.75h-1.88zM476.27 86.89h1.88v1.75h-1.88zM479.93 92.45h1.88v1.75h-1.88zM479.93 107.75h1.88v1.75h-1.88zM483.6 87.25h1.88v1.75h-1.88zM485.43 84.74h1.88v1.75h-1.88zM489.1 104.62h1.88v1.75h-1.88zM489.1 108.02h1.88v1.75h-1.88z"/>
<path fill="#73b966" d="M375.43 109.89h1.88v1.75h-1.88zM384.6 98.02h1.88v1.75h-1.88zM386.43 94.62h1.88v1.75h-1.88zM393.77 86.05h1.88v1.75h-1.88zM399.27 70.45h1.88v1.75h-1.88zM402.93 72.05h1.88v1.75h-1.88zM406.6 70.36h1.88v1.75h-1.88zM426.77 68.28h1.88v1.75h-1.88zM435.93 70.86h1.88v1.75h-1.88zM463.43 120.07h1.88v1.75h-1.88zM465.27 119.27h1.88v1.75h-1.88zM468.93 111.49h1.88v1.75h-1.88zM472.6 117.49h1.88v1.41h-1.88z"/>
<path fill="#f2f966" d="M375.43 116.69h1.88v1.75h-1.88zM377.27 113.72h1.88v0.91h-1.88zM379.1 110.32h1.88v1.75h-1.88zM379.1 113.72h1.88v1.05h-1.88zM380.93 106.92h1.88v1.75h-1.88zM380.93 112.02h1.88v0.89h-1.88zM384.6 108.22h1.88v1.75h-1.88zM386.43 101.42h1.88v1.75h-1.88zM390.1 93.31h1.88v1.75h-1.88zM395.6 79.25h1.88v1.75h-1.88zM397.43 84.45h1.88v1.75h-1.88zM397.43 86.15h1.88v1.75h-1.88zM397.43 87.85h1.88v0.52h-1.88zM399.27 75.55h1.88v1.75h-1.88zM399.27 78.95h1.88v0.51h-1.88zM401.1 72.95h1.88v1.75h-1.88zM401.1 74.65h1.88v1.75h-1.88zM404.77 73.75h1.88v1.75h-1.88zM404.77 80.55h1.88v1.75h-1.88zM406.6 72.06h1.88v1.75h-1.88zM408.43 70.46h1.88v1.75h-1.88zM410.27 72.16h1.88v1.75h-1.88zM415.77 66.72h1.88v1.75h-1.88zM415.77 70.12h1.88v1.75h-1.88zM419.43 73.52h1.88v1.04h-1.88zM424.93 69.22h1.88v1.75h-1.88zM428.6 76.78h1.88v1.75h-1.88zM430.43 73.37h1.88v1.75h-1.88zM430.43 81.87h1.88v0.84h-1.88zM434.1 75.87h1.88v1.75h-1.88zM435.93 81.06h1.88v1.75h-1.88zM443.27 85.72h1.88v1.75h-1.88zM445.1 91.62h1.88v1.75h-1.88zM445.1 96.72h1.88v1.75h-1.88zM448.77 96.23h1.88v1.69h-1.88zM450.6 97.13h1.88v1.12h-1.88zM452.43 98.34h1.88v1.75h-1.88zM456.1 113.24h1.88v1.75h-1.88zM463.43 116.67h1.88v1.75h-1.88zM463.43 121.77h1.88v1.75h-1.88zM463.43 125.17h1.88v0.3h-1.88zM465.27 117.57h1.88v1.75h-1.88zM465.27 120.97h1.88v1.75h-1.88zM467.1 120.17h1.88v0.85h-1.88zM468.93 113.19h1.88v1.75h-1.88zM468.93 116.59h1.88v1.75h-1.88zM468.93 118.29h1.88v1.75h-1.88zM474.43 119.19h1.88v1.75h-1.88zM479.93 119.65h1.88v1.75h-1.88zM479.93 123.05h1.88v1.75h-1.88zM481.77 124.65h1.88v1.75h-1.88zM481.77 129.75h1.88v1.75h-1.88zM481.77 131.45h1.88v1.04h-1.88zM485.43 127.24h1.88v1.75h-1.88zM487.27 131.44h1.88v1.75h-1.88z"/>
<path fill="#ffff66" d="M380.93 103.52h1.88v1.75h-1.88zM382.77 104.32h1.88v1.75h-1.88zM382.77 109.42h1.88v0.77h-1.88zM384.6 99.72h1.88v1.75h-1.88zM402.93 70.35h1.88v1.75h-1.88zM402.93 78.85h1.88v1.75h-1.88zM410.27 70.46h1.88v1.75h-1.88zM412.1 67.86h1.88v1.75h-1.88zM413.93 70.02h1.88v1.75h-1.88zM439.6 80.96h1.88v1.75h-1.88zM439.6 84.36h1.88v1.3h-1.88zM443.27 89.12h1.88v1.75h-1.88zM452.43 96.64h1.88v1.75h-1.88zM456.1 106.44h1.88v1.75h-1.88zM456.1 116.64h1.88v1.73h-1.88zM459.77 114.14h1.88v1.75h-1.88zM461.6 114.17h1.88v1.75h-1.88zM465.27 122.67h1.88v1.07h-1.88zM474.43 120.89h1.88v0.89h-1.88zM476.27 119.19h1.88v1.75h-1.88zM478.1 127.69h1.88v1.22h-1.88zM479.93 124.75h1.88v1.75h-1.88zM483.6 128.05h1.88v1.75h-1.88zM490.93 133.52h1.88v1.75h-1.88zM492.77 135.22h1.88v1.75h-1.88zM492.77 136.92h1.88v0.33h-1.88z"/>
<path fill="#4ca666" d="M382.77 70.32h1.88v1.75h-1.88zM386.43 92.92h1.88v1.75h-1.88zM390.1 83.11h1.88v1.75h-1.88zM397.43 40.25h1.88v1.75h-1.88zM397.43 60.65h1.88v1.75h-1.88zM401.1 61.05h1.88v1.75h-1.88zM408.43 24.56h1.88v1.75h-1.88zM424.93 47.12h1.88v1.75h-1.88zM434.1 46.97h1.88v1.75h-1.88zM445.1 50.82h1.88v1.75h-1.88zM445.1 52.52h1.88v1.75h-1.88zM446.93 80.13h1.88v1.75h-1.88zM448.77 70.73h1.88v1.75h-1.88zM454.27 89.84h1.88v1.75h-1.88zM454.27 91.54h1.88v1.75h-1.88zM454.27 96.64h1.88v1.75h-1.88zM457.93 71.64h1.88v1.75h-1.88zM459.77 75.04h1.88v1.75h-1.88zM459.77 103.94h1.88v1.75h-1.88zM461.6 107.37h1.88v1.75h-1.88zM463.43 111.57h1.88v1.75h-1.88zM465.27 105.67h1.88v1.75h-1.88zM467.1 79.37h1.88v1.75h-1.88zM476.27 115.79h1.88v1.75h-1.88zM478.1 88.59h1.88v1.75h-1.88zM479.93 78.85h1.88v1.75h-1.88zM481.77 121.25h1.88v1.75h-1.88zM483.6 119.55h1.88v1.75h-1.88zM487.27 82.14h1.88v1.75h-1.88zM489.1 114.82h1.88v1.75h-1.88zM489.1 128.42h1.88v1.75h-1.88z"/>
<path fill="#b2d966" d="M386.43 98.02h1.88v1.75h-1.88zM399.27 72.15h1.88v1.75h-1.88zM402.93 68.65h1.88v1.75h-1.88zM417.6 67.52h1.88v1.75h-1.88zM428.6 71.68h1.88v1.75h-1.88zM434.1 80.97h1.88v1.75h-1.88z"/>
<path fill="#66b266" d="M391.93 83.91h1.88v1.75h-1.88zM393.77 80.95h1.88v1.75h-1.88zM404.77 70.35h1.88v1.75h-1.88zM415.77 68.42h1.88v1.75h-1.88zM434.1 84.37h1.88v1.23h-1.88zM443.27 80.62h1.88v1.75h-1.88zM457.93 115.84h1.88v1.75h-1.88zM467.1 116.77h1.88v1.75h-1.88zM478.1 122.59h1.88v1.75h-1.88zM478.1 124.29h1.88v1.75h-1.88zM485.43 122.14h1.88v1.75h-1.88zM490.93 131.82h1.88v1.75h-1.88z"/>
<path fill="#cce666" d="M397.43 82.75h1.88v1.75h-1.88zM402.93 75.45h1.88v1.75h-1.88zM408.43 73.86h1.88v1.14h-1.88zM413.93 71.72h1.88v1.75h-1.88zM443.27 94.22h1.88v1.44h-1.88z"/>
<path fill="#a6d266" d="M408.43 67.06h1.88v1.75h-1.88zM437.77 80.16h1.88v1.69h-1.88zM446.93 93.73h1.88v1.75h-1.88zM461.6 115.87h1.88v1.75h-1.88z"/>
</g>
<rect x="424.45" y="22.5" width="2.3" height="63" fill="#1a4488" opacity="0.92"/>
<rect x="438.75" y="35.5" width="2.1" height="46" fill="#34508f" opacity="0.88"/>
<rect x="465.9" y="68.6" width="2" height="56.1" fill="#8a982c" opacity="0.75"/>
<rect x="487.6" y="86.5" width="2" height="44.5" fill="#6e6e3a" opacity="0.8"/>
<rect x="373.5" y="115.7" width="2" height="2" fill="#e3141c"/>
<rect x="376.1" y="113.27" width="2" height="2" fill="#e3141c"/>
<rect x="378.7" y="110.78" width="2" height="2" fill="#e3141c"/>
<rect x="381.3" y="107.58" width="2" height="2" fill="#e3141c"/>
<rect x="383.9" y="102.96" width="2" height="2" fill="#e3141c"/>
<rect x="386.5" y="96.86" width="2" height="2" fill="#e3141c"/>
<rect x="389.1" y="89.88" width="2" height="2" fill="#e3141c"/>
<rect x="391.7" y="85.42" width="2" height="2" fill="#e3141c"/>
<rect x="394.3" y="80.28" width="2" height="2" fill="#e3141c"/>
<rect x="396.9" y="77.07" width="2" height="2" fill="#e3141c"/>
<rect x="399.5" y="75.59" width="2" height="2" fill="#e3141c"/>
<rect x="402.1" y="75.36" width="2" height="2" fill="#e3141c"/>
<rect x="404.7" y="73.74" width="2" height="2" fill="#e3141c"/>
<rect x="407.3" y="71.12" width="2" height="2" fill="#e3141c"/>
<rect x="409.9" y="69.22" width="2" height="2" fill="#e3141c"/>
<rect x="412.5" y="70.11" width="2" height="2" fill="#e3141c"/>
<rect x="415.1" y="68.91" width="2" height="2" fill="#e3141c"/>
<rect x="417.7" y="70.2" width="2" height="2" fill="#e3141c"/>
<rect x="420.3" y="69.31" width="2" height="2" fill="#e3141c"/>
<rect x="422.9" y="68.83" width="2" height="2" fill="#e3141c"/>
<rect x="425.5" y="68.84" width="2" height="2" fill="#e3141c"/>
<rect x="428.1" y="70.5" width="2" height="2" fill="#e3141c"/>
<rect x="430.7" y="73.82" width="2" height="2" fill="#e3141c"/>
<rect x="433.3" y="76.3" width="2" height="2" fill="#e3141c"/>
<rect x="435.9" y="77.99" width="2" height="2" fill="#e3141c"/>
<rect x="438.5" y="79.9" width="2" height="2" fill="#e3141c"/>
<rect x="441.1" y="82.52" width="2" height="2" fill="#e3141c"/>
<rect x="443.7" y="86.27" width="2" height="2" fill="#e3141c"/>
<rect x="446.3" y="89.87" width="2" height="2" fill="#e3141c"/>
<rect x="448.9" y="93.45" width="2" height="2" fill="#e3141c"/>
<rect x="451.5" y="96.27" width="2" height="2" fill="#e3141c"/>
<rect x="456.7" y="113" width="2" height="2" fill="#e3141c"/>
<rect x="459.3" y="113.4" width="2" height="2" fill="#e3141c"/>
<rect x="461.9" y="114.28" width="2" height="2" fill="#e3141c"/>
<rect x="464.5" y="115.21" width="2" height="2" fill="#e3141c"/>
<rect x="467.1" y="115.06" width="2" height="2" fill="#e3141c"/>
<rect x="469.7" y="114.88" width="2" height="2" fill="#e3141c"/>
<rect x="472.3" y="116.41" width="2" height="2" fill="#e3141c"/>
<rect x="474.9" y="116.5" width="2" height="2" fill="#e3141c"/>
<rect x="477.5" y="119.62" width="2" height="2" fill="#e3141c"/>
<rect x="480.1" y="121.97" width="2" height="2" fill="#e3141c"/>
<rect x="482.7" y="124.64" width="2" height="2" fill="#e3141c"/>
<rect x="485.3" y="129.31" width="2" height="2" fill="#e3141c"/>
<rect x="487.9" y="131.57" width="2" height="2" fill="#e3141c"/>
<rect x="490.5" y="132.63" width="2" height="2" fill="#e3141c"/>
<g fill="#1a14c0" stroke="#1a14c0"><line x1="429" y1="21.2" x2="434.9" y2="15.6" stroke-width="2.7"/><path d="M426.6 23.6l5.8 -1.5l-4.3 -4.3z" stroke-width="0.5"/></g>
<g fill="#5a18c8" stroke="#5a18c8"><line x1="443.4" y1="33.8" x2="449.3" y2="28.2" stroke-width="2.7"/><path d="M441 36.2l5.8 -1.5l-4.3 -4.3z" stroke-width="0.5"/></g>
<g fill="#e8820c" stroke="#e8820c"><line x1="470.4" y1="66.8" x2="476.3" y2="61.2" stroke-width="2.7"/><path d="M468 69.2l5.8 -1.5l-4.3 -4.3z" stroke-width="0.5"/></g>
<g fill="#8c1414" stroke="#8c1414"><line x1="492.6" y1="83.9" x2="498.5" y2="78.3" stroke-width="2.7"/><path d="M490.2 86.3l5.8 -1.5l-4.3 -4.3z" stroke-width="0.5"/></g>
<rect x="373.6" y="17.9" width="121" height="120.3" fill="none" stroke="#111" stroke-width="1.2"/>
<path d="M373.6 138.2v2.1 M373.6 17.9v-2.1 M385.05 138.2v2.1 M385.05 17.9v-2.1 M396.5 138.2v2.1 M396.5 17.9v-2.1 M407.95 138.2v2.1 M407.95 17.9v-2.1 M419.4 138.2v2.1 M419.4 17.9v-2.1 M430.85 138.2v2.1 M430.85 17.9v-2.1 M442.3 138.2v2.1 M442.3 17.9v-2.1 M453.75 138.2v2.1 M453.75 17.9v-2.1 M465.2 138.2v2.1 M465.2 17.9v-2.1 M476.65 138.2v2.1 M476.65 17.9v-2.1 M488.1 138.2v2.1 M488.1 17.9v-2.1 M375.89 138.2v1.2 M375.89 17.9v-1.2 M378.18 138.2v1.2 M378.18 17.9v-1.2 M380.47 138.2v1.2 M380.47 17.9v-1.2 M382.76 138.2v1.2 M382.76 17.9v-1.2 M387.34 138.2v1.2 M387.34 17.9v-1.2 M389.63 138.2v1.2 M389.63 17.9v-1.2 M391.92 138.2v1.2 M391.92 17.9v-1.2 M394.21 138.2v1.2 M394.21 17.9v-1.2 M398.79 138.2v1.2 M398.79 17.9v-1.2 M401.08 138.2v1.2 M401.08 17.9v-1.2 M403.37 138.2v1.2 M403.37 17.9v-1.2 M405.66 138.2v1.2 M405.66 17.9v-1.2 M410.24 138.2v1.2 M410.24 17.9v-1.2 M412.53 138.2v1.2 M412.53 17.9v-1.2 M414.82 138.2v1.2 M414.82 17.9v-1.2 M417.11 138.2v1.2 M417.11 17.9v-1.2 M421.69 138.2v1.2 M421.69 17.9v-1.2 M423.98 138.2v1.2 M423.98 17.9v-1.2 M426.27 138.2v1.2 M426.27 17.9v-1.2 M428.56 138.2v1.2 M428.56 17.9v-1.2 M433.14 138.2v1.2 M433.14 17.9v-1.2 M435.43 138.2v1.2 M435.43 17.9v-1.2 M437.72 138.2v1.2 M437.72 17.9v-1.2 M440.01 138.2v1.2 M440.01 17.9v-1.2 M444.59 138.2v1.2 M444.59 17.9v-1.2 M446.88 138.2v1.2 M446.88 17.9v-1.2 M449.17 138.2v1.2 M449.17 17.9v-1.2 M451.46 138.2v1.2 M451.46 17.9v-1.2 M456.04 138.2v1.2 M456.04 17.9v-1.2 M458.33 138.2v1.2 M458.33 17.9v-1.2 M460.62 138.2v1.2 M460.62 17.9v-1.2 M462.91 138.2v1.2 M462.91 17.9v-1.2 M467.49 138.2v1.2 M467.49 17.9v-1.2 M469.78 138.2v1.2 M469.78 17.9v-1.2 M472.07 138.2v1.2 M472.07 17.9v-1.2 M474.36 138.2v1.2 M474.36 17.9v-1.2 M478.94 138.2v1.2 M478.94 17.9v-1.2 M481.23 138.2v1.2 M481.23 17.9v-1.2 M483.52 138.2v1.2 M483.52 17.9v-1.2 M485.81 138.2v1.2 M485.81 17.9v-1.2 M490.39 138.2v1.2 M490.39 17.9v-1.2 M492.68 138.2v1.2 M492.68 17.9v-1.2 M373.6 135.2h-2.1 M494.6 135.2h2.1 M373.6 97h-2.1 M494.6 97h2.1 M373.6 58.8h-2.1 M494.6 58.8h2.1 M373.6 20.6h-2.1 M494.6 20.6h2.1 M373.6 127.56h-1.2 M494.6 127.56h1.2 M373.6 119.92h-1.2 M494.6 119.92h1.2 M373.6 112.28h-1.2 M494.6 112.28h1.2 M373.6 104.64h-1.2 M494.6 104.64h1.2 M373.6 89.36h-1.2 M494.6 89.36h1.2 M373.6 81.72h-1.2 M494.6 81.72h1.2 M373.6 74.08h-1.2 M494.6 74.08h1.2 M373.6 66.44h-1.2 M494.6 66.44h1.2 M373.6 51.16h-1.2 M494.6 51.16h1.2 M373.6 43.52h-1.2 M494.6 43.52h1.2 M373.6 35.88h-1.2 M494.6 35.88h1.2 M373.6 28.24h-1.2 M494.6 28.24h1.2" stroke="#111" stroke-width="0.9" fill="none"/>
<text x="373.6" y="152.2" font-size="9.4" text-anchor="middle" class="b" fill="#111">0</text>
<text x="385.05" y="152.2" font-size="9.4" text-anchor="middle" class="b" fill="#111">1</text>
<text x="396.5" y="152.2" font-size="9.4" text-anchor="middle" class="b" fill="#111">2</text>
<text x="407.95" y="152.2" font-size="9.4" text-anchor="middle" class="b" fill="#111">3</text>
<text x="419.4" y="152.2" font-size="9.4" text-anchor="middle" class="b" fill="#111">4</text>
<text x="430.85" y="152.2" font-size="9.4" text-anchor="middle" class="b" fill="#111">5</text>
<text x="442.3" y="152.2" font-size="9.4" text-anchor="middle" class="b" fill="#111">6</text>
<text x="453.75" y="152.2" font-size="9.4" text-anchor="middle" class="b" fill="#111">7</text>
<text x="465.2" y="152.2" font-size="9.4" text-anchor="middle" class="b" fill="#111">8</text>
<text x="476.65" y="152.2" font-size="9.4" text-anchor="middle" class="b" fill="#111">9</text>
<text x="489.3" y="152.2" font-size="9.4" text-anchor="middle" class="b" fill="#111">10</text>
<text x="367.5" y="138.3" font-size="9.4" text-anchor="end" class="b" fill="#111">-1</text>
<text x="367.5" y="100.1" font-size="9.4" text-anchor="end" class="b" fill="#111">0</text>
<text x="367.5" y="61.9" font-size="9.4" text-anchor="end" class="b" fill="#111">1</text>
<text x="367.5" y="23.7" font-size="9.4" text-anchor="end" class="b" fill="#111">2</text>
<text x="434" y="164.8" font-size="11.3" text-anchor="middle" class="b" fill="#111">x[nm]</text>
<text x="359.2" y="77.5" font-size="11.3" text-anchor="middle" class="b" transform="rotate(-90 359.2 77.5)" fill="#111">z[nm]</text>
<text x="375.5" y="13.5" font-size="10.5" text-anchor="middle" class="b" fill="#111">c</text>
<rect x="502.3" y="18.2" width="9" height="117" fill="url(#summer)" stroke="#444" stroke-width="0.5"/>
<text x="514.6" y="35.1" font-size="9.4" text-anchor="start" class="b" fill="#111">0.6</text>
<line x1="509.6" y1="32" x2="511.3" y2="32" stroke="#111" stroke-width="0.6"/>
<text x="514.6" y="63" font-size="9.4" text-anchor="start" class="b" fill="#111">0.4</text>
<line x1="509.6" y1="59.9" x2="511.3" y2="59.9" stroke="#111" stroke-width="0.6"/>
<text x="514.6" y="90.8" font-size="9.4" text-anchor="start" class="b" fill="#111">0.2</text>
<line x1="509.6" y1="87.7" x2="511.3" y2="87.7" stroke="#111" stroke-width="0.6"/>
<text x="514.6" y="118.5" font-size="9.4" text-anchor="start" class="b" fill="#111">0</text>
<line x1="509.6" y1="115.4" x2="511.3" y2="115.4" stroke="#111" stroke-width="0.6"/>
<text x="538.3" y="76.5" font-size="11.4" text-anchor="middle" class="b" transform="rotate(-90 538.3 76.5)" fill="#111">Frequency shift[kHz]</text>
<clipPath id="cd"><rect x="28.2" y="181.7" width="120.1" height="120.2"/></clipPath><g clip-path="url(#cd)">
<polyline points="28.74,182.57 30.19,192.54 32.27,201.89 34.35,208.12 37.46,211.24 40.58,215.39 42.66,217.05 45.77,214.98 47.85,209.16 49.93,205 53.04,203.97 55.12,198.77 56.57,194.2 59.28,195.03 62.39,197.11 64.47,195.66 66.55,196.7 68.62,196.28 71.74,200.85 74.85,205 77.97,202.51 80.67,201.27 83.16,206.04 85.24,208.74 88.36,208.12 91.47,202.93 93.55,209.16 93.72,209.16 95.39,212.9 97.46,207.08 99.54,203.97 101.62,208.12 103.7,210.2 105.77,207.08 107.43,211.24 109.51,207.08 111.59,201.27 113.67,205 115.74,208.12 118.24,206.04 120.73,202.93 122.81,199.81 124.47,203.97 126.55,201.89 128.21,206.04 130.28,202.93 132.36,200.43 134.44,198.77 135.89,202.51 137.97,200.85 139.42,205 141.09,203.97 143.16,206.67 145.24,205 147.32,202.93 148.36,202.51" fill="none" stroke="#9c1420" stroke-width="1.9" stroke-linejoin="round" stroke-linecap="round"/>
<polyline points="28.74,211.24 30.19,221.62 32.27,229.93 34.35,226.19 36.43,229.52 38.5,233.05 39.96,228.89 41.62,232.42 43.7,230.97 45.77,226.82 47.85,224.74 49.51,219.55 50.97,214.35 53.04,216.43 55.12,211.24 57.2,216.43 59.28,218.51 61.35,214.98 63.43,219.55 65.51,218.51 67.58,222.66 69.66,224.74 71.74,223.28 73.82,226.19 76.93,227.85 79.42,230.97 82.13,233.05 84.2,237.2 86.28,240.32 88.36,237.2 90.43,239.28 92.51,236.16 94.35,235.13 96.43,230.97 98.5,229.93 100.58,235.13 102.66,237.2 104.73,234.09 106.81,235.13 108.89,232.42 110.97,228.89 112.42,227.85 114.5,234.09 116.16,237.2 118.24,234.09 120.31,233.05 122.39,235.13 124.47,229.93 126.55,226.19 128.21,227.85 129.66,233.05 131.74,235.13 133.82,234.09 135.89,236.16 137.97,233.05 139.42,234.09 141.09,231.59 142.75,233.67 144.83,230.97 146.28,235.13 148.36,234.09" fill="none" stroke="#f0870a" stroke-width="1.9" stroke-linejoin="round" stroke-linecap="round"/>
<polyline points="28.74,241.19 30.82,243.27 32.89,248.46 35.39,253.66 37.88,257.81 39.96,260.93 42.03,264.67 43.7,265.08 45.36,263 47.43,259.89 48.89,257.81 50.34,263 52.42,260.51 54.5,256.77 56.16,254.7 57.82,252.62 59.28,254.7 61.35,250.54 63.43,249.5 65.51,250.96 67.17,247.43 69.04,242.23 70.7,247.43 72.78,251.58 74.85,254.7 76.93,256.77 79.01,260.93 80.67,257.81 82.75,263 84.83,266.12 86.9,267.16 88.36,265.08 90.43,269.24 92.51,267.16 93.31,267.16 96.43,264.04 98.5,259.89 100.58,257.81 102.66,258.85 104.73,256.36 106.81,257.81 108.89,256.77 110.97,257.81 113.04,256.77 115.12,260.93 118.24,261.97 121.35,261.34 123.43,262.59 125.51,259.89 126.55,261.97 128.62,264.04 131.12,266.12 133.82,265.08 135.89,264.67 137.97,260.93 140.05,259.89 141.5,256.77 143.16,260.93 145.24,261.97 147.32,258.85 148.36,259.27" fill="none" stroke="#6a14c0" stroke-width="1.9" stroke-linejoin="round" stroke-linecap="round"/>
<polyline points="28.74,269.24 30.82,272.35 32.89,276.51 35.39,281.7 37.46,286.89 39.54,290.42 41.62,291.67 43.7,295.2 45.77,297.28 47.85,298.32 49.51,297.28 50.97,299.36 52.42,295.2 54.08,291.05 56.16,287.93 58.24,283.78 59.9,278.58 61.35,272.35 63.43,274.43 65.51,273.81 67.58,272.98 69.66,272.35 71.74,274.43 73.82,276.51 75.89,277.55 77.97,284.82 80.05,286.89 82.13,287.93 84.2,286.27 86.28,291.05 88.36,293.13 90.43,296.24 92.51,293.75 93.31,294.16 95.39,292.09 97.46,293.13 99.54,291.05 101.62,292.5 103.7,292.09 105.77,295.83 107.43,293.13 108.89,295.2 110.97,292.5 113.04,294.16 115.12,292.09 117.2,291.05 119.28,287.93 121.35,289.59 123.43,288.97 125.51,290.01 127.58,289.59 129.66,291.05 130.7,287.93 132.36,292.09 133.82,295.2 135.89,291.05 137.97,290.01 140.05,288.97 142.13,287.93 144.2,288.97 146.28,282.74 147.32,284.82 148.36,285.44" fill="none" stroke="#1414b4" stroke-width="1.9" stroke-linejoin="round" stroke-linecap="round"/>
</g>
<rect x="28.2" y="182.2" width="120.1" height="119.7" fill="none" stroke="#111" stroke-width="1.2"/>
<path d="M28.2 301.9v2.1 M28.2 182.2v-2.1 M88.25 301.9v2.1 M88.25 182.2v-2.1 M148.3 301.9v2.1 M148.3 182.2v-2.1 M40.21 301.9v1.2 M40.21 182.2v-1.2 M52.22 301.9v1.2 M52.22 182.2v-1.2 M64.23 301.9v1.2 M64.23 182.2v-1.2 M76.24 301.9v1.2 M76.24 182.2v-1.2 M100.26 301.9v1.2 M100.26 182.2v-1.2 M112.27 301.9v1.2 M112.27 182.2v-1.2 M124.28 301.9v1.2 M124.28 182.2v-1.2 M136.29 301.9v1.2 M136.29 182.2v-1.2 M28.2 289h-2.1 M148.3 289h2.1 M28.2 267.6h-2.1 M148.3 267.6h2.1 M28.2 246.2h-2.1 M148.3 246.2h2.1 M28.2 224.8h-2.1 M148.3 224.8h2.1 M28.2 203.4h-2.1 M148.3 203.4h2.1 M28.2 182h-2.1 M148.3 182h2.1 M28.2 301.84h-1.2 M148.3 301.84h1.2 M28.2 299.7h-1.2 M148.3 299.7h1.2 M28.2 297.56h-1.2 M148.3 297.56h1.2 M28.2 295.42h-1.2 M148.3 295.42h1.2 M28.2 293.28h-1.2 M148.3 293.28h1.2 M28.2 291.14h-1.2 M148.3 291.14h1.2 M28.2 286.86h-1.2 M148.3 286.86h1.2 M28.2 284.72h-1.2 M148.3 284.72h1.2 M28.2 282.58h-1.2 M148.3 282.58h1.2 M28.2 280.44h-1.2 M148.3 280.44h1.2 M28.2 278.3h-1.2 M148.3 278.3h1.2 M28.2 276.16h-1.2 M148.3 276.16h1.2 M28.2 274.02h-1.2 M148.3 274.02h1.2 M28.2 271.88h-1.2 M148.3 271.88h1.2 M28.2 269.74h-1.2 M148.3 269.74h1.2 M28.2 265.46h-1.2 M148.3 265.46h1.2 M28.2 263.32h-1.2 M148.3 263.32h1.2 M28.2 261.18h-1.2 M148.3 261.18h1.2 M28.2 259.04h-1.2 M148.3 259.04h1.2 M28.2 256.9h-1.2 M148.3 256.9h1.2 M28.2 254.76h-1.2 M148.3 254.76h1.2 M28.2 252.62h-1.2 M148.3 252.62h1.2 M28.2 250.48h-1.2 M148.3 250.48h1.2 M28.2 248.34h-1.2 M148.3 248.34h1.2 M28.2 244.06h-1.2 M148.3 244.06h1.2 M28.2 241.92h-1.2 M148.3 241.92h1.2 M28.2 239.78h-1.2 M148.3 239.78h1.2 M28.2 237.64h-1.2 M148.3 237.64h1.2 M28.2 235.5h-1.2 M148.3 235.5h1.2 M28.2 233.36h-1.2 M148.3 233.36h1.2 M28.2 231.22h-1.2 M148.3 231.22h1.2 M28.2 229.08h-1.2 M148.3 229.08h1.2 M28.2 226.94h-1.2 M148.3 226.94h1.2 M28.2 222.66h-1.2 M148.3 222.66h1.2 M28.2 220.52h-1.2 M148.3 220.52h1.2 M28.2 218.38h-1.2 M148.3 218.38h1.2 M28.2 216.24h-1.2 M148.3 216.24h1.2 M28.2 214.1h-1.2 M148.3 214.1h1.2 M28.2 211.96h-1.2 M148.3 211.96h1.2 M28.2 209.82h-1.2 M148.3 209.82h1.2 M28.2 207.68h-1.2 M148.3 207.68h1.2 M28.2 205.54h-1.2 M148.3 205.54h1.2 M28.2 201.26h-1.2 M148.3 201.26h1.2 M28.2 199.12h-1.2 M148.3 199.12h1.2 M28.2 196.98h-1.2 M148.3 196.98h1.2 M28.2 194.84h-1.2 M148.3 194.84h1.2 M28.2 192.7h-1.2 M148.3 192.7h1.2 M28.2 190.56h-1.2 M148.3 190.56h1.2 M28.2 188.42h-1.2 M148.3 188.42h1.2 M28.2 186.28h-1.2 M148.3 186.28h1.2 M28.2 184.14h-1.2 M148.3 184.14h1.2" stroke="#111" stroke-width="0.9" fill="none"/>
<text x="22.8" y="292.3" font-size="9.4" text-anchor="end" class="b" fill="#111">0</text>
<text x="22.8" y="270.9" font-size="9.4" text-anchor="end" class="b" fill="#111">1</text>
<text x="22.8" y="249.5" font-size="9.4" text-anchor="end" class="b" fill="#111">2</text>
<text x="22.8" y="228.1" font-size="9.4" text-anchor="end" class="b" fill="#111">3</text>
<text x="22.8" y="206.7" font-size="9.4" text-anchor="end" class="b" fill="#111">4</text>
<text x="22.8" y="185.3" font-size="9.4" text-anchor="end" class="b" fill="#111">5</text>
<text x="28.2" y="316.6" font-size="9.4" text-anchor="middle" class="b" fill="#111">0</text>
<text x="88.25" y="316.6" font-size="9.4" text-anchor="middle" class="b" fill="#111">0.5</text>
<text x="147.8" y="316.6" font-size="9.4" text-anchor="middle" class="b" fill="#111">1</text>
<text x="88" y="329.7" font-size="11.3" text-anchor="middle" class="b" fill="#111">z[nm]</text>
<text x="11.8" y="242" font-size="11.4" text-anchor="middle" class="b" transform="rotate(-90 11.8 242)" fill="#111">Frequency shift[kHz]</text>
<text x="31.5" y="179" font-size="10.5" text-anchor="middle" class="b" fill="#111">d</text>
<clipPath id="ce"><rect x="199" y="181.7" width="120.3" height="120.7"/></clipPath><g clip-path="url(#ce)">
<polyline points="199.57,184.23 201.23,192.54 204.35,195.66 206.43,200.85 208.5,208.12 210.58,215.39 212.66,220.58 214.73,221.21 216.4,221.62 217.85,215.39 219.51,205 220.97,194.62 222.42,187.97 224.08,186.72 226.16,190.46 227.82,192.54 229.28,197.73 231.35,201.89 232.81,208.12 234.47,205 236.13,206.04 237.58,211.24 239.66,214.98 241.74,214.98 243.82,211.24 245.89,208.12 247.97,206.04 250.05,204.59 252.13,200.85 253.79,197.73 256.28,198.77 258.12,200.43 260.82,201.27 262.89,198.36 264.35,203.97 266.43,209.16 268.5,207.5 270.58,208.74 272.66,206.04 274.73,206.67 276.81,205 278.89,206.04 280.97,207.08 283.04,209.16 285.12,212.28 286.57,209.16 288.24,206.04 290.31,207.08 292.39,201.89 294.47,200.43 296.55,201.27 299.04,204.59 301.74,207.71 304.85,207.08 306.93,202.51 308.59,201.89 310.05,206.67 312.13,202.93 314.2,203.97 316.28,200.85 318.36,202.93" fill="none" stroke="#8c8c8c" stroke-width="1.7" stroke-linejoin="round" stroke-linecap="round"/>
<polyline points="199.57,211.24 201.23,212.28 202.89,223.7 204.35,230.97 206.43,228.89 208.5,230.97 210.58,230.35 213.28,233.67 215.77,230.97 218.27,227.85 220.97,225.78 223.04,223.7 225.12,222.66 227.2,224.74 229.9,226.82 231.98,222.66 233.43,218.51 235.51,217.47 237.58,218.51 239.66,220.58 241.74,221.62 243.82,224.12 245.89,226.82 247.97,229.93 250.05,233.05 252.13,234.5 254.2,238.24 255,239.9 257.49,240.32 260.19,239.28 262.27,240.32 264.35,236.16 266.43,239.28 268.5,240.32 270.58,238.24 273.28,239.28 275.77,236.16 278.27,230.97 280.34,228.89 282.42,229.52 284.08,227.44 285.74,228.27 287.2,232.42 289.28,236.16 291.35,235.13 293.43,230.97 295.51,235.13 296.96,238.24 298.62,235.13 301.12,236.16 303.19,237.2 305.27,235.13 307.35,237.2 309.42,240.32 311.09,234.09 313.16,235.13 315.24,233.05 316.9,235.13 318.36,230.97" fill="none" stroke="#8c8c8c" stroke-width="1.7" stroke-linejoin="round" stroke-linecap="round"/>
<polyline points="199.57,239.12 201.23,242.23 203.31,246.39 205.39,249.5 207.46,253.66 209.54,257.81 211.62,260.93 213.7,261.97 215.77,262.59 217.85,261.97 219.93,261.34 221.59,257.81 223.04,260.93 224.5,259.89 226.16,261.34 228.24,264.04 229.9,266.74 231.35,261.97 232.39,267.16 234.05,260.93 235.51,257.81 237.17,253.66 238.62,251.58 240.7,250.96 242.78,252.62 244.44,251.58 245.48,248.46 246.93,251.58 249.01,253.03 251.09,254.28 253.16,256.77 255,261.97 257.08,264.04 259.15,266.74 260.82,261.97 262.27,266.12 263.72,263 265.8,265.08 267.88,267.16 269.96,268.2 271.62,267.16 273.7,260.93 275.77,261.97 277.85,262.59 279.93,260.93 281.59,262.59 283.04,260.51 284.5,263.42 286.16,263 288.24,260.93 290.31,259.89 292.39,260.93 294.05,256.77 295.51,255.73 296.96,259.89 298.62,262.59 300.7,261.97 302.78,261.34 304.44,257.81 305.89,260.93 307.97,262.59 310.05,260.93 312.13,262.59 314.2,263 316.28,259.89 317.73,264.04 318.36,265.08" fill="none" stroke="#0c0c0c" stroke-width="2" stroke-linejoin="round" stroke-linecap="round"/>
<polyline points="199.57,270.28 200.82,276.51 202.27,277.55 203.72,284.82 205.39,291.05 207.05,293.13 208.5,291.05 209.96,292.09 211.62,291.67 213.28,290.42 214.73,292.09 216.81,291.67 218.89,292.5 220.97,292.09 222.42,291.05 224.08,293.13 226.16,294.16 227.82,297.28 229.28,298.32 231.35,299.36 233.43,299.98 234.88,300.81 236.13,298.32 237.58,295.2 239.04,294.16 240.28,295.83 241.74,293.13 243.19,290.42 244.85,285.85 246.52,281.7 247.97,277.55 249.42,273.81 250.67,272.35 252.75,272.98 254.2,274.43 255,277.55 257.08,280.66 259.15,282.74 261.23,284.82 263.31,285.85 265.39,287.93 267.46,286.89 269.54,288.97 271.62,290.42 273.7,292.09 275.77,294.58 277.43,292.09 278.89,293.13 280.97,290.42 283.04,291.67 285.12,292.09 287.2,293.75 289.28,291.05 290.73,292.5 292.39,290.42 294.47,287.93 296.55,286.89 298.62,287.93 300.28,290.42 302.36,285.85 303.82,284.19 305.89,286.89 307.97,287.93 310.05,288.97 312.13,288.35 314.2,292.09 316.28,291.05 318.36,290.42" fill="none" stroke="#0c0c0c" stroke-width="2" stroke-linejoin="round" stroke-linecap="round"/>
</g>
<rect x="199" y="182.2" width="120.3" height="120.2" fill="none" stroke="#111" stroke-width="1.2"/>
<path d="M199 302.4v2.1 M199 182.2v-2.1 M259.15 302.4v2.1 M259.15 182.2v-2.1 M319.3 302.4v2.1 M319.3 182.2v-2.1 M211.03 302.4v1.2 M211.03 182.2v-1.2 M223.06 302.4v1.2 M223.06 182.2v-1.2 M235.09 302.4v1.2 M235.09 182.2v-1.2 M247.12 302.4v1.2 M247.12 182.2v-1.2 M271.18 302.4v1.2 M271.18 182.2v-1.2 M283.21 302.4v1.2 M283.21 182.2v-1.2 M295.24 302.4v1.2 M295.24 182.2v-1.2 M307.27 302.4v1.2 M307.27 182.2v-1.2 M199 289h-2.1 M319.3 289h2.1 M199 267.6h-2.1 M319.3 267.6h2.1 M199 246.2h-2.1 M319.3 246.2h2.1 M199 224.8h-2.1 M319.3 224.8h2.1 M199 203.4h-2.1 M319.3 203.4h2.1 M199 182h-2.1 M319.3 182h2.1 M199 301.84h-1.2 M319.3 301.84h1.2 M199 299.7h-1.2 M319.3 299.7h1.2 M199 297.56h-1.2 M319.3 297.56h1.2 M199 295.42h-1.2 M319.3 295.42h1.2 M199 293.28h-1.2 M319.3 293.28h1.2 M199 291.14h-1.2 M319.3 291.14h1.2 M199 286.86h-1.2 M319.3 286.86h1.2 M199 284.72h-1.2 M319.3 284.72h1.2 M199 282.58h-1.2 M319.3 282.58h1.2 M199 280.44h-1.2 M319.3 280.44h1.2 M199 278.3h-1.2 M319.3 278.3h1.2 M199 276.16h-1.2 M319.3 276.16h1.2 M199 274.02h-1.2 M319.3 274.02h1.2 M199 271.88h-1.2 M319.3 271.88h1.2 M199 269.74h-1.2 M319.3 269.74h1.2 M199 265.46h-1.2 M319.3 265.46h1.2 M199 263.32h-1.2 M319.3 263.32h1.2 M199 261.18h-1.2 M319.3 261.18h1.2 M199 259.04h-1.2 M319.3 259.04h1.2 M199 256.9h-1.2 M319.3 256.9h1.2 M199 254.76h-1.2 M319.3 254.76h1.2 M199 252.62h-1.2 M319.3 252.62h1.2 M199 250.48h-1.2 M319.3 250.48h1.2 M199 248.34h-1.2 M319.3 248.34h1.2 M199 244.06h-1.2 M319.3 244.06h1.2 M199 241.92h-1.2 M319.3 241.92h1.2 M199 239.78h-1.2 M319.3 239.78h1.2 M199 237.64h-1.2 M319.3 237.64h1.2 M199 235.5h-1.2 M319.3 235.5h1.2 M199 233.36h-1.2 M319.3 233.36h1.2 M199 231.22h-1.2 M319.3 231.22h1.2 M199 229.08h-1.2 M319.3 229.08h1.2 M199 226.94h-1.2 M319.3 226.94h1.2 M199 222.66h-1.2 M319.3 222.66h1.2 M199 220.52h-1.2 M319.3 220.52h1.2 M199 218.38h-1.2 M319.3 218.38h1.2 M199 216.24h-1.2 M319.3 216.24h1.2 M199 214.1h-1.2 M319.3 214.1h1.2 M199 211.96h-1.2 M319.3 211.96h1.2 M199 209.82h-1.2 M319.3 209.82h1.2 M199 207.68h-1.2 M319.3 207.68h1.2 M199 205.54h-1.2 M319.3 205.54h1.2 M199 201.26h-1.2 M319.3 201.26h1.2 M199 199.12h-1.2 M319.3 199.12h1.2 M199 196.98h-1.2 M319.3 196.98h1.2 M199 194.84h-1.2 M319.3 194.84h1.2 M199 192.7h-1.2 M319.3 192.7h1.2 M199 190.56h-1.2 M319.3 190.56h1.2 M199 188.42h-1.2 M319.3 188.42h1.2 M199 186.28h-1.2 M319.3 186.28h1.2 M199 184.14h-1.2 M319.3 184.14h1.2" stroke="#111" stroke-width="0.9" fill="none"/>
<text x="193.3" y="292.3" font-size="9.4" text-anchor="end" class="b" fill="#111">0</text>
<text x="193.3" y="270.9" font-size="9.4" text-anchor="end" class="b" fill="#111">1</text>
<text x="193.3" y="249.5" font-size="9.4" text-anchor="end" class="b" fill="#111">2</text>
<text x="193.3" y="228.1" font-size="9.4" text-anchor="end" class="b" fill="#111">3</text>
<text x="193.3" y="206.7" font-size="9.4" text-anchor="end" class="b" fill="#111">4</text>
<text x="193.3" y="185.3" font-size="9.4" text-anchor="end" class="b" fill="#111">5</text>
<text x="199" y="316.6" font-size="9.4" text-anchor="middle" class="b" fill="#111">0</text>
<text x="259.15" y="316.6" font-size="9.4" text-anchor="middle" class="b" fill="#111">0.5</text>
<text x="318.8" y="316.6" font-size="9.4" text-anchor="middle" class="b" fill="#111">1</text>
<text x="259.5" y="329.5" font-size="11.3" text-anchor="middle" class="b" fill="#111">z[nm]</text>
<text x="183" y="242" font-size="11.4" text-anchor="middle" class="b" transform="rotate(-90 183 242)" fill="#111">Frequency shift[kHz]</text>
<text x="201.5" y="179" font-size="10.5" text-anchor="middle" class="b" fill="#111">e</text>
<rect x="388.4" y="301.1" width="3.75" height="0.6" fill="#bb6a50" stroke="#6e3526" stroke-width="0.7"/>
<rect x="392.15" y="294.1" width="3.75" height="7.6" fill="#bb6a50" stroke="#6e3526" stroke-width="0.7"/>
<rect x="392.15" y="291.5" width="3.75" height="2.6" fill="#f99a6c" stroke="#b4553a" stroke-width="0.7"/>
<rect x="395.9" y="277.7" width="3.75" height="24" fill="#bb6a50" stroke="#6e3526" stroke-width="0.7"/>
<rect x="395.9" y="277" width="3.75" height="0.7" fill="#f99a6c" stroke="#b4553a" stroke-width="0.7"/>
<rect x="399.65" y="254.7" width="3.75" height="47" fill="#bb6a50" stroke="#6e3526" stroke-width="0.7"/>
<rect x="399.65" y="254.1" width="3.75" height="0.6" fill="#f99a6c" stroke="#b4553a" stroke-width="0.7"/>
<rect x="403.4" y="233" width="3.75" height="68.7" fill="#bb6a50" stroke="#6e3526" stroke-width="0.7"/>
<rect x="403.4" y="225.9" width="3.75" height="7.1" fill="#1aa2dc" stroke="#0a5a8c" stroke-width="0.7"/>
<rect x="407.15" y="230.2" width="3.75" height="71.5" fill="#bb6a50" stroke="#6e3526" stroke-width="0.7"/>
<rect x="407.15" y="227.9" width="3.75" height="2.3" fill="#f99a6c" stroke="#b4553a" stroke-width="0.7"/>
<rect x="410.9" y="268.1" width="3.75" height="33.6" fill="#bb6a50" stroke="#6e3526" stroke-width="0.7"/>
<rect x="410.9" y="258.4" width="3.75" height="9.7" fill="#1aa2dc" stroke="#0a5a8c" stroke-width="0.7"/>
<rect x="414.65" y="243.7" width="3.75" height="58" fill="#bb6a50" stroke="#6e3526" stroke-width="0.7"/>
<rect x="414.65" y="241.4" width="3.75" height="2.3" fill="#f99a6c" stroke="#b4553a" stroke-width="0.7"/>
<rect x="418.4" y="244.7" width="3.75" height="57" fill="#bb6a50" stroke="#6e3526" stroke-width="0.7"/>
<rect x="418.4" y="243.9" width="3.75" height="0.8" fill="#f99a6c" stroke="#b4553a" stroke-width="0.7"/>
<rect x="422.15" y="257.4" width="3.75" height="44.3" fill="#bb6a50" stroke="#6e3526" stroke-width="0.7"/>
<rect x="422.15" y="245.7" width="3.75" height="11.7" fill="#1aa2dc" stroke="#0a5a8c" stroke-width="0.7"/>
<rect x="425.9" y="260.2" width="3.75" height="41.5" fill="#bb6a50" stroke="#6e3526" stroke-width="0.7"/>
<rect x="425.9" y="259.2" width="3.75" height="1" fill="#f99a6c" stroke="#b4553a" stroke-width="0.7"/>
<rect x="429.65" y="265.7" width="3.75" height="36" fill="#bb6a50" stroke="#6e3526" stroke-width="0.7"/>
<rect x="429.65" y="265.1" width="3.75" height="0.6" fill="#f99a6c" stroke="#b4553a" stroke-width="0.7"/>
<rect x="433.4" y="280.8" width="3.75" height="20.9" fill="#bb6a50" stroke="#6e3526" stroke-width="0.7"/>
<rect x="433.4" y="273.2" width="3.75" height="7.6" fill="#f99a6c" stroke="#b4553a" stroke-width="0.7"/>
<rect x="437.15" y="282.9" width="3.75" height="18.8" fill="#bb6a50" stroke="#6e3526" stroke-width="0.7"/>
<rect x="437.15" y="280.8" width="3.75" height="2.1" fill="#f99a6c" stroke="#b4553a" stroke-width="0.7"/>
<rect x="440.9" y="290.5" width="3.75" height="11.2" fill="#bb6a50" stroke="#6e3526" stroke-width="0.7"/>
<rect x="440.9" y="287.2" width="3.75" height="3.3" fill="#1aa2dc" stroke="#0a5a8c" stroke-width="0.7"/>
<rect x="444.65" y="291.5" width="3.75" height="10.2" fill="#bb6a50" stroke="#6e3526" stroke-width="0.7"/>
<rect x="444.65" y="289.7" width="3.75" height="1.8" fill="#f99a6c" stroke="#b4553a" stroke-width="0.7"/>
<rect x="448.4" y="293.1" width="3.75" height="8.6" fill="#bb6a50" stroke="#6e3526" stroke-width="0.7"/>
<rect x="448.4" y="292.3" width="3.75" height="0.8" fill="#f99a6c" stroke="#b4553a" stroke-width="0.7"/>
<rect x="452.15" y="297.1" width="3.75" height="4.6" fill="#bb6a50" stroke="#6e3526" stroke-width="0.7"/>
<rect x="452.15" y="296.7" width="3.75" height="0.4" fill="#f99a6c" stroke="#b4553a" stroke-width="0.7"/>
<rect x="455.9" y="298.1" width="3.75" height="3.6" fill="#bb6a50" stroke="#6e3526" stroke-width="0.7"/>
<rect x="455.9" y="297.4" width="3.75" height="0.7" fill="#f99a6c" stroke="#b4553a" stroke-width="0.7"/>
<rect x="459.65" y="299.7" width="3.75" height="2" fill="#bb6a50" stroke="#6e3526" stroke-width="0.7"/>
<rect x="459.65" y="299.2" width="3.75" height="0.5" fill="#f99a6c" stroke="#b4553a" stroke-width="0.7"/>
<rect x="463.4" y="300.9" width="3.75" height="0.8" fill="#bb6a50" stroke="#6e3526" stroke-width="0.7"/>
<rect x="467.15" y="301.4" width="3.75" height="0.3" fill="#bb6a50" stroke="#6e3526" stroke-width="0.7"/>
<rect x="470.9" y="301.4" width="3.75" height="0.3" fill="#bb6a50" stroke="#6e3526" stroke-width="0.7"/>
<rect x="472.77" y="301.2" width="3.75" height="0.5" fill="#bb6a50" stroke="#6e3526" stroke-width="0.7"/>
<rect x="472.77" y="300.7" width="3.75" height="0.5" fill="#1aa2dc" stroke="#0a5a8c" stroke-width="0.7"/>
<rect x="476.52" y="300.1" width="3.75" height="1.6" fill="#bb6a50" stroke="#6e3526" stroke-width="0.7"/>
<rect x="476.52" y="299.3" width="3.75" height="0.8" fill="#f99a6c" stroke="#b4553a" stroke-width="0.7"/>
<rect x="373.4" y="182" width="121.1" height="119.7" fill="none" stroke="#111" stroke-width="1.2"/>
<path d="M373.4 301.7v2.1 M373.4 182v-2.1 M403.4 301.7v2.1 M403.4 182v-2.1 M433.4 301.7v2.1 M433.4 182v-2.1 M463.4 301.7v2.1 M463.4 182v-2.1 M493.4 301.7v2.1 M493.4 182v-2.1 M380.9 301.7v1.2 M380.9 182v-1.2 M388.4 301.7v1.2 M388.4 182v-1.2 M395.9 301.7v1.2 M395.9 182v-1.2 M410.9 301.7v1.2 M410.9 182v-1.2 M418.4 301.7v1.2 M418.4 182v-1.2 M425.9 301.7v1.2 M425.9 182v-1.2 M440.9 301.7v1.2 M440.9 182v-1.2 M448.4 301.7v1.2 M448.4 182v-1.2 M455.9 301.7v1.2 M455.9 182v-1.2 M470.9 301.7v1.2 M470.9 182v-1.2 M478.4 301.7v1.2 M478.4 182v-1.2 M485.9 301.7v1.2 M485.9 182v-1.2 M373.4 301.7h-2.1 M494.5 301.7h2.1 M373.4 242.1h-2.1 M494.5 242.1h2.1 M373.4 182h-2.1 M494.5 182h2.1 M373.4 295.74h-1.2 M494.5 295.74h1.2 M373.4 289.78h-1.2 M494.5 289.78h1.2 M373.4 283.82h-1.2 M494.5 283.82h1.2 M373.4 277.86h-1.2 M494.5 277.86h1.2 M373.4 271.9h-1.2 M494.5 271.9h1.2 M373.4 265.94h-1.2 M494.5 265.94h1.2 M373.4 259.98h-1.2 M494.5 259.98h1.2 M373.4 254.02h-1.2 M494.5 254.02h1.2 M373.4 248.06h-1.2 M494.5 248.06h1.2 M373.4 236.14h-1.2 M494.5 236.14h1.2 M373.4 230.18h-1.2 M494.5 230.18h1.2 M373.4 224.22h-1.2 M494.5 224.22h1.2 M373.4 218.26h-1.2 M494.5 218.26h1.2 M373.4 212.3h-1.2 M494.5 212.3h1.2 M373.4 206.34h-1.2 M494.5 206.34h1.2 M373.4 200.38h-1.2 M494.5 200.38h1.2 M373.4 194.42h-1.2 M494.5 194.42h1.2 M373.4 188.46h-1.2 M494.5 188.46h1.2" stroke="#111" stroke-width="0.9" fill="none"/>
<text x="368" y="304.9" font-size="9.4" text-anchor="end" class="b" fill="#111">0</text>
<text x="368" y="245.3" font-size="9.4" text-anchor="end" class="b" fill="#111">0.1</text>
<text x="368" y="186.2" font-size="9.4" text-anchor="end" class="b" fill="#111">0.2</text>
<text x="373.4" y="316.8" font-size="9.4" text-anchor="middle" class="b" fill="#111">0</text>
<text x="403.4" y="316.8" font-size="9.4" text-anchor="middle" class="b" fill="#111">0.2</text>
<text x="433.4" y="316.8" font-size="9.4" text-anchor="middle" class="b" fill="#111">0.4</text>
<text x="463.4" y="316.8" font-size="9.4" text-anchor="middle" class="b" fill="#111">0.6</text>
<text x="493.4" y="316.8" font-size="9.4" text-anchor="middle" class="b" fill="#111">0.8</text>
<text x="434" y="329.5" font-size="11.3" text-anchor="middle" class="b" fill="#111">Period width [nm]</text>
<text x="349.5" y="242.5" font-size="11.1" text-anchor="middle" class="b" transform="rotate(-90 349.5 242.5)" fill="#111">Frequency (normalized)</text>
<text x="375.5" y="179" font-size="10.5" text-anchor="middle" class="b" fill="#111">f</text>
<rect x="381.5" y="184.8" width="102.5" height="24.6" fill="#fff" stroke="#222" stroke-width="0.8"/>
<rect x="385.4" y="187.8" width="16.6" height="8.6" fill="#1aa2dc" stroke="#0a5a8c" stroke-width="0.6"/>
<rect x="385.4" y="199.6" width="16.6" height="8.4" fill="#f99a6c" stroke="#b4553a" stroke-width="0.6"/>
<text x="403.6" y="195.3" font-size="10" text-anchor="start" fill="#111">DNA (1074 counts)</text>
<text x="403.6" y="206.9" font-size="10" text-anchor="start" fill="#111">mica (849 counts)</text>
</svg>
</body></html>
